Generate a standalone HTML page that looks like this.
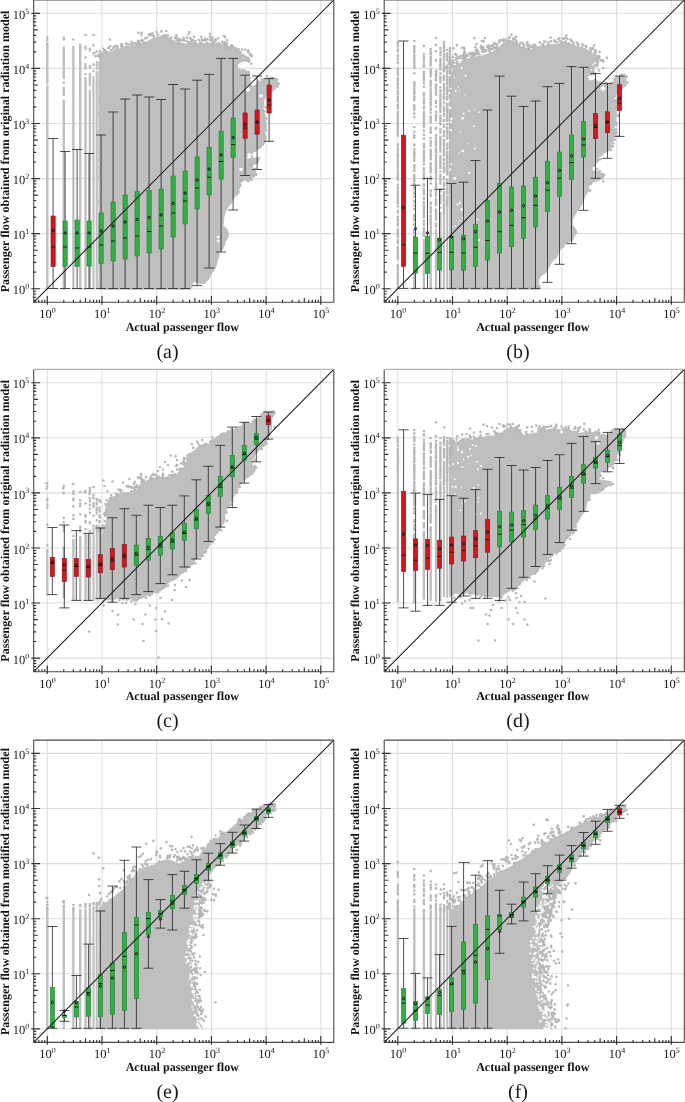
<!DOCTYPE html>
<html lang="en"><head><meta charset="utf-8"><title>Passenger flow: radiation model comparison</title>
<style>
html,body{margin:0;padding:0;background:#fff}
svg{display:block}
text{font-family:"Liberation Serif","Times New Roman",serif;fill:#1a1a1a;text-rendering:geometricPrecision}
.tk{font-size:12.5px}
.sp{font-size:8px}
.ax{font-size:12.1px;font-weight:bold;fill:#111}
.pl{font-size:20px}
</style></head><body>
<svg width="685" height="1102" viewBox="0 0 685 1102">
<rect width="685" height="1102" fill="#fff"/>
<g id="panel-a">
<clipPath id="cla"><rect x="33.7" y="0" width="300.1" height="302.3"/></clipPath>
<path d="M47.3 0V302.3M33.7 288.7H333.8M102 0V302.3M33.7 233.6H333.8M156.7 0V302.3M33.7 178.6H333.8M211.4 0V302.3M33.7 123.5H333.8M266.1 0V302.3M33.7 68.4H333.8M320.8 0V302.3M33.7 13.3H333.8" stroke="#dedede" stroke-width="1.1" fill="none"/>
<g clip-path="url(#cla)">
<path d="M99.5 288.9L99 286.4L99.3 283.4L100 279.9L99.6 275.9L100.2 274.3L99.3 269.9L99.4 267.9L100.1 264.1L99.2 261.1L99.3 258L100.2 255L99.6 251.7L99.9 248.7L98.7 246.4L100.2 243.5L99.9 240.2L100.4 236.8L98.6 234.4L99.5 230.6L98.7 228.3L99 224.4L100.4 222.9L98.9 218.1L99.9 215.9L99.9 212.1L100.3 210.3L100.2 206L99.6 204.4L98.7 201.1L99.6 197.9L99.6 194.5L100 191.6L99.7 189.1L99.7 185.2L100.2 183.4L99 178.9L99.1 176.5L99.5 174.3L99.9 170.5L99 167.3L100.2 164.4L98.6 160.9L98.7 158.3L100.3 155.8L98.7 152.8L99.1 149.9L99.3 146.5L99.5 142.4L99.5 140.7L99.4 137L99.4 134.7L98.9 130.8L100 128.5L99.3 124.4L100.2 121.2L100.2 119.5L98.6 115.3L98.9 112.2L99.7 110.1L99.4 105.9L98.7 103.1L99.2 99.9L98.9 97.6L99.4 94.7L100.1 90.7L98.8 87.9L100 85.9L98.9 81.8L99.3 78.3L99.3 76.3L99.5 74L99.9 70.9L99.3 67.3L99.9 64.9L100.1 61.7L100 57.8L101.4 55.2L103.8 51.4L108.8 52.4L112.1 52L114.8 51L117.4 49.6L121.8 48.8L123.6 48.6L127.5 46.7L133.5 46.1L136.8 46.1L140.5 44.9L143.4 43.6L147.7 42L150.9 39.7L155.1 38.3L160.4 36.5L164.7 35.2L168.9 38.3L171.8 40.1L175.1 42.2L179.3 43.3L183.5 43.7L189.1 45.1L192.1 45.3L195 43.8L198.2 44L201.4 43.7L204.3 44.8L207.6 44.3L210.5 43.5L214.8 44.4L218.5 42.6L223.1 46.3L226.8 47.8L230 49.3L233.1 51.7L235.4 51.6L239 52.7L243.1 55L246.2 56.7L248.6 58.7L247.5 61L241.6 60.8L238.2 63.4L235.2 65.7L239.7 70.4L243.8 70.2L248.3 72.1L247.7 76L249.1 79.4L246.4 81.4L249.8 83.1L251.3 86L256.9 86.5L259.3 82.6L264.2 79.2L268.1 78.6L271.9 78.4L274.5 77.7L275.5 83.3L274.9 88.8L271.4 91.7L267.7 94.1L266.1 95.4L263.5 100.1L263.6 105.7L261.8 110.8L264.7 115.2L265.1 121.3L266.3 125.2L264.9 130.4L263.7 132.5L264.5 135.9L263.9 139L263.1 144.6L259.2 148.4L256 149.6L253.6 150.6L250.9 152.8L246.2 151.9L243.7 154.2L244.6 157.6L248.5 159.9L250.9 158.8L254.2 158.2L259.5 157.7L257.6 162.6L253.8 164.2L251.1 163.8L252.6 168.2L255.3 171.6L254.2 174.9L251 178.7L248.1 181.6L244.6 179.3L241.6 178.4L240.4 182.6L239.8 186.3L237.4 191.3L235.6 195.3L232.4 199.4L231.2 202.4L228.5 205.7L226.5 208.6L224.6 212.6L223.7 216.1L223.4 219.8L222.5 225.8L226.5 229.2L228.2 233.9L227.7 237L225.4 240.6L223.8 246L222.1 249.4L218.6 251.9L218.7 256.2L217.2 259.8L216.2 264.2L215.3 267.1L214.1 270L211 273.2L209.3 277.1L208.6 278.6L204.3 283.1L200.2 283.2L198.1 282.5L193.4 281.1L191.5 285.1L190.5 288.9L187.5 288.9L184.4 288.9L181.4 288.9L178.4 288.9L175.3 288.9L172.3 288.9L169.3 288.9L166.2 288.9L163.2 288.9L160.2 288.9L157.1 288.9L154.1 288.9L151.1 288.9L148 288.9L145 288.9L142 288.9L138.9 288.9L135.9 288.9L132.9 288.9L129.8 288.9L126.8 288.9L123.8 288.9L120.7 288.9L117.7 288.9L114.7 288.9L111.6 288.9L108.6 288.9L105.6 288.9L102.5 288.9Z" fill="#bfbfbf" stroke="#bfbfbf" stroke-width="1.6" stroke-linejoin="round"/>
<path d="M47.3 47V83M47.3 86.5V288.5M63.8 47.5V78M63.8 87.5V95M63.8 100.5V288.5M73.4 47V103M73.4 105V288.5M80.2 44.5V288.5M85.5 46.5V49M85.5 64V68.5M85.5 78V288.5M89.9 48.5V50.5M89.9 66V68M89.9 74V85.5M89.9 90.5V288.5" stroke="#bfbfbf" stroke-width="2.4" stroke-linecap="round" fill="none"/>
<path d="M93.5 44.5V46M93.5 77V288.5M96.7 62V69M96.7 72V288.5M99.5 62V288.5" stroke="#bfbfbf" stroke-width="2.1" stroke-linecap="round" fill="none"/>
<path d="M47.3 40h0M47.3 45.5h0M47.3 44.8h0M47.3 43.6h0M47.3 37.5h0M63.8 39.3h0M63.8 38.6h0M63.8 37.7h0M63.8 82.5h0M73.4 39.5h0M85.5 35h0M85.5 57.5h0M85.5 74h0M93.5 35h0M93.5 53.5h0M93.5 64.7h0M93.5 71h0M96.7 51.5h0M99.5 56.9h0M99.5 55.9h0M99.5 54h0M240.5 52.3h0M189.4 32h0M106 51.6h0M236 48.8h0M178.7 39.5h0M204.2 40.1h0M126.2 46.5h0M210.3 40h0M117.5 46.3h0M121.6 47.4h0M184.4 40.5h0M190.3 43.9h0M137.4 45.3h0M191.2 41.5h0M203.3 40.2h0M179.2 38.9h0M132.6 44.6h0M167.9 35.6h0M224 36.1h0M108.5 47.8h0M237.9 52.1h0M182.8 40.1h0M224.9 42.2h0M251.6 56.3h0M144.3 43h0M235.3 48h0M180 43.7h0M212.5 37.6h0M128.1 44.3h0M161.4 31.4h0M198.7 40.1h0M157.9 34.7h0M186.5 40.7h0M142.1 40.1h0M247.7 51.6h0M133.7 43.2h0M234.5 50h0M120.9 44.5h0M176.4 38.7h0M99.8 51.1h0M230.1 47.9h0M147.2 37.7h0M231.6 45.4h0M238 50.2h0M156.6 32.1h0M140.7 44h0M232.6 46h0M138 40.7h0M211.6 44h0M141.3 35.2h0M250.3 54.4h0M204.1 40.4h0M215.4 41.5h0M247.5 58.4h0M183.6 39.7h0M191.3 39.3h0M201.8 43.7h0M187.1 37.6h0M181.3 40.3h0M248.2 50.4h0M205.2 38.9h0M121.1 45.5h0M105.2 50.3h0M204.9 40.6h0M139.2 41.7h0M207.5 39.2h0M238.8 49.2h0M108.8 48.2h0M210.2 34.1h0M190.2 38.2h0M230.8 47.3h0M213.5 43.1h0M212.4 40.2h0M244.9 49.5h0M238.9 51.8h0M188.5 34.2h0M141.7 32.9h0M94.3 53h0M248.5 52.3h0M241.9 49.6h0M176.4 35.2h0M126.2 43.6h0M175.1 37.9h0M210.1 37.1h0M212.4 39.6h0M114.2 46.9h0M191.7 42.4h0M201.8 39.5h0M233.2 47.6h0M110.4 46.1h0M231.2 46.6h0M121.5 47.2h0M194.3 43.4h0M195.7 43.7h0M228.3 47.1h0M183.9 39.3h0M163.8 35.8h0M95.4 56.1h0M111.2 50h0M136.2 43.2h0M117.2 47.7h0M188.3 42.9h0M251.9 55.9h0M215.3 40.9h0M153.6 35.9h0M136 43.9h0M165.2 35.3h0M225.4 44.5h0M251.8 55.6h0M179 43.1h0M131.5 41.8h0M237.2 50.3h0M193.8 43.8h0M249.1 61.6h0M130.8 44.4h0M141.6 44.2h0M97.5 55.7h0M204.5 44.3h0M194 36.7h0M179 41h0M113.3 48.8h0M171.2 37.6h0M176.5 37.3h0M251.2 63.7h0M125.4 47.4h0M250.2 54.9h0M188.6 42.4h0M225 46h0M201.2 36.7h0M227.1 40.3h0M138.6 44.4h0M145 38.4h0M195.3 41.1h0M205.6 40.3h0M110 39.6h0M113.7 46.7h0M234.2 49.3h0M183.4 37.7h0M149.6 35.5h0M227 43.9h0M137.8 42.9h0M104.5 50h0M212.5 41.9h0M176.5 40.4h0M215.5 39.2h0M223.5 44h0M138.5 32.7h0M116.2 49.6h0M200.2 42.6h0M234.2 51.8h0M101 53.6h0M215.5 39.3h0M166.2 31h0M143.5 41.8h0M142.4 40.5h0M228.5 47.1h0M153.9 36.4h0M140.9 40.7h0M231.9 48.8h0M99.3 56.2h0M225.2 37.2h0M151.9 34.9h0M116.2 45.7h0M193.4 40.2h0M218.1 38.3h0M248.3 58.1h0M103.4 48.7h0M148.9 34.3h0M122.6 46.6h0M227 48.2h0M122.1 44.3h0M108.3 48.2h0M151.2 33.9h0M152.7 33.6h0M226.7 46.6h0M201.9 40.3h0M207.1 43.1h0M222.2 41.8h0M236.4 50.2h0M215.8 39.8h0M249.6 60.6h0M236.7 66.5h0M263.4 143.6h0M265.6 107.3h0M237.2 194.1h0M251.3 164.5h0M242.7 180.5h0M256.2 174.4h0M237.9 191.9h0M240.3 185.4h0M247.8 60.4h0M263.9 132h0M257.7 83.4h0M252.1 153h0M249 74.5h0M253.3 175.7h0M264.1 134.2h0M241.9 180.4h0M271.2 77.8h0M262.4 80.2h0M258.4 81.5h0M255.3 169h0M276.4 79h0M263.1 142.7h0M278.8 83.7h0M263.3 113.4h0M266.5 118.6h0M238.7 191.9h0M249.5 81.3h0M277.3 82.7h0M266.3 130h0M246 154.4h0M265.6 137.7h0M249.6 159.5h0M272.7 77.9h0M251.3 179.7h0M243.2 179.5h0M277 79.7h0M276.5 79.5h0M264.5 111.3h0M237 66h0M267.3 76.4h0M246.7 153h0M244.4 153.1h0M251.9 164.9h0M249.8 77.7h0M251.8 156.5h0M254 176.1h0M238.9 187.1h0M265.5 139.1h0M249 72.3h0M251.6 163.6h0M277.2 86.7h0M277.1 84.9h0M256.2 174.7h0M262.9 110.2h0M243.1 70.3h0M258 83.7h0M265 135.9h0M254.8 151h0M264.2 139h0M262.2 79.2h0M250.2 164.7h0M246.5 156.5h0M275.9 80.6h0M256.1 85.6h0M264.3 141.6h0M240.7 181.2h0" stroke="#b8b8b8" stroke-width="2.65" stroke-linecap="round" fill="none"/>
<g fill="#fff"><circle cx="247.8" cy="89.5" r="2.2"/><circle cx="261" cy="95.8" r="1.8"/><circle cx="241" cy="169.5" r="1.8"/><circle cx="218" cy="237" r="1.3"/><circle cx="218.2" cy="241" r="1.4"/></g>
</g>
<path d="M53.1 138.5V216M53.1 266.5V288.5M48.1 138.5H58.1M48.1 288.5H58.1M65.1 151.5V221M65.1 266.5V288.5M60.1 151.5H70.1M60.1 288.5H70.1M77.1 149.5V220M77.1 266.5V288.5M72.1 149.5H82.1M72.1 288.5H82.1M89.1 153.5V221M89.1 266V288.5M84.1 153.5H94.1M84.1 288.5H94.1M101.1 135V213M101.1 263.5V288.5M96.1 135H106.1M96.1 288.5H106.1M113.1 112V202M113.1 261V288.5M108.1 112H118.1M108.1 288.5H118.1M125.1 99V195M125.1 259V288.5M120.1 99H130.1M120.1 288.5H130.1M137.1 95V191.5M137.1 256V288.5M132.1 95H142.1M132.1 288.5H142.1M149.1 97V190.5M149.1 253V288.5M144.1 97H154.1M144.1 288.5H154.1M161.1 99.5V189M161.1 249V288.5M156.1 99.5H166.1M156.1 288.5H166.1M173.1 84.5V176M173.1 237V288.5M168.1 84.5H178.1M168.1 288.5H178.1M185.1 89V171M185.1 224V288.5M180.1 89H190.1M180.1 288.5H190.1M197.1 80.2V157M197.1 209V285.6M192.1 80.2H202.1M192.1 285.6H202.1M209.1 74.4V147.2M209.1 195V268M204.1 74.4H214.1M204.1 268H214.1M221.1 58.4V131.2M221.1 179V252M216.1 58.4H226.1M216.1 252H226.1M233.1 58.4V118M233.1 157.6V210M228.1 58.4H238.1M228.1 210H238.1M245.1 75.2V113M245.1 138.3V175.5M240.1 75.2H250.1M240.1 175.5H250.1M257.1 76V110M257.1 134.2V169.5M252.1 76H262.1M252.1 169.5H262.1M269.1 78.6V85M269.1 113V141.3M264.1 78.6H274.1M264.1 141.3H274.1" stroke="#1e1e1e" stroke-width="0.78" fill="none"/>
<rect x="51" y="216" width="4.2" height="50.5" fill="#d5161c" stroke="#7a1418" stroke-width="0.6"/>
<rect x="63" y="221" width="4.2" height="45.5" fill="#33b044" stroke="#1e7a30" stroke-width="0.6"/>
<rect x="75" y="220" width="4.2" height="46.5" fill="#33b044" stroke="#1e7a30" stroke-width="0.6"/>
<rect x="87" y="221" width="4.2" height="45" fill="#33b044" stroke="#1e7a30" stroke-width="0.6"/>
<rect x="99" y="213" width="4.2" height="50.5" fill="#33b044" stroke="#1e7a30" stroke-width="0.6"/>
<rect x="111" y="202" width="4.2" height="59" fill="#33b044" stroke="#1e7a30" stroke-width="0.6"/>
<rect x="123" y="195" width="4.2" height="64" fill="#33b044" stroke="#1e7a30" stroke-width="0.6"/>
<rect x="135" y="191.5" width="4.2" height="64.5" fill="#33b044" stroke="#1e7a30" stroke-width="0.6"/>
<rect x="147" y="190.5" width="4.2" height="62.5" fill="#33b044" stroke="#1e7a30" stroke-width="0.6"/>
<rect x="159" y="189" width="4.2" height="60" fill="#33b044" stroke="#1e7a30" stroke-width="0.6"/>
<rect x="171" y="176" width="4.2" height="61" fill="#33b044" stroke="#1e7a30" stroke-width="0.6"/>
<rect x="183" y="171" width="4.2" height="53" fill="#33b044" stroke="#1e7a30" stroke-width="0.6"/>
<rect x="195" y="157" width="4.2" height="52" fill="#33b044" stroke="#1e7a30" stroke-width="0.6"/>
<rect x="207" y="147.2" width="4.2" height="47.8" fill="#33b044" stroke="#1e7a30" stroke-width="0.6"/>
<rect x="219" y="131.2" width="4.2" height="47.8" fill="#33b044" stroke="#1e7a30" stroke-width="0.6"/>
<rect x="231" y="118" width="4.2" height="39.6" fill="#33b044" stroke="#1e7a30" stroke-width="0.6"/>
<rect x="243" y="113" width="4.2" height="25.3" fill="#d5161c" stroke="#7a1418" stroke-width="0.6"/>
<rect x="255" y="110" width="4.2" height="24.2" fill="#d5161c" stroke="#7a1418" stroke-width="0.6"/>
<rect x="267" y="85" width="4.2" height="28" fill="#d5161c" stroke="#7a1418" stroke-width="0.6"/>
<path d="M51 247H55.2M63 247H67.2M75 248H79.2M87 247H91.2M99 245H103.2M111 241H115.2M123 238H127.2M135 236H139.2M147 231.5H151.2M159 226H163.2M171 213H175.2M183 201H187.2M195 188H199.2M207 177.3H211.2M219 161.5H223.2M231 144.5H235.2M243 128H247.2M255 122.5H259.2M267 105H271.2" stroke="#0a1f0e" stroke-width="0.95" fill="none"/>
<g fill="none" stroke="#0a0a0a" stroke-width="0.85"><circle cx="53.1" cy="230.5" r="1.2"/><circle cx="65.1" cy="233" r="1.2"/><circle cx="77.1" cy="233" r="1.2"/><circle cx="89.1" cy="233" r="1.2"/><circle cx="101.1" cy="231" r="1.2"/><circle cx="113.1" cy="226" r="1.2"/><circle cx="125.1" cy="222" r="1.2"/><circle cx="137.1" cy="219.5" r="1.2"/><circle cx="149.1" cy="217.5" r="1.2"/><circle cx="161.1" cy="215" r="1.2"/><circle cx="173.1" cy="203.5" r="1.2"/><circle cx="185.1" cy="193" r="1.2"/><circle cx="197.1" cy="180" r="1.2"/><circle cx="209.1" cy="169" r="1.2"/><circle cx="221.1" cy="155" r="1.2"/><circle cx="233.1" cy="137.6" r="1.2"/><circle cx="245.1" cy="124.4" r="1.2"/><circle cx="257.1" cy="122" r="1.2"/><circle cx="269.1" cy="100" r="1.2"/></g>
<path d="M33.7 302.3L333.8 0" stroke="#1a1a1a" stroke-width="1.05" fill="none"/>
<path d="M33.7 0V302.3H333.8V0" stroke="#4a4a4a" stroke-width="1.1" fill="none"/>
<path d="M33.7 0H333.8" stroke="#4a4a4a" stroke-width="1.1" fill="none"/>
<path d="M35.2 302.3v-2.5M33.7 300.9h2.5M38.8 302.3v-2.5M33.7 297.2h2.5M42 302.3v-2.5M33.7 294h2.5M44.8 302.3v-2.5M33.7 291.2h2.5M47.3 304.7v-8.7M31.3 288.7h8.7M63.8 302.3v-2.5M33.7 272.1h2.5M73.4 302.3v-2.5M33.7 262.4h2.5M80.2 302.3v-2.5M33.7 255.5h2.5M85.5 302.3v-4.2M33.7 250.2h4.2M89.9 302.3v-2.5M33.7 245.8h2.5M93.5 302.3v-2.5M33.7 242.2h2.5M96.7 302.3v-2.5M33.7 239h2.5M99.5 302.3v-2.5M33.7 236.1h2.5M102 304.7v-8.7M31.3 233.6h8.7M118.5 302.3v-2.5M33.7 217.1h2.5M128.1 302.3v-2.5M33.7 207.4h2.5M134.9 302.3v-2.5M33.7 200.5h2.5M140.2 302.3v-4.2M33.7 195.1h4.2M144.6 302.3v-2.5M33.7 190.8h2.5M148.2 302.3v-2.5M33.7 187.1h2.5M151.4 302.3v-2.5M33.7 183.9h2.5M154.2 302.3v-2.5M33.7 181.1h2.5M156.7 304.7v-8.7M31.3 178.6h8.7M173.2 302.3v-2.5M33.7 162h2.5M182.8 302.3v-2.5M33.7 152.3h2.5M189.6 302.3v-2.5M33.7 145.4h2.5M194.9 302.3v-4.2M33.7 140.1h4.2M199.3 302.3v-2.5M33.7 135.7h2.5M202.9 302.3v-2.5M33.7 132h2.5M206.1 302.3v-2.5M33.7 128.8h2.5M208.9 302.3v-2.5M33.7 126h2.5M211.4 304.7v-8.7M31.3 123.5h8.7M227.9 302.3v-2.5M33.7 106.9h2.5M237.5 302.3v-2.5M33.7 97.2h2.5M244.3 302.3v-2.5M33.7 90.3h2.5M249.6 302.3v-4.2M33.7 85h4.2M254 302.3v-2.5M33.7 80.6h2.5M257.6 302.3v-2.5M33.7 77h2.5M260.8 302.3v-2.5M33.7 73.8h2.5M263.6 302.3v-2.5M33.7 70.9h2.5M266.1 304.7v-8.7M31.3 68.4h8.7M282.6 302.3v-2.5M33.7 51.8h2.5M292.2 302.3v-2.5M33.7 42.1h2.5M299 302.3v-2.5M33.7 35.3h2.5M304.3 302.3v-4.2M33.7 29.9h4.2M308.7 302.3v-2.5M33.7 25.6h2.5M312.3 302.3v-2.5M33.7 21.9h2.5M315.5 302.3v-2.5M33.7 18.7h2.5M318.3 302.3v-2.5M33.7 15.9h2.5M320.8 304.7v-8.7M31.3 13.3h8.7" stroke="#333" stroke-width="1.15" fill="none"/>
<text class="tk" x="47.6" y="318.3" text-anchor="middle">10<tspan class="sp" dy="-5.1">0</tspan></text>
<text class="tk" x="29.3" y="294.3" text-anchor="end">10<tspan class="sp" dy="-5.1">0</tspan></text>
<text class="tk" x="102.3" y="318.3" text-anchor="middle">10<tspan class="sp" dy="-5.1">1</tspan></text>
<text class="tk" x="29.3" y="239.2" text-anchor="end">10<tspan class="sp" dy="-5.1">1</tspan></text>
<text class="tk" x="157" y="318.3" text-anchor="middle">10<tspan class="sp" dy="-5.1">2</tspan></text>
<text class="tk" x="29.3" y="184.2" text-anchor="end">10<tspan class="sp" dy="-5.1">2</tspan></text>
<text class="tk" x="211.7" y="318.3" text-anchor="middle">10<tspan class="sp" dy="-5.1">3</tspan></text>
<text class="tk" x="29.3" y="129.1" text-anchor="end">10<tspan class="sp" dy="-5.1">3</tspan></text>
<text class="tk" x="266.4" y="318.3" text-anchor="middle">10<tspan class="sp" dy="-5.1">4</tspan></text>
<text class="tk" x="29.3" y="74" text-anchor="end">10<tspan class="sp" dy="-5.1">4</tspan></text>
<text class="tk" x="321.1" y="318.3" text-anchor="middle">10<tspan class="sp" dy="-5.1">5</tspan></text>
<text class="tk" x="29.3" y="18.9" text-anchor="end">10<tspan class="sp" dy="-5.1">5</tspan></text>
<text class="ax" x="182.3" y="330.8" text-anchor="middle">Actual passenger flow</text>
<text class="ax" transform="translate(8.8 151.4) rotate(-90)" text-anchor="middle">Passenger flow obtained from original radiation model</text>
<text class="pl" x="167.5" y="357.9" text-anchor="middle">(a)</text>
</g>
<g id="panel-b">
<clipPath id="clb"><rect x="384.2" y="0" width="300.1" height="302.3"/></clipPath>
<path d="M397.8 0V302.3M384.2 288.7H684.3M452.5 0V302.3M384.2 233.6H684.3M507.2 0V302.3M384.2 178.6H684.3M561.9 0V302.3M384.2 123.5H684.3M616.6 0V302.3M384.2 68.4H684.3M671.3 0V302.3M384.2 13.3H684.3" stroke="#dedede" stroke-width="1.1" fill="none"/>
<g clip-path="url(#clb)">
<path d="M450.5 288.9L450.2 286.4L450.2 282L450.5 280.1L450.8 275.9L450.5 273L449.7 271.4L450.9 267.2L451 264.9L449.6 261.1L450.1 257.4L450.9 255.8L450.5 252.7L450.6 248.9L450.6 246.5L450.1 242.9L449.8 239.9L450.8 236.6L449.8 234.4L451 231.2L449.9 228.5L450.5 223.9L450.1 220.7L451.1 219.2L451.2 215.7L450.6 212L450.8 208.3L449.7 206.2L450.2 203.9L450.8 199.2L450.7 196.1L451.3 194.2L451 190.5L449.7 188.1L450.8 184.3L450 182.2L450.2 178.8L451.2 175.7L449.8 173L451.4 169.9L450.8 165.4L449.8 163.6L449.8 160.7L450 156.8L450 154.1L450.8 150.4L450.5 147.7L450.8 145.3L450.4 140.7L451.3 138.8L449.9 135.7L449.7 133.2L450.1 129.7L450.2 126.3L450.6 123.9L450.5 120.6L450.5 116.6L451.1 113.2L449.9 110.4L450.5 107.8L449.9 103.7L450.4 100.8L450.6 99.3L451.1 94.7L450.7 92L451 89.4L450.3 85.8L449.9 83.3L450 80.3L451.6 76.7L451.3 74.4L452.6 70.4L454.1 66.9L456.9 65.1L460.6 63.5L463.1 60.6L465.3 60.3L470 58.6L472 59L475.9 57.3L480.3 56.6L484.3 55.4L487.1 54.7L491.7 52.8L494.2 51.1L497.8 50.2L500.4 46.4L504 43.7L508.9 40.6L512.2 41.2L516.3 43.6L519 45.9L522.3 48.4L528.4 48.8L531.5 50L535.9 48.3L541.2 46.1L544.6 46.7L547.5 45.3L553.2 44.5L556.1 44.7L562.5 43L564.7 42.9L568.5 43.2L572.9 45.3L577.5 47.4L580.9 47.9L585.8 49.2L589 51.5L592.4 54L595 55.9L599.6 55.8L599.3 58.5L597.6 60.9L593.8 61.9L591.7 64.4L590.3 67.2L589.3 68.9L591.3 71.9L591.8 74L588.5 78.6L587.9 82.2L590.2 81.2L594.4 80.2L597.2 81.8L600.6 82.3L602.5 84.2L604.7 86.2L609 83.7L612.5 82.4L615.8 80L616.3 77.1L620.5 76.5L625.3 76.2L625.7 80.4L626 84.8L623.3 87.2L619.1 90.1L616.2 92.1L613.7 94.8L612.9 97.6L615.4 101.5L616.3 102.7L615.5 105.9L616.3 109.7L616.2 113L615.4 115.4L614.9 119.2L615.6 123.4L613.6 125.5L614.7 129.4L615.2 133.2L615 135.4L613 138.8L611.2 140.8L610.2 144.8L610.4 146.9L610 149.7L604.7 152.2L600.9 155.7L598.3 156.5L596 159.9L597.5 161.5L594.6 163.8L592 165.9L592.1 171L595.1 171.4L599 173.2L602.5 173.6L604.9 175.1L601.2 178.6L598.8 179.9L594.4 181.3L590.4 182.7L588.3 187L587.8 191.7L585.6 194.3L583.7 198.6L582.7 201.1L581.5 204.8L579.6 207.7L576.7 211.2L574.8 214L572.7 217.9L571.9 221.6L572 226L574.8 228.3L576.6 232.4L574 235.8L572.7 239.8L568.5 241.9L564.7 244.1L563.5 247L560.3 248.3L557.4 254.7L556.5 257.3L553.2 259.8L551.7 261.4L549.8 264.5L547.1 269.3L545.9 272.1L542.5 274.2L540.1 276L538.4 279.3L537.8 283.8L539.7 286.1L539.2 288.9L536.1 288.9L533.1 288.9L530 288.9L527 288.9L523.9 288.9L520.8 288.9L517.8 288.9L514.7 288.9L511.7 288.9L508.6 288.9L505.6 288.9L502.5 288.9L499.4 288.9L496.4 288.9L493.3 288.9L490.3 288.9L487.2 288.9L484.1 288.9L481.1 288.9L478 288.9L475 288.9L471.9 288.9L468.9 288.9L465.8 288.9L462.7 288.9L459.7 288.9L456.6 288.9L453.6 288.9Z" fill="#bfbfbf" stroke="#bfbfbf" stroke-width="1.6" stroke-linejoin="round"/>
<path d="M414.3 245V288.4M423.9 240V288.4M430.7 235V288.4M436 230V288.4M440.4 225V288.4" stroke="#bfbfbf" stroke-width="2.4" stroke-linecap="round" fill="none"/>
<path d="M444 215V288.4M447.2 205V288.4M450 200V288.4" stroke="#bfbfbf" stroke-width="2.1" stroke-linecap="round" fill="none"/>
<path d="M397.8 43.4h0M397.8 108.3h0M397.8 144.2h0M397.8 163.2h0M397.8 98.3h0M397.8 128.5h0M397.8 50.4h0M397.8 167h0M397.8 172.8h0M397.8 199.5h0M397.8 150h0M397.8 130.1h0M397.8 117.1h0M397.8 198.1h0M397.8 43.4h0M397.8 122.5h0M397.8 194.3h0M397.8 133.4h0M397.8 192.8h0M397.8 135.4h0M397.8 55.6h0M397.8 78.8h0M397.8 81.6h0M397.8 145.5h0M397.8 59.3h0M397.8 174.4h0M397.8 106.8h0M397.8 124h0M397.8 83.5h0M397.8 195.8h0M397.8 127.6h0M397.8 176.9h0M397.8 74.8h0M397.8 126.2h0M397.8 159.6h0M397.8 175.7h0M397.8 164.5h0M397.8 170.1h0M397.8 83.2h0M397.8 84.7h0M397.8 78.3h0M397.8 98.5h0M397.8 197.9h0M397.8 163.2h0M397.8 62.5h0M397.8 199.6h0M397.8 112.1h0M397.8 93.8h0M397.8 162h0M397.8 187.6h0M397.8 46.2h0M397.8 56.2h0M397.8 120.2h0M397.8 79.9h0M397.8 125.1h0M397.8 101.8h0M397.8 167h0M397.8 88.3h0M397.8 130.9h0M397.8 184.8h0M397.8 179h0M397.8 177.1h0M397.8 134.1h0M397.8 173.6h0M397.8 148.5h0M397.8 108.2h0M397.8 96.6h0M397.8 154.9h0M397.8 189h0M397.8 132h0M397.8 166.6h0M397.8 174.1h0M397.8 151.8h0M397.8 51h0M397.8 106.4h0M397.8 114.8h0M397.8 112.9h0M397.8 160.2h0M397.8 189.1h0M397.8 194.9h0M397.8 188.8h0M397.8 167.4h0M397.8 131.6h0M397.8 155.5h0M397.8 45.9h0M397.8 107.2h0M397.8 114.5h0M397.8 177.2h0M397.8 191.5h0M397.8 70.3h0M397.8 62.9h0M397.8 176.1h0M397.8 126.6h0M397.8 135.6h0M397.8 156.1h0M397.8 74.9h0M397.8 154.3h0M397.8 150h0M397.8 104.9h0M397.8 153.8h0M397.8 118.8h0M397.8 68.5h0M397.8 179.7h0M397.8 72.6h0M397.8 156.8h0M397.8 156.9h0M397.8 99.4h0M397.8 123.9h0M397.8 87.4h0M397.8 121.6h0M397.8 49.5h0M397.8 123.1h0M397.8 177.8h0M397.8 176.1h0M397.8 91.5h0M397.8 73.1h0M397.8 91.2h0M397.8 156.6h0M397.8 42h0M397.8 217.1h0M397.8 281.7h0M397.8 223.3h0M397.8 225.3h0M397.8 254.3h0M397.8 286.4h0M397.8 234.7h0M397.8 267h0M397.8 281h0M397.8 276.2h0M397.8 284h0M397.8 235.7h0M397.8 235.8h0M397.8 231h0M397.8 216.5h0M397.8 233.9h0M397.8 269.5h0M397.8 257.4h0M397.8 252h0M397.8 219.8h0M397.8 202.5h0M397.8 250.5h0M397.8 225.2h0M397.8 283h0M397.8 269.2h0M397.8 252.8h0M397.8 211.4h0M397.8 286.3h0M397.8 288.1h0M397.8 288.3h0M397.8 286.4h0M397.8 248.6h0M397.8 248.2h0M397.8 255.8h0M397.8 240h0M397.8 235.4h0M397.8 247.3h0M397.8 283.9h0M397.8 251.3h0M397.8 254h0M397.8 234.8h0M397.8 273.7h0M397.8 216.6h0M397.8 286.4h0M397.8 212.2h0M397.8 259.1h0M397.8 220.5h0M397.8 272.8h0M397.8 220.6h0M397.8 203.3h0M397.8 281h0M397.8 236.5h0M397.8 267.8h0M397.8 217.5h0M397.8 281.3h0M397.8 274.7h0M397.8 229.6h0M397.8 281.1h0M397.8 242.6h0M397.8 278.5h0M397.8 242.9h0M397.8 251.8h0M397.8 280h0M397.8 224.8h0M397.8 233.6h0M397.8 220.4h0M397.8 269.7h0M397.8 280.7h0M397.8 224h0M397.8 201.1h0M397.8 230.1h0M397.8 265.4h0M397.8 277.1h0M397.8 241.5h0M397.8 206.5h0M397.8 250.8h0M397.8 232.8h0M397.8 270.1h0M397.8 258.4h0M397.8 200h0M414.3 83.4h0M414.3 63.5h0M414.3 109.6h0M414.3 48.5h0M414.3 60.1h0M414.3 90.3h0M414.3 49.8h0M414.3 49.7h0M414.3 97.7h0M414.3 61.1h0M414.3 65.5h0M414.3 63.5h0M414.3 88.9h0M414.3 58.1h0M414.3 94h0M414.3 106h0M414.3 49.9h0M414.3 96.5h0M414.3 85.4h0M414.3 106.1h0M414.3 61h0M414.3 105.3h0M414.3 97.9h0M414.3 67h0M414.3 60.3h0M414.3 82.4h0M414.3 55.1h0M414.3 52.2h0M414.3 61.4h0M414.3 48h0M414.3 56.8h0M414.3 92.5h0M414.3 51h0M414.3 65.3h0M414.3 98.5h0M414.3 93h0M414.3 86.7h0M414.3 100.2h0M414.3 90.9h0M414.3 46h0M414.3 107.6h0M414.3 98.4h0M414.3 57.1h0M414.3 108.2h0M414.3 68.1h0M414.3 92.6h0M414.3 57.1h0M414.3 93.7h0M414.3 92.2h0M414.3 73.2h0M414.3 105.3h0M414.3 41h0M414.3 175h0M414.3 188.5h0M414.3 155h0M414.3 215.7h0M414.3 220.5h0M414.3 165.3h0M414.3 218.9h0M414.3 201.3h0M414.3 160.8h0M414.3 188.5h0M414.3 178.5h0M414.3 201h0M414.3 187.9h0M414.3 180.9h0M414.3 144.6h0M414.3 184.7h0M414.3 189.1h0M414.3 179.9h0M414.3 135.6h0M414.3 168.2h0M414.3 170.9h0M414.3 131.9h0M414.3 155h0M414.3 117.2h0M414.3 152h0M414.3 201.8h0M414.3 166.6h0M414.3 159.7h0M414.3 194h0M414.3 171h0M414.3 151.9h0M414.3 127h0M414.3 171h0M414.3 192.3h0M414.3 149.3h0M414.3 177.4h0M414.3 135.3h0M414.3 184.9h0M414.3 209.1h0M414.3 151.9h0M414.3 192.2h0M414.3 205.5h0M414.3 113.6h0M414.3 166.6h0M414.3 216.2h0M414.3 154.6h0M414.3 220.5h0M414.3 137.7h0M414.3 117.1h0M414.3 176.6h0M414.3 153.4h0M414.3 219.4h0M414.3 185.2h0M414.3 145.4h0M414.3 157.4h0M414.3 117h0M414.3 178.8h0M414.3 224.2h0M414.3 167.9h0M414.3 215.2h0M414.3 196.9h0M414.3 215.9h0M414.3 183.5h0M414.3 110h0M414.3 244.8h0M414.3 239.8h0M414.3 236.4h0M414.3 231.6h0M414.3 239.4h0M414.3 236.9h0M414.3 232.9h0M414.3 237.7h0M414.3 237.4h0M414.3 230.2h0M414.3 230.1h0M414.3 239.2h0M414.3 235.9h0M414.3 236h0M414.3 244.8h0M414.3 232.3h0M414.3 241.4h0M414.3 241.3h0M414.3 225h0M423.9 191.8h0M423.9 61.1h0M423.9 66.6h0M423.9 197.7h0M423.9 194.2h0M423.9 202.8h0M423.9 176.6h0M423.9 107.7h0M423.9 216.3h0M423.9 144.3h0M423.9 161.2h0M423.9 138.5h0M423.9 138.7h0M423.9 103.6h0M423.9 152.9h0M423.9 80.6h0M423.9 164.3h0M423.9 106.5h0M423.9 220.9h0M423.9 65.9h0M423.9 116.9h0M423.9 75.9h0M423.9 119.4h0M423.9 211.1h0M423.9 135h0M423.9 156.6h0M423.9 151.4h0M423.9 65.6h0M423.9 103.3h0M423.9 130.3h0M423.9 176.1h0M423.9 160.3h0M423.9 189.3h0M423.9 117.1h0M423.9 193.1h0M423.9 146.6h0M423.9 64.4h0M423.9 123.5h0M423.9 144.1h0M423.9 94.2h0M423.9 189.8h0M423.9 61.5h0M423.9 177.1h0M423.9 217.3h0M423.9 161h0M423.9 102h0M423.9 122.7h0M423.9 193.7h0M423.9 153.1h0M423.9 202.3h0M423.9 161.2h0M423.9 191.7h0M423.9 146.3h0M423.9 168.4h0M423.9 151.5h0M423.9 155.5h0M423.9 86.7h0M423.9 113.7h0M423.9 202h0M423.9 169.9h0M423.9 123.4h0M423.9 150.9h0M423.9 172.8h0M423.9 186h0M423.9 215h0M423.9 83.2h0M423.9 77h0M423.9 116.1h0M423.9 205.2h0M423.9 151.2h0M423.9 126.8h0M423.9 121.9h0M423.9 57.1h0M423.9 72.6h0M423.9 93.6h0M423.9 100.4h0M423.9 93.8h0M423.9 158.6h0M423.9 209.4h0M423.9 121h0M423.9 108.6h0M423.9 93.4h0M423.9 198.8h0M423.9 77.2h0M423.9 125.3h0M423.9 130.7h0M423.9 79.8h0M423.9 213.1h0M423.9 94.9h0M423.9 217.1h0M423.9 147.6h0M423.9 190.6h0M423.9 174.3h0M423.9 156h0M423.9 121.3h0M423.9 76.6h0M423.9 71.9h0M423.9 214.7h0M423.9 213.8h0M423.9 134.7h0M423.9 115.8h0M423.9 54.4h0M423.9 73.9h0M423.9 106.8h0M423.9 76h0M423.9 79.3h0M423.9 179.4h0M423.9 223.6h0M423.9 57.8h0M423.9 58.4h0M423.9 160.6h0M423.9 184.4h0M423.9 179.3h0M423.9 112h0M423.9 207.4h0M423.9 97.8h0M423.9 46h0M423.9 229.4h0M423.9 233.5h0M423.9 232.3h0M423.9 234.5h0M423.9 231.4h0M423.9 234.4h0M423.9 229h0M423.9 229.4h0M423.9 228.3h0M423.9 231.7h0M423.9 235.2h0M423.9 231.9h0M423.9 236.1h0M423.9 225h0M430.7 110.3h0M430.7 96h0M430.7 74.4h0M430.7 101.9h0M430.7 99.4h0M430.7 98.4h0M430.7 118.8h0M430.7 117.5h0M430.7 105h0M430.7 93.3h0M430.7 83.8h0M430.7 81.1h0M430.7 88.5h0M430.7 108.6h0M430.7 108.5h0M430.7 61.6h0M430.7 80.8h0M430.7 113h0M430.7 116.6h0M430.7 103.3h0M430.7 72.4h0M430.7 95.6h0M430.7 69.5h0M430.7 86.1h0M430.7 105.6h0M430.7 92.5h0M430.7 69.6h0M430.7 72.2h0M430.7 71.6h0M430.7 86h0M430.7 118.6h0M430.7 53.3h0M430.7 51.2h0M430.7 94.7h0M430.7 58.2h0M430.7 57h0M430.7 54.3h0M430.7 65.5h0M430.7 90.6h0M430.7 63.4h0M430.7 96.9h0M430.7 76.5h0M430.7 72.9h0M430.7 61.1h0M430.7 92.5h0M430.7 82.2h0M430.7 64.6h0M430.7 59.6h0M430.7 85.8h0M430.7 63.6h0M430.7 90.3h0M430.7 105.3h0M430.7 52.7h0M430.7 49h0M430.7 234.5h0M430.7 232.4h0M430.7 177.2h0M430.7 223.1h0M430.7 172.6h0M430.7 171.7h0M430.7 138.1h0M430.7 183.4h0M430.7 227.5h0M430.7 171.7h0M430.7 169.5h0M430.7 154.3h0M430.7 129.1h0M430.7 176.5h0M430.7 153.6h0M430.7 167.2h0M430.7 171h0M430.7 190.3h0M430.7 158.5h0M430.7 215.8h0M430.7 232.6h0M430.7 178h0M430.7 159.3h0M430.7 179.8h0M430.7 221.3h0M430.7 218.9h0M430.7 208.9h0M430.7 164.7h0M430.7 216.4h0M430.7 232.1h0M430.7 172.5h0M430.7 220.5h0M430.7 233h0M430.7 167.4h0M430.7 121.9h0M430.7 202.5h0M430.7 218.8h0M430.7 227.2h0M430.7 141.2h0M430.7 191.7h0M430.7 127.8h0M430.7 179.4h0M430.7 206.9h0M430.7 218.8h0M430.7 227.1h0M430.7 169.3h0M430.7 131.9h0M430.7 224.3h0M430.7 154.1h0M430.7 152.1h0M430.7 143.5h0M430.7 132.9h0M430.7 149.7h0M430.7 216.4h0M430.7 230.7h0M430.7 164.4h0M430.7 158h0M430.7 131.6h0M430.7 131.4h0M430.7 195.4h0M430.7 212.4h0M430.7 164.7h0M430.7 168.6h0M430.7 196.1h0M430.7 163h0M430.7 156.1h0M430.7 146h0M430.7 203.7h0M430.7 224.4h0M430.7 228.4h0M430.7 194.5h0M430.7 207.8h0M430.7 179.1h0M430.7 195.8h0M430.7 215.5h0M430.7 159h0M430.7 163.3h0M430.7 211h0M430.7 177.8h0M430.7 150.1h0M430.7 120h0M436 51.3h0M436 44.8h0M436 45.2h0M436 38h0M436 195.2h0M436 196h0M436 205.2h0M436 219.4h0M436 191h0M436 193h0M436 115.5h0M436 182.6h0M436 75.2h0M436 142.4h0M436 187.4h0M436 212.6h0M436 145.6h0M436 120.6h0M436 149.7h0M436 192.4h0M436 204h0M436 115.7h0M436 137.5h0M436 202.4h0M436 150.5h0M436 182.2h0M436 214.2h0M436 152.5h0M436 202.1h0M436 157.4h0M436 120.6h0M436 172.8h0M436 200.4h0M436 158.6h0M436 195.6h0M436 214.8h0M436 144.4h0M436 160.3h0M436 89h0M436 187.2h0M436 187.9h0M436 155.9h0M436 167.2h0M436 76h0M436 128.1h0M436 223.5h0M436 202h0M436 169h0M436 152h0M436 117.8h0M436 169.4h0M436 76.6h0M436 202.3h0M436 172.3h0M436 178.6h0M436 106.5h0M436 158h0M436 135.1h0M436 119.6h0M436 179.5h0M436 60.6h0M436 72.6h0M436 102.7h0M436 168.7h0M436 224.9h0M436 224h0M436 114.9h0M436 184.3h0M436 71.3h0M436 169.6h0M436 88.1h0M436 138.5h0M436 199h0M436 204.4h0M436 226.7h0M436 201.1h0M436 116.5h0M436 175h0M436 86.6h0M436 179.6h0M436 201.6h0M436 204.9h0M436 171.4h0M436 127.7h0M436 176.1h0M436 163.7h0M436 165.4h0M436 215.3h0M436 80.3h0M436 74.9h0M436 148.6h0M436 119.3h0M436 78.8h0M436 70.8h0M436 212h0M436 160.2h0M436 161.6h0M436 213h0M436 163.9h0M436 91h0M436 155.5h0M436 85.3h0M436 172.9h0M436 154.6h0M436 128h0M436 101h0M436 200h0M436 226.2h0M436 209.5h0M436 87.6h0M436 70.7h0M436 194.8h0M436 129.1h0M436 141.9h0M436 217.7h0M436 102.9h0M436 226.1h0M436 128.6h0M436 210.5h0M436 209.9h0M436 186.2h0M436 84.5h0M436 216.9h0M436 141.1h0M436 137.6h0M436 195.3h0M436 111.9h0M436 92.3h0M436 163.3h0M436 94.8h0M436 118.4h0M436 60h0M440.4 124.3h0M440.4 162.5h0M440.4 69.4h0M440.4 137h0M440.4 73.3h0M440.4 218h0M440.4 98.3h0M440.4 217.5h0M440.4 132.7h0M440.4 218.2h0M440.4 141.8h0M440.4 106.7h0M440.4 217.7h0M440.4 188.7h0M440.4 121.1h0M440.4 73.3h0M440.4 150.3h0M440.4 178.9h0M440.4 150.2h0M440.4 111.6h0M440.4 82.3h0M440.4 76.8h0M440.4 202.1h0M440.4 224.5h0M440.4 108.6h0M440.4 97.9h0M440.4 181.1h0M440.4 195.4h0M440.4 102.6h0M440.4 217.3h0M440.4 195.5h0M440.4 203.1h0M440.4 76.8h0M440.4 110.9h0M440.4 141.2h0M440.4 94.4h0M440.4 123.2h0M440.4 166h0M440.4 77.1h0M440.4 190.2h0M440.4 156.9h0M440.4 221.9h0M440.4 195.3h0M440.4 215.4h0M440.4 183.7h0M440.4 207.6h0M440.4 174.7h0M440.4 151.7h0M440.4 104.3h0M440.4 196.7h0M440.4 196.9h0M440.4 200.5h0M440.4 167.9h0M440.4 199.9h0M440.4 143.7h0M440.4 171.5h0M440.4 175.6h0M440.4 66.1h0M440.4 77.8h0M440.4 198.1h0M440.4 168h0M440.4 79.6h0M440.4 121.5h0M440.4 143.9h0M440.4 77.9h0M440.4 163.1h0M440.4 105.8h0M440.4 160.8h0M440.4 196.2h0M440.4 90.4h0M440.4 66.6h0M440.4 195.2h0M440.4 160.6h0M440.4 123.9h0M440.4 143.4h0M440.4 177.1h0M440.4 55.1h0M440.4 68.7h0M440.4 118.5h0M440.4 224.1h0M440.4 60.3h0M440.4 120.1h0M440.4 156.1h0M440.4 81.3h0M440.4 103.8h0M440.4 117.8h0M440.4 219.4h0M440.4 164.7h0M440.4 115.9h0M440.4 213h0M440.4 100.4h0M440.4 102.8h0M440.4 218.9h0M440.4 191.6h0M440.4 145.8h0M440.4 165.9h0M440.4 147.9h0M440.4 197.7h0M440.4 121.2h0M440.4 129.6h0M440.4 122.5h0M440.4 217.9h0M440.4 64.3h0M440.4 129.4h0M440.4 159h0M440.4 138h0M440.4 163.1h0M440.4 58.9h0M440.4 58.5h0M440.4 199.4h0M440.4 214.9h0M440.4 108.6h0M440.4 214.2h0M440.4 188.7h0M440.4 196.9h0M440.4 61.9h0M440.4 198.6h0M440.4 218h0M440.4 96h0M440.4 144.4h0M440.4 68.8h0M440.4 111.9h0M440.4 132.2h0M440.4 94.7h0M440.4 91.4h0M440.4 49h0M440.4 223.3h0M440.4 65.5h0M440.4 136.9h0M440.4 140.3h0M440.4 132.3h0M440.4 183.1h0M440.4 106.5h0M440.4 87.2h0M440.4 222h0M440.4 107.2h0M440.4 52.5h0M440.4 90.6h0M440.4 116.9h0M440.4 79.7h0M440.4 218.5h0M440.4 48h0M444 135.4h0M444 146.1h0M444 204.1h0M444 214h0M444 110.3h0M444 47.8h0M444 160h0M444 170.2h0M444 195.3h0M444 168.7h0M444 87.4h0M444 69.6h0M444 63.6h0M444 108.9h0M444 206.6h0M444 110h0M444 213.8h0M444 154.1h0M444 163.4h0M444 115.7h0M444 177.2h0M444 99.2h0M444 88.4h0M444 113.6h0M444 170.7h0M444 97.5h0M444 85h0M444 69.7h0M444 167.4h0M444 126.9h0M444 98.6h0M444 59.9h0M444 168.4h0M444 50.3h0M444 162.8h0M444 93.8h0M444 208.4h0M444 149.6h0M444 153.9h0M444 205.5h0M444 197.1h0M444 55.6h0M444 141.2h0M444 148.7h0M444 66.8h0M444 209.5h0M444 103.2h0M444 184.6h0M444 150.1h0M444 49.2h0M444 44.3h0M444 110.6h0M444 206.7h0M444 68.1h0M444 198.1h0M444 214h0M444 209h0M444 135.5h0M444 193.1h0M444 97.6h0M444 90.6h0M444 46.6h0M444 177.5h0M444 154.6h0M444 77.9h0M444 206.2h0M444 200.9h0M444 119.8h0M444 106.7h0M444 139.8h0M444 114.2h0M444 80h0M444 71.4h0M444 163.3h0M444 91.2h0M444 192.1h0M444 211.3h0M444 213.1h0M444 57.2h0M444 65.1h0M444 125.4h0M444 188.5h0M444 150.8h0M444 186h0M444 131.1h0M444 87.2h0M444 148.7h0M444 132.6h0M444 66.6h0M444 167.6h0M444 97.6h0M444 211h0M444 182.7h0M444 194h0M444 96.7h0M444 56.1h0M444 62.9h0M444 56.6h0M444 98.6h0M444 201.3h0M444 199.8h0M444 144.4h0M444 155.1h0M444 151.4h0M444 103.3h0M444 141.4h0M444 79h0M444 66.7h0M444 169.2h0M444 152.4h0M444 136h0M444 170.5h0M444 94.2h0M444 83.7h0M444 143.2h0M444 201.2h0M444 159.3h0M444 102.9h0M444 75.8h0M444 204.3h0M444 125.9h0M444 171.9h0M444 170.7h0M444 210.2h0M444 211.6h0M444 120.9h0M444 153.5h0M444 179.3h0M444 163.9h0M444 159h0M444 200.6h0M444 210.4h0M444 154.3h0M444 171.9h0M444 110.8h0M444 51.1h0M444 70.4h0M444 50.1h0M444 172h0M444 103.1h0M444 151.8h0M444 88.6h0M444 53.8h0M444 162.7h0M444 155.6h0M444 166.6h0M444 200.7h0M444 42h0M447.2 128.5h0M447.2 87.1h0M447.2 115.6h0M447.2 197.5h0M447.2 116.7h0M447.2 149.1h0M447.2 80.9h0M447.2 182.1h0M447.2 169.6h0M447.2 89.7h0M447.2 113.3h0M447.2 156.4h0M447.2 84.3h0M447.2 75.8h0M447.2 180.6h0M447.2 124.3h0M447.2 119.7h0M447.2 188.4h0M447.2 182.3h0M447.2 157.9h0M447.2 137.4h0M447.2 104.9h0M447.2 192.6h0M447.2 107.8h0M447.2 104.6h0M447.2 73.3h0M447.2 105.1h0M447.2 155.1h0M447.2 82.9h0M447.2 199.4h0M447.2 202.8h0M447.2 116.2h0M447.2 97.2h0M447.2 90.7h0M447.2 200.3h0M447.2 76.5h0M447.2 71.9h0M447.2 137.6h0M447.2 158.4h0M447.2 203.4h0M447.2 131.8h0M447.2 165.7h0M447.2 90h0M447.2 110.5h0M447.2 169.3h0M447.2 130.4h0M447.2 166.2h0M447.2 201.5h0M447.2 199.3h0M447.2 196.6h0M447.2 199.1h0M447.2 82h0M447.2 193.4h0M447.2 200.6h0M447.2 99.4h0M447.2 73.3h0M447.2 79.2h0M447.2 93.8h0M447.2 185h0M447.2 75.8h0M447.2 155.2h0M447.2 198.7h0M447.2 181.7h0M447.2 165.9h0M447.2 65.9h0M447.2 204.8h0M447.2 60.5h0M447.2 168.6h0M447.2 66.6h0M447.2 71.7h0M447.2 119.3h0M447.2 90.3h0M447.2 168.6h0M447.2 70.7h0M447.2 87.4h0M447.2 158.4h0M447.2 72.1h0M447.2 127.6h0M447.2 184.9h0M447.2 161.1h0M447.2 144.2h0M447.2 136.3h0M447.2 147.3h0M447.2 181.1h0M447.2 137.7h0M447.2 183.1h0M447.2 183.5h0M447.2 162.2h0M447.2 189.5h0M447.2 181.2h0M447.2 161.6h0M447.2 91.7h0M447.2 57.9h0M447.2 172.7h0M447.2 53.2h0M447.2 138.4h0M447.2 174.5h0M447.2 199.1h0M447.2 171h0M447.2 72.1h0M447.2 201.7h0M447.2 96.5h0M447.2 153.1h0M447.2 179.7h0M447.2 172.1h0M447.2 77.7h0M447.2 87h0M447.2 164.7h0M447.2 132.3h0M447.2 103.8h0M447.2 185.3h0M447.2 162.7h0M447.2 87.7h0M447.2 192h0M447.2 109.6h0M447.2 152.3h0M447.2 107.6h0M447.2 160.1h0M447.2 188.8h0M447.2 120.9h0M447.2 110.6h0M447.2 53.6h0M447.2 96.6h0M447.2 148.8h0M447.2 111.6h0M447.2 148.6h0M447.2 55.7h0M447.2 182.8h0M447.2 143.8h0M447.2 116.7h0M447.2 129h0M447.2 180.8h0M447.2 118.5h0M447.2 133.9h0M447.2 167.6h0M447.2 144.8h0M447.2 56.3h0M447.2 113.5h0M447.2 137.8h0M447.2 97.4h0M447.2 66.1h0M447.2 192.6h0M447.2 188.3h0M447.2 201h0M447.2 111h0M447.2 133h0M447.2 109h0M447.2 50h0M450 191.1h0M450 81.1h0M450 71.4h0M450 124.2h0M450 104.9h0M450 175.2h0M450 151.3h0M450 126.4h0M450 198.8h0M450 110.5h0M450 161.5h0M450 73.5h0M450 88.7h0M450 110.1h0M450 50.7h0M450 115.3h0M450 126.6h0M450 87.3h0M450 56.9h0M450 138.1h0M450 121.3h0M450 135.6h0M450 109.8h0M450 90.2h0M450 51.8h0M450 157.8h0M450 198.6h0M450 158.1h0M450 186h0M450 67.4h0M450 77.4h0M450 147.3h0M450 132.4h0M450 166h0M450 186.2h0M450 186.5h0M450 159.4h0M450 133.6h0M450 51.2h0M450 180.5h0M450 161.9h0M450 118.4h0M450 155.1h0M450 196.2h0M450 86.8h0M450 177.4h0M450 88.6h0M450 189.1h0M450 104.8h0M450 62.4h0M450 155.1h0M450 185.6h0M450 138h0M450 112.9h0M450 172.8h0M450 190.4h0M450 112.8h0M450 71.4h0M450 98.1h0M450 96.1h0M450 178.3h0M450 175.2h0M450 165.9h0M450 128h0M450 83.9h0M450 84.7h0M450 142h0M450 108.9h0M450 192.9h0M450 163.3h0M450 69.6h0M450 121.6h0M450 91.1h0M450 64.2h0M450 169.1h0M450 126.5h0M450 80.3h0M450 98.3h0M450 176.7h0M450 145h0M450 79.8h0M450 167.9h0M450 111.7h0M450 64.2h0M450 186.7h0M450 184.8h0M450 137.8h0M450 142h0M450 151h0M450 103h0M450 59.8h0M450 85.3h0M450 184.2h0M450 60.3h0M450 114.4h0M450 147.9h0M450 156.4h0M450 121.5h0M450 103.3h0M450 118.5h0M450 86.6h0M450 90h0M450 109h0M450 115.4h0M450 173.6h0M450 124.8h0M450 116.5h0M450 95h0M450 119.9h0M450 95.9h0M450 80.4h0M450 151.8h0M450 104.4h0M450 180h0M450 80.1h0M450 114.2h0M450 198.2h0M450 138.6h0M450 161.8h0M450 83.8h0M450 82.7h0M450 168.7h0M450 79h0M450 87h0M450 145.4h0M450 81.3h0M450 158.2h0M450 77.3h0M450 191.1h0M450 196.1h0M450 115.4h0M450 83.9h0M450 103.5h0M450 73.3h0M450 131.2h0M450 48.7h0M450 172.2h0M450 175.4h0M450 96.4h0M450 67.1h0M450 186.1h0M450 78.1h0M450 60h0M450 108.4h0M450 132.4h0M450 71.8h0M450 116.8h0M450 89.8h0M450 144.5h0M450 123.4h0M450 58.8h0M450 195.5h0M450 79.9h0M450 54.2h0M450 114.8h0M450 104.7h0M450 184.1h0M450 83.9h0M450 58.2h0M450 48h0M451.2 72.5h0M469.6 53.4h0M456 58.1h0M463.2 58.1h0M444.7 67.3h0M456.9 45.4h0M495.4 43.8h0M495.6 47h0M483.7 41.3h0M447.1 68h0M495.8 43.7h0M484.1 51.4h0M464 54.7h0M463.4 58.4h0M490 46.1h0M496.4 47.9h0M455.1 54.1h0M485.1 50.6h0M489 48.5h0M484.9 50.4h0M452.8 61.6h0M489 51h0M471.5 57.3h0M488.8 48.7h0M496.1 47.1h0M498.7 50.1h0M473.2 54.7h0M476.4 51.1h0M453.5 48.3h0M445.6 68h0M454.4 63.1h0M476.7 53h0M481.9 40.9h0M448.8 63.5h0M464.1 52h0M476.7 49.6h0M479.5 54.2h0M457.7 58h0M462.5 55.6h0M475.3 54.1h0M496.6 49h0M481.3 45.8h0M464.5 56.2h0M450.8 72.3h0M456.8 57.9h0M475.7 50h0M492.3 48.9h0M477.2 50.2h0M460 58.2h0M482.8 47h0M495.5 43.6h0M484.9 38.1h0M457.5 62.1h0M466.4 54.5h0M441 52h0M451.8 64.1h0M494.1 47.7h0M487.2 46.7h0M497.3 48.6h0M457.2 63.8h0M480.6 47.7h0M474.1 55h0M474.5 53.1h0M472.2 52.9h0M483.8 48.1h0M456.7 57.8h0M476.6 44.1h0M488.2 47.4h0M462.6 58.3h0M474.5 55.4h0M448.6 63.4h0M497.4 47.6h0M465.7 57.5h0M487.9 47h0M488.3 45.5h0M449.7 61.3h0M497.5 44.3h0M478.2 51.8h0M474.4 38.1h0M464.4 57.2h0M489.4 50h0M494 48.3h0M456.5 54.7h0M455.7 60h0M494.2 43.3h0M464.4 49.2h0M471 54.3h0M496.1 47.9h0M466.1 56.3h0M461.8 47.7h0M451.3 61.9h0M473.7 55.2h0M492.4 46.1h0M451.6 66.2h0M464 47.7h0M485.4 51.6h0M490 48.8h0M464.1 53.4h0M465.5 58.9h0M492.8 45h0M457.3 58.7h0M447 58.5h0M475.2 46.8h0M486.2 50h0M449.7 69.4h0M468.3 55.7h0M457.6 57h0M496.2 47.9h0M489.9 49.8h0M482.5 49.9h0M451.2 67.5h0M485.2 51.2h0M463.9 47.6h0M490.4 53h0M482.3 51.6h0M478.1 51.5h0M460.3 56.2h0M464.2 56.4h0M489 47.1h0M452.9 56.9h0M449.3 62.4h0M464.8 52h0M477.7 54.2h0M456.3 58.8h0M452.9 60.6h0M472.7 56.2h0M453.9 66h0M481.5 48.4h0M477.1 50.2h0M497.1 45.1h0M542.3 44.6h0M567.5 39.1h0M513.5 38.1h0M591.9 67.7h0M591 50.6h0M593.3 69.1h0M573.5 43.7h0M548.8 42.5h0M532.4 46.5h0M533.8 47.8h0M583.6 45.5h0M595 50.6h0M595.8 50.9h0M519.5 44.8h0M516.4 41.1h0M550.6 37.5h0M499.3 41.9h0M523.7 46.9h0M578 45.2h0M503.9 39.6h0M594.6 65.8h0M543 44.2h0M499.8 40.3h0M551.1 41.1h0M509 37.9h0M568.9 43.8h0M513 39.5h0M595.3 52.4h0M523.1 47.9h0M586.4 46.1h0M577.8 43.7h0M516.2 36.7h0M594.2 45.2h0M499.5 40.3h0M598.2 61.4h0M542.7 44.8h0M597.3 65.9h0M529 44.8h0M606.9 57.9h0M562.8 38.7h0M595.2 54.6h0M597.5 64h0M514.6 38.7h0M573.3 42.5h0M517.3 43.7h0M534.5 44.6h0M581.8 47.7h0M601.2 60.6h0M566.8 38.5h0M570.6 39.6h0M592.7 47.8h0M566.3 35.5h0M599.7 51.9h0M554.4 40.6h0M599.1 70.5h0M576.7 42.5h0M511.5 34.7h0M603.5 61.4h0M599.2 57.3h0M503 45.5h0M535.1 45.5h0M516.6 42.6h0M514.1 38.7h0M582 44.3h0M597.1 63.2h0M555 41.6h0M543.3 44.3h0M530.6 47h0M560.1 41.3h0M502.2 40.1h0M594.1 66.4h0M577.8 44.3h0M526.7 44.2h0M596 64.9h0M522.6 43.4h0M565.5 41.5h0M520.7 42.5h0M571.7 40.7h0M503.9 41.6h0M599 57.5h0M593.9 66.1h0M601.6 59.9h0M543.8 46.7h0M562.3 42.2h0M564.7 37.8h0M527.6 46.2h0M509.8 37.3h0M532.4 45.7h0M524 47.9h0M545.6 41.5h0M603.1 68.1h0M515.6 40.1h0M593.2 48.4h0M589.7 66.5h0M556.7 42.2h0M563.6 38.8h0M524 45.7h0M506 39.8h0M528.8 48.2h0M536.1 46.4h0M544.1 41.5h0M571.3 41h0M591.9 49.3h0M562.6 42.2h0M586.1 47h0M508.3 40.9h0M503.3 39.7h0M547.9 44.2h0M598 61.8h0M528.9 45.4h0M594.7 52.5h0M590.2 48.4h0M539.7 42.5h0M499.3 41.5h0M593.1 67.5h0M558.2 39.2h0M578.3 45.9h0M523.4 44.8h0M602.9 60.4h0M527.4 42h0M540 42.6h0M559.4 38.3h0M594.1 165.4h0M617.9 136.1h0M593.5 74.1h0M592.5 72.6h0M595.5 79.9h0M591.2 74.1h0M594.7 73.4h0M619.6 90.7h0M601 159.1h0M614.9 139.6h0M598.9 159.2h0M613.2 143.5h0M614.8 95.7h0M602.2 174.4h0M591.6 165.5h0M598.3 160.1h0M591.2 183.8h0M610.8 150.1h0M618.6 114.7h0M616.8 109.4h0M614.4 96.6h0M616.6 122.8h0M610.6 149.9h0M616.2 125.1h0M614.5 79.1h0M599.9 171.3h0M616.3 129.5h0M598.5 172.2h0M603.2 181.3h0M617.7 116.2h0M616.2 100.1h0M617.3 93h0M626.8 76.6h0M589.6 190h0M606.1 83.1h0M621.8 74.7h0M602.3 173.8h0M615.8 100.5h0M590.3 65.6h0M617.5 91.2h0M620.5 75.4h0M590 190.8h0M617.1 92h0M605.2 84.6h0M627.6 82.5h0M602.4 178.2h0M615.6 133.4h0M617.5 108.2h0M612 146.1h0M614.8 96.1h0M616.7 132.2h0M593.2 71.4h0M624.5 74.7h0M612.5 141.2h0M616.9 105.1h0M590.1 68.6h0M612.8 146.7h0M616.5 105.4h0M597.2 169.5h0M617 106.3h0M616.9 100.8h0" stroke="#b8b8b8" stroke-width="2.65" stroke-linecap="round" fill="none"/>
<g fill="#fff"><circle cx="602.8" cy="88.5" r="2.3"/><circle cx="589.5" cy="77" r="1.5"/><circle cx="450.8" cy="122.2" r="1.1"/><circle cx="452.2" cy="226.8" r="0.9"/><circle cx="457.3" cy="204.6" r="1.1"/><circle cx="475.5" cy="189.3" r="0.7"/><circle cx="451.3" cy="164.3" r="1"/><circle cx="465.6" cy="75.7" r="1.1"/><circle cx="455.2" cy="225.8" r="1"/><circle cx="474.7" cy="148.4" r="1"/><circle cx="479" cy="240" r="1.2"/><circle cx="461.6" cy="209.5" r="1.3"/><circle cx="463" cy="218" r="1.1"/><circle cx="455.7" cy="91" r="0.9"/><circle cx="461.6" cy="68.2" r="0.9"/><circle cx="468.9" cy="110.9" r="0.9"/><circle cx="479.1" cy="112.2" r="0.9"/><circle cx="459.8" cy="202.9" r="1.1"/><circle cx="462.5" cy="118.3" r="1.2"/><circle cx="450.8" cy="130.1" r="1.2"/><circle cx="474" cy="126" r="1.1"/><circle cx="450" cy="108" r="1.3"/><circle cx="450.3" cy="169.1" r="1"/><circle cx="465.1" cy="95" r="0.7"/><circle cx="462.6" cy="150.9" r="1.2"/><circle cx="459.4" cy="153" r="0.8"/><circle cx="463.8" cy="113.6" r="1.1"/><circle cx="454.5" cy="77.1" r="0.6"/><circle cx="474.7" cy="239.7" r="0.9"/><circle cx="477.4" cy="219.5" r="1.1"/><circle cx="460.5" cy="131.8" r="0.8"/><circle cx="458.4" cy="87" r="0.7"/><circle cx="451.3" cy="183.5" r="1.1"/><circle cx="463.5" cy="150.9" r="0.8"/><circle cx="450.6" cy="88.5" r="1"/><circle cx="469.2" cy="173.2" r="1.1"/><circle cx="460" cy="220.8" r="0.8"/><circle cx="451.4" cy="118.8" r="1.2"/><circle cx="459.4" cy="91.1" r="0.7"/><circle cx="467.6" cy="143.8" r="0.7"/><circle cx="474.6" cy="109.5" r="0.7"/><circle cx="454.8" cy="178.4" r="1.3"/></g>
</g>
<path d="M403.5 41V135.2M403.5 266.3V288.4M398.5 41H408.5M398.5 288.4H408.5M415.5 185.2V237.2M415.5 273.1V288.4M410.5 185.2H420.5M410.5 288.4H420.5M427.5 178.4V236.2M427.5 273.6V288.4M422.5 178.4H432.5M422.5 288.4H432.5M439.5 189.4V238M439.5 270V288.4M434.5 189.4H444.5M434.5 288.4H444.5M451.5 183.4V236.2M451.5 269.8V288.4M446.5 183.4H456.5M446.5 288.4H456.5M463.5 182.2V235.4M463.5 270.1V288.4M458.5 182.2H468.5M458.5 288.4H468.5M475.5 160.6V224.6M475.5 266.3V288.4M470.5 160.6H480.5M470.5 288.4H480.5M487.5 110V200.3M487.5 260V288.4M482.5 110H492.5M482.5 288.4H492.5M499.5 76.1V183.4M499.5 253V288.4M494.5 76.1H504.5M494.5 288.4H504.5M511.5 96.2V187M511.5 246.7V288.4M506.5 96.2H516.5M506.5 288.4H516.5M523.5 106.5V186M523.5 238.4V288.4M518.5 106.5H528.5M518.5 288.4H528.5M535.5 101V177.2M535.5 227.1V288.4M530.5 101H540.5M530.5 288.4H540.5M547.5 86.7V161.5M547.5 211.6V282.4M542.5 86.7H552.5M542.5 282.4H552.5M559.5 83.4V152M559.5 196.5V264.3M554.5 83.4H564.5M554.5 264.3H564.5M571.5 66.6V135M571.5 179.6V243.7M566.5 66.6H576.5M566.5 243.7H576.5M583.5 67.3V121.6M583.5 157V210.3M578.5 67.3H588.5M578.5 210.3H588.5M595.5 73.6V113.6M595.5 138.7V178.3M590.5 73.6H600.5M590.5 178.3H600.5M607.5 83.4V111.8M607.5 132.7V158.3M602.5 83.4H612.5M602.5 158.3H612.5M619.5 76.1V84.7M619.5 110.5V136.4M614.5 76.1H624.5M614.5 136.4H624.5" stroke="#1e1e1e" stroke-width="0.78" fill="none"/>
<rect x="401.4" y="135.2" width="4.2" height="131.1" fill="#d5161c" stroke="#7a1418" stroke-width="0.6"/>
<rect x="413.4" y="237.2" width="4.2" height="35.9" fill="#33b044" stroke="#1e7a30" stroke-width="0.6"/>
<rect x="425.4" y="236.2" width="4.2" height="37.4" fill="#33b044" stroke="#1e7a30" stroke-width="0.6"/>
<rect x="437.4" y="238" width="4.2" height="32" fill="#33b044" stroke="#1e7a30" stroke-width="0.6"/>
<rect x="449.4" y="236.2" width="4.2" height="33.6" fill="#33b044" stroke="#1e7a30" stroke-width="0.6"/>
<rect x="461.4" y="235.4" width="4.2" height="34.7" fill="#33b044" stroke="#1e7a30" stroke-width="0.6"/>
<rect x="473.4" y="224.6" width="4.2" height="41.7" fill="#33b044" stroke="#1e7a30" stroke-width="0.6"/>
<rect x="485.4" y="200.3" width="4.2" height="59.7" fill="#33b044" stroke="#1e7a30" stroke-width="0.6"/>
<rect x="497.4" y="183.4" width="4.2" height="69.6" fill="#33b044" stroke="#1e7a30" stroke-width="0.6"/>
<rect x="509.4" y="187" width="4.2" height="59.7" fill="#33b044" stroke="#1e7a30" stroke-width="0.6"/>
<rect x="521.4" y="186" width="4.2" height="52.4" fill="#33b044" stroke="#1e7a30" stroke-width="0.6"/>
<rect x="533.4" y="177.2" width="4.2" height="49.9" fill="#33b044" stroke="#1e7a30" stroke-width="0.6"/>
<rect x="545.4" y="161.5" width="4.2" height="50.1" fill="#33b044" stroke="#1e7a30" stroke-width="0.6"/>
<rect x="557.4" y="152" width="4.2" height="44.5" fill="#33b044" stroke="#1e7a30" stroke-width="0.6"/>
<rect x="569.4" y="135" width="4.2" height="44.6" fill="#33b044" stroke="#1e7a30" stroke-width="0.6"/>
<rect x="581.4" y="121.6" width="4.2" height="35.4" fill="#33b044" stroke="#1e7a30" stroke-width="0.6"/>
<rect x="593.4" y="113.6" width="4.2" height="25.1" fill="#d5161c" stroke="#7a1418" stroke-width="0.6"/>
<rect x="605.4" y="111.8" width="4.2" height="20.9" fill="#d5161c" stroke="#7a1418" stroke-width="0.6"/>
<rect x="617.4" y="84.7" width="4.2" height="25.8" fill="#d5161c" stroke="#7a1418" stroke-width="0.6"/>
<path d="M401.4 244.7H405.6M413.4 253H417.6M425.4 253.3H429.6M437.4 252.5H441.6M449.4 252.3H453.6M461.4 253H465.6M473.4 247.2H477.6M485.4 240.5H489.6M497.4 231.7H501.6M509.4 225.4H513.6M521.4 217.8H525.6M533.4 205.3H537.6M545.4 190.2H549.6M557.4 178.2H561.6M569.4 162.6H573.6M581.4 145H585.6M593.4 127.6H597.6M605.4 122.4H609.6M617.4 103H621.6" stroke="#0a1f0e" stroke-width="0.95" fill="none"/>
<g fill="none" stroke="#0a0a0a" stroke-width="0.85"><circle cx="403.5" cy="207.5" r="1.2"/><circle cx="415.5" cy="228.6" r="1.2"/><circle cx="427.5" cy="232.9" r="1.2"/><circle cx="439.5" cy="240" r="1.2"/><circle cx="451.5" cy="237" r="1.2"/><circle cx="463.5" cy="238.7" r="1.2"/><circle cx="475.5" cy="231.7" r="1.2"/><circle cx="487.5" cy="221.1" r="1.2"/><circle cx="499.5" cy="212" r="1.2"/><circle cx="511.5" cy="210.3" r="1.2"/><circle cx="523.5" cy="205.8" r="1.2"/><circle cx="535.5" cy="196" r="1.2"/><circle cx="547.5" cy="182.7" r="1.2"/><circle cx="559.5" cy="170.5" r="1.2"/><circle cx="571.5" cy="155.8" r="1.2"/><circle cx="583.5" cy="139" r="1.2"/><circle cx="595.5" cy="125.6" r="1.2"/><circle cx="607.5" cy="121.9" r="1.2"/><circle cx="619.5" cy="98.5" r="1.2"/></g>
<path d="M384.2 302.3L684.3 0" stroke="#1a1a1a" stroke-width="1.05" fill="none"/>
<path d="M384.2 0V302.3H684.3V0" stroke="#4a4a4a" stroke-width="1.1" fill="none"/>
<path d="M384.2 0H684.3" stroke="#4a4a4a" stroke-width="1.1" fill="none"/>
<path d="M385.7 302.3v-2.5M384.2 300.9h2.5M389.3 302.3v-2.5M384.2 297.2h2.5M392.5 302.3v-2.5M384.2 294h2.5M395.3 302.3v-2.5M384.2 291.2h2.5M397.8 304.7v-8.7M381.8 288.7h8.7M414.3 302.3v-2.5M384.2 272.1h2.5M423.9 302.3v-2.5M384.2 262.4h2.5M430.7 302.3v-2.5M384.2 255.5h2.5M436 302.3v-4.2M384.2 250.2h4.2M440.4 302.3v-2.5M384.2 245.8h2.5M444 302.3v-2.5M384.2 242.2h2.5M447.2 302.3v-2.5M384.2 239h2.5M450 302.3v-2.5M384.2 236.1h2.5M452.5 304.7v-8.7M381.8 233.6h8.7M469 302.3v-2.5M384.2 217.1h2.5M478.6 302.3v-2.5M384.2 207.4h2.5M485.4 302.3v-2.5M384.2 200.5h2.5M490.7 302.3v-4.2M384.2 195.1h4.2M495.1 302.3v-2.5M384.2 190.8h2.5M498.7 302.3v-2.5M384.2 187.1h2.5M501.9 302.3v-2.5M384.2 183.9h2.5M504.7 302.3v-2.5M384.2 181.1h2.5M507.2 304.7v-8.7M381.8 178.6h8.7M523.7 302.3v-2.5M384.2 162h2.5M533.3 302.3v-2.5M384.2 152.3h2.5M540.1 302.3v-2.5M384.2 145.4h2.5M545.4 302.3v-4.2M384.2 140.1h4.2M549.8 302.3v-2.5M384.2 135.7h2.5M553.4 302.3v-2.5M384.2 132h2.5M556.6 302.3v-2.5M384.2 128.8h2.5M559.4 302.3v-2.5M384.2 126h2.5M561.9 304.7v-8.7M381.8 123.5h8.7M578.4 302.3v-2.5M384.2 106.9h2.5M588 302.3v-2.5M384.2 97.2h2.5M594.8 302.3v-2.5M384.2 90.3h2.5M600.1 302.3v-4.2M384.2 85h4.2M604.5 302.3v-2.5M384.2 80.6h2.5M608.1 302.3v-2.5M384.2 77h2.5M611.3 302.3v-2.5M384.2 73.8h2.5M614.1 302.3v-2.5M384.2 70.9h2.5M616.6 304.7v-8.7M381.8 68.4h8.7M633.1 302.3v-2.5M384.2 51.8h2.5M642.7 302.3v-2.5M384.2 42.1h2.5M649.5 302.3v-2.5M384.2 35.3h2.5M654.8 302.3v-4.2M384.2 29.9h4.2M659.2 302.3v-2.5M384.2 25.6h2.5M662.8 302.3v-2.5M384.2 21.9h2.5M666 302.3v-2.5M384.2 18.7h2.5M668.8 302.3v-2.5M384.2 15.9h2.5M671.3 304.7v-8.7M381.8 13.3h8.7" stroke="#333" stroke-width="1.15" fill="none"/>
<text class="tk" x="398.1" y="318.3" text-anchor="middle">10<tspan class="sp" dy="-5.1">0</tspan></text>
<text class="tk" x="379.8" y="294.3" text-anchor="end">10<tspan class="sp" dy="-5.1">0</tspan></text>
<text class="tk" x="452.8" y="318.3" text-anchor="middle">10<tspan class="sp" dy="-5.1">1</tspan></text>
<text class="tk" x="379.8" y="239.2" text-anchor="end">10<tspan class="sp" dy="-5.1">1</tspan></text>
<text class="tk" x="507.5" y="318.3" text-anchor="middle">10<tspan class="sp" dy="-5.1">2</tspan></text>
<text class="tk" x="379.8" y="184.2" text-anchor="end">10<tspan class="sp" dy="-5.1">2</tspan></text>
<text class="tk" x="562.2" y="318.3" text-anchor="middle">10<tspan class="sp" dy="-5.1">3</tspan></text>
<text class="tk" x="379.8" y="129.1" text-anchor="end">10<tspan class="sp" dy="-5.1">3</tspan></text>
<text class="tk" x="616.9" y="318.3" text-anchor="middle">10<tspan class="sp" dy="-5.1">4</tspan></text>
<text class="tk" x="379.8" y="74" text-anchor="end">10<tspan class="sp" dy="-5.1">4</tspan></text>
<text class="tk" x="671.6" y="318.3" text-anchor="middle">10<tspan class="sp" dy="-5.1">5</tspan></text>
<text class="tk" x="379.8" y="18.9" text-anchor="end">10<tspan class="sp" dy="-5.1">5</tspan></text>
<text class="ax" x="532.8" y="330.8" text-anchor="middle">Actual passenger flow</text>
<text class="ax" transform="translate(359.3 151.4) rotate(-90)" text-anchor="middle">Passenger flow obtained from original radiation model</text>
<text class="pl" x="518" y="357.9" text-anchor="middle">(b)</text>
</g>
<g id="panel-c">
<clipPath id="clc"><rect x="33.7" y="369.4" width="300.1" height="302.3"/></clipPath>
<path d="M47.3 369.4V671.7M33.7 658.1H333.8M102 369.4V671.7M33.7 603H333.8M156.7 369.4V671.7M33.7 548H333.8M211.4 369.4V671.7M33.7 492.9H333.8M266.1 369.4V671.7M33.7 437.8H333.8M320.8 369.4V671.7M33.7 382.7H333.8" stroke="#dedede" stroke-width="1.1" fill="none"/>
<g clip-path="url(#clc)">
<path d="M100.8 598L100.4 595L101.5 591.9L100.8 589.6L101.1 587L101 583L101.2 579.6L101.7 576.8L100.8 574.3L100.4 571.1L101.6 567.5L101.8 564.8L101.5 561.6L100.8 558.2L100.1 555L101.9 552.5L100.9 550.1L101.2 547.1L100.7 542.7L101.8 539.5L101.5 537.2L101.9 534.8L104.6 530.2L104.3 527.5L106.6 523.2L106.8 519.8L107.5 516.1L107.1 514L106.5 511.5L106.1 506L108.6 501.3L111.8 497.5L115.9 496.6L119.3 495L125.2 493.7L130.7 492.3L133.3 491.2L136.9 490.2L138.7 486.5L141.1 484.3L145 482.4L147.3 480.9L152.4 478.5L158.2 478.7L163.2 477.5L168.9 478.3L173.3 476.3L177.6 474.3L181.2 473.3L183.5 469.6L184.9 464.7L186.8 462.3L187.7 459.7L191.2 453.5L195.6 450.3L199.1 446.3L205 444.2L209.7 444.6L211.6 441L214.9 438.7L219 436.1L223.8 433.9L226.6 432.7L229.1 431.6L231.3 430.3L234.8 429.4L237.8 427.2L240.3 426.7L243.1 425.1L246.6 424.5L248.6 422.9L251.4 423.8L253.9 422.3L258.7 418.5L260.8 416.5L262.2 413.9L264.7 411.5L268.7 412.2L274.4 411.1L274.8 413.4L273.5 415.2L271.5 418.9L271.2 422.9L271.3 426.8L270.9 429.4L268.8 432.9L267.2 437.4L266.1 440.8L262.9 443.9L261.7 446.9L258.3 449.4L257.4 451.6L254.9 454.2L253.5 457.7L250.7 460.5L249.8 463.2L247.7 468L249.9 466.6L253.2 466.5L255.8 468.4L252.8 473.8L249.2 475.9L247 477.4L242.8 481L240 484.6L237.4 487.3L236.1 490.2L235.1 493.6L233.3 496.6L231.9 499.1L229.7 502.4L228 504.3L227 507.5L226.3 510.4L224.3 514.3L224.6 518.4L224.4 521.3L222.5 524.4L220.9 526.8L218.7 530.4L216.7 533.4L214 535.9L213.5 538.9L210.8 540.3L210.3 544.1L207 547.4L205.8 549.9L203.7 552.8L200.7 554L198.6 557.2L196.1 558.5L193.8 561.3L193.1 563.9L189.2 565.5L188.2 567.2L186.2 569.6L182.7 572.8L180.6 573.7L177.6 577.3L174.7 579.3L170.9 580.7L167.4 583L164.9 584.8L163.1 588.3L160 589.4L155.8 591.1L152.8 592.5L150.9 593.9L147.5 595L145.4 595.5L142.5 597.6L137.6 598.3L132.3 599.2L129.7 598.3L127.1 599.2L123.5 598.5L121.8 598L118.1 597.9L114.3 598.7L110.5 599.1L106.9 599.4Z" fill="#bfbfbf" stroke="#bfbfbf" stroke-width="1.6" stroke-linejoin="round"/>
<path d="M47.3 551V594.6M63.8 551V597M73.4 540V600M80.2 537V600M85.5 534V600M89.9 531V600" stroke="#bfbfbf" stroke-width="2.4" stroke-linecap="round" fill="none"/>
<path d="M93.5 528V600M96.7 527V600M99.5 526V599.5" stroke="#bfbfbf" stroke-width="2.1" stroke-linecap="round" fill="none"/>
<path d="M47.3 524.9h0M47.3 486.3h0M47.3 500.5h0M47.3 545.2h0M47.3 498.8h0M47.3 507.5h0M47.3 550.4h0M47.3 504.3h0M47.3 483h0M63.8 526.9h0M63.8 517.8h0M63.8 486.5h0M63.8 530.7h0M63.8 522.2h0M63.8 547.5h0M63.8 549.7h0M63.8 493.1h0M63.8 527.4h0M63.8 486h0M73.4 506.5h0M73.4 494h0M73.4 536h0M73.4 491.3h0M73.4 515.2h0M73.4 500.2h0M73.4 518.9h0M73.4 498.8h0M73.4 484h0M80.2 531.4h0M80.2 514.2h0M80.2 503.5h0M80.2 529.3h0M80.2 500.2h0M80.2 526.8h0M80.2 505.8h0M80.2 530.8h0M80.2 506.2h0M80.2 492h0M85.5 520.9h0M85.5 521.7h0M85.5 515h0M85.5 529.2h0M85.5 516.6h0M85.5 503.5h0M85.5 515.8h0M85.5 522.3h0M85.5 491h0M89.9 508.6h0M89.9 512.8h0M89.9 492.6h0M89.9 501.3h0M89.9 522.3h0M89.9 504.9h0M89.9 498.4h0M89.9 523.3h0M89.9 490.2h0M89.9 490.7h0M89.9 488h0M93.5 498.1h0M93.5 503h0M93.5 497.6h0M93.5 506.6h0M93.5 505.8h0M93.5 525.8h0M93.5 505.3h0M93.5 515.7h0M93.5 506.7h0M93.5 495h0M96.7 520.3h0M96.7 503.4h0M96.7 510.3h0M96.7 504.3h0M96.7 509.2h0M96.7 507.9h0M96.7 513.3h0M96.7 525.7h0M96.7 500.3h0M96.7 499h0M99.5 507.5h0M99.5 517h0M99.5 522.3h0M99.5 511.4h0M99.5 510.9h0M99.5 509.8h0M99.5 511.3h0M99.5 515.4h0M99.5 521h0M99.5 501h0M99.5 500h0M117 494.1h0M181.7 468.9h0M180.9 469.4h0M162.9 475.9h0M105 512.7h0M193.2 447.5h0M141.6 479.2h0M152.1 479.1h0M142.1 482.1h0M156.4 479.2h0M121.4 490h0M151.4 476.2h0M142.9 480.9h0M177.1 469.6h0M135 481.9h0M102.7 525.5h0M128.3 487.2h0M116 494.4h0M162.1 477.8h0M152.6 474h0M106.5 510.9h0M106.3 510h0M120.7 493.1h0M158.1 476.7h0M127.5 493.5h0M131.9 487.4h0M162.9 473.8h0M158.4 476.7h0M143.8 480.8h0M140.8 478.5h0M105.3 515.8h0M172.1 471.7h0M104.2 513.9h0M138.3 477.4h0M141.1 476.2h0M106.8 500.2h0M100 517.4h0M143.6 480.1h0M163 477.9h0M202.2 440h0M191.9 444.2h0M182.8 469.5h0M101 529.7h0M172.5 471.8h0M110 500.1h0M120.5 489.9h0M106.3 513.9h0M98.3 530.7h0M100.5 528.8h0M111.1 495.4h0M183.9 460.4h0M104.6 521.2h0M193.3 447.9h0M158.6 476.5h0M171.5 475.6h0M117.9 494.8h0M137.4 487.1h0M179.7 468.9h0M110.3 498.4h0M183.1 462.2h0M175.6 456.2h0M189.5 453.7h0M100.7 501.8h0M100.7 532h0M133.8 488.6h0M120.5 490.4h0M184.8 462.8h0M141.4 482.2h0M129 486.2h0M186.4 458.4h0M102.8 528.2h0M177.1 465.1h0M169.5 475.4h0M135 489.6h0M198.1 443.1h0M159.1 477.5h0M130.9 487.2h0M136.9 485.4h0M103.4 529h0M105.5 504h0M134.9 487.1h0M99.7 530h0M131.4 491.1h0M123.6 492.8h0M156.1 474.9h0M118.5 489.6h0M223.6 433.5h0M274.2 413.1h0M269.3 435.1h0M211.5 440.8h0M252.9 421.3h0M212.3 437.3h0M274.5 427.3h0M261.2 448.9h0M257.7 419.4h0M267.8 439.2h0M221.5 434.2h0M261.5 414.8h0M246 422.7h0M269.9 434.5h0M262.9 445.7h0M254.6 420.1h0M210.3 442h0M231.5 429.4h0M243.3 423.8h0M228.4 431.1h0M261.8 449.1h0M255.2 466.9h0M266.7 443.3h0M168 477.9h0M172.9 475.4h0M152.1 594h0M180.2 471.4h0M256.2 467.5h0M214.5 539.8h0M204.6 552.7h0M166.6 477.7h0M185.9 571h0M201.2 555h0M138.8 598.3h0M179 472.9h0M219.7 529.8h0M226.2 512.5h0M264.6 444.8h0M235.8 492.9h0M257.4 450.1h0M247.9 476.6h0M185.4 464h0M203 555.7h0M210.6 441.7h0M205.8 443.7h0M212.4 542.2h0M172.2 475.2h0M202.6 446.3h0M227 520.9h0M262.3 444.1h0M162.6 475.9h0M171.4 475.3h0M195.4 563.3h0M226.5 512.6h0M251.3 464.3h0M167.9 585.6h0M265.1 441.8h0M163.3 587.9h0M229 505.4h0M231.4 504.4h0M165.6 586.5h0M258 448.9h0M142.3 481.1h0M251.1 465.4h0M188.9 455.5h0M172.2 476.8h0M254.8 466h0M236.7 492.7h0M158.5 590.3h0M251.7 462h0M189.7 566.9h0M237.3 490.3h0M199.3 445.6h0M156.9 476.9h0M175.2 474.3h0M232.2 500.7h0M254.4 459.9h0M194.5 563.1h0M153.3 478.9h0M221.3 530.2h0M183.6 464.2h0M187.3 455.7h0M201 556.4h0M165.5 585.3h0M239.6 487.2h0M134.4 600.4h0M137.5 599.6h0M155.6 592.1h0M139.3 598.2h0M131.5 601.2h0M158.1 592.2h0M164.5 587.1h0M127.4 599.7h0M119.5 600.2h0M145.9 597.7h0M103.2 601.1h0M162.1 587.9h0M126 602.6h0M112.8 599.2h0M149.8 595.3h0M123 599.3h0M136.6 600.3h0M112 601.3h0M160.3 590.1h0M89.3 631.6h0M103.5 605.5h0M112.5 611h0M118 614.8h0M118 624.5h0M122.5 603h0M133.5 619.5h0M135.5 604h0M142.5 624h0M143.5 641h0M145.5 614.5h0M150 605.5h0M155.5 619.5h0M156 608h0M156 631h0M158.5 657.5h0M160.5 598h0M162 619h0M165 611.5h0M168.5 623.5h0M172 600h0M174.6 590h0M182 580.5h0M186 587h0M189.5 580h0M175 585h0M206 551.5h0M207.3 548h0M46.5 483.4h0M46.6 488.5h0M63.2 488.2h0M63.2 493h0M73 484h0M85 492.5h0M89.3 494h0M93.5 487h0M103.5 480.5h0M104.5 486h0M107.5 491h0M112.5 481.5h0M123 482.5h0M126.5 486h0M129.5 479h0M134 484h0M138 477.5h0M142 480h0M146 477h0M150 478h0M154 475h0M158 471h0M160 467h0M163 469.5h0M165 462h0M168 465h0M170.5 455.5h0M141 474h0M139 478h0M177 460h0M181 463.5h0M176 466h0M184 458h0M197.2 441.5h0" stroke="#b8b8b8" stroke-width="2.65" stroke-linecap="round" fill="none"/>
</g>
<path d="M52.3 527.5V557.2M52.3 576.5V594.6M47.3 527.5H57.3M47.3 594.6H57.3M64.3 525V558.4M64.3 581.6V607.9M59.3 525H69.3M59.3 607.9H69.3M76.3 530.6V558.4M76.3 576.5V600.4M71.3 530.6H81.3M71.3 600.4H81.3M88.3 533.3V559.4M88.3 577V600.4M83.3 533.3H93.3M83.3 600.4H93.3M100.3 528V554.7M100.3 572.8V598.4M95.3 528H105.3M95.3 598.4H105.3M112.3 517.8V548.4M112.3 569.7V602.2M107.3 517.8H117.3M107.3 602.2H117.3M124.3 508.7V544.4M124.3 567V598.4M119.3 508.7H129.3M119.3 598.4H129.3M136.3 515.3V545.1M136.3 565.2V594.6M131.3 515.3H141.3M131.3 594.6H141.3M148.3 505.2V538.3M148.3 560.2V591.6M143.3 505.2H153.3M143.3 591.6H153.3M160.3 507.5V536.3M160.3 555.2V583.6M155.3 507.5H165.3M155.3 583.6H165.3M172.3 505.2V532.7M172.3 549V574.8M167.3 505.2H177.3M167.3 574.8H177.3M184.3 495.9V523.3M184.3 540.3V567M179.3 495.9H189.3M179.3 567H189.3M196.3 479.8V509.5M196.3 528.8V559M191.3 479.8H201.3M191.3 559H201.3M208.3 466.3V495.2M208.3 513.3V541.4M203.3 466.3H213.3M203.3 541.4H213.3M220.3 445.4V476.3M220.3 496.4V527.1M215.3 445.4H225.3M215.3 527.1H225.3M232.3 427.1V455.5M232.3 476.8V507.5M227.3 427.1H237.3M227.3 507.5H237.3M244.3 422.3V445.4M244.3 460V483.1M239.3 422.3H249.3M239.3 483.1H249.3M256.3 416.5V433.4M256.3 444.7V461.8M251.3 416.5H261.3M251.3 461.8H261.3M268.3 412V415.8M268.3 424.8V439.1M263.3 412H273.3M263.3 439.1H273.3" stroke="#1e1e1e" stroke-width="0.78" fill="none"/>
<rect x="50.2" y="557.2" width="4.2" height="19.3" fill="#d5161c" stroke="#7a1418" stroke-width="0.6"/>
<rect x="62.2" y="558.4" width="4.2" height="23.2" fill="#d5161c" stroke="#7a1418" stroke-width="0.6"/>
<rect x="74.2" y="558.4" width="4.2" height="18.1" fill="#d5161c" stroke="#7a1418" stroke-width="0.6"/>
<rect x="86.2" y="559.4" width="4.2" height="17.6" fill="#d5161c" stroke="#7a1418" stroke-width="0.6"/>
<rect x="98.2" y="554.7" width="4.2" height="18.1" fill="#d5161c" stroke="#7a1418" stroke-width="0.6"/>
<rect x="110.2" y="548.4" width="4.2" height="21.3" fill="#d5161c" stroke="#7a1418" stroke-width="0.6"/>
<rect x="122.2" y="544.4" width="4.2" height="22.6" fill="#d5161c" stroke="#7a1418" stroke-width="0.6"/>
<rect x="134.2" y="545.1" width="4.2" height="20.1" fill="#33b044" stroke="#1e7a30" stroke-width="0.6"/>
<rect x="146.2" y="538.3" width="4.2" height="21.9" fill="#33b044" stroke="#1e7a30" stroke-width="0.6"/>
<rect x="158.2" y="536.3" width="4.2" height="18.9" fill="#33b044" stroke="#1e7a30" stroke-width="0.6"/>
<rect x="170.2" y="532.7" width="4.2" height="16.3" fill="#33b044" stroke="#1e7a30" stroke-width="0.6"/>
<rect x="182.2" y="523.3" width="4.2" height="17" fill="#33b044" stroke="#1e7a30" stroke-width="0.6"/>
<rect x="194.2" y="509.5" width="4.2" height="19.3" fill="#33b044" stroke="#1e7a30" stroke-width="0.6"/>
<rect x="206.2" y="495.2" width="4.2" height="18.1" fill="#33b044" stroke="#1e7a30" stroke-width="0.6"/>
<rect x="218.2" y="476.3" width="4.2" height="20.1" fill="#33b044" stroke="#1e7a30" stroke-width="0.6"/>
<rect x="230.2" y="455.5" width="4.2" height="21.3" fill="#33b044" stroke="#1e7a30" stroke-width="0.6"/>
<rect x="242.2" y="445.4" width="4.2" height="14.6" fill="#33b044" stroke="#1e7a30" stroke-width="0.6"/>
<rect x="254.2" y="433.4" width="4.2" height="11.3" fill="#33b044" stroke="#1e7a30" stroke-width="0.6"/>
<rect x="266.2" y="415.8" width="4.2" height="9" fill="#d5161c" stroke="#7a1418" stroke-width="0.6"/>
<path d="M50.2 563.2H54.4M62.2 570.3H66.4M74.2 566.5H78.4M86.2 567.7H90.4M98.2 565.2H102.4M110.2 561H114.4M122.2 557H126.4M134.2 555.2H138.4M146.2 549.4H150.4M158.2 546.9H162.4M170.2 542H174.4M182.2 533.5H186.4M194.2 520H198.4M206.2 505.2H210.4M218.2 487.4H222.4M230.2 468H234.4M242.2 454.7H246.4M254.2 439.1H258.4M266.2 421H270.4" stroke="#0a1f0e" stroke-width="0.95" fill="none"/>
<g fill="none" stroke="#0a0a0a" stroke-width="0.85"><circle cx="52.3" cy="562" r="1.2"/><circle cx="64.3" cy="564.7" r="1.2"/><circle cx="76.3" cy="565.2" r="1.2"/><circle cx="88.3" cy="566.5" r="1.2"/><circle cx="100.3" cy="564" r="1.2"/><circle cx="112.3" cy="558.9" r="1.2"/><circle cx="124.3" cy="555.2" r="1.2"/><circle cx="136.3" cy="553.2" r="1.2"/><circle cx="148.3" cy="546.9" r="1.2"/><circle cx="160.3" cy="544.4" r="1.2"/><circle cx="172.3" cy="540" r="1.2"/><circle cx="184.3" cy="532.1" r="1.2"/><circle cx="196.3" cy="518.3" r="1.2"/><circle cx="208.3" cy="503.2" r="1.2"/><circle cx="220.3" cy="484.9" r="1.2"/><circle cx="232.3" cy="466.8" r="1.2"/><circle cx="244.3" cy="453" r="1.2"/><circle cx="256.3" cy="437.1" r="1.2"/><circle cx="268.3" cy="420" r="1.2"/></g>
<path d="M33.7 671.7L333.8 369.4" stroke="#1a1a1a" stroke-width="1.05" fill="none"/>
<path d="M33.7 369.4V671.7H333.8V369.4" stroke="#4a4a4a" stroke-width="1.1" fill="none"/>
<path d="M33.7 369.4H333.8" stroke="#b4b4b4" stroke-width="1.1" fill="none"/>
<path d="M35.2 671.7v-2.5M33.7 670.3h2.5M38.8 671.7v-2.5M33.7 666.6h2.5M42 671.7v-2.5M33.7 663.4h2.5M44.8 671.7v-2.5M33.7 660.6h2.5M47.3 674.1v-8.7M31.3 658.1h8.7M63.8 671.7v-2.5M33.7 641.5h2.5M73.4 671.7v-2.5M33.7 631.8h2.5M80.2 671.7v-2.5M33.7 624.9h2.5M85.5 671.7v-4.2M33.7 619.6h4.2M89.9 671.7v-2.5M33.7 615.2h2.5M93.5 671.7v-2.5M33.7 611.6h2.5M96.7 671.7v-2.5M33.7 608.4h2.5M99.5 671.7v-2.5M33.7 605.5h2.5M102 674.1v-8.7M31.3 603h8.7M118.5 671.7v-2.5M33.7 586.5h2.5M128.1 671.7v-2.5M33.7 576.8h2.5M134.9 671.7v-2.5M33.7 569.9h2.5M140.2 671.7v-4.2M33.7 564.5h4.2M144.6 671.7v-2.5M33.7 560.2h2.5M148.2 671.7v-2.5M33.7 556.5h2.5M151.4 671.7v-2.5M33.7 553.3h2.5M154.2 671.7v-2.5M33.7 550.5h2.5M156.7 674.1v-8.7M31.3 548h8.7M173.2 671.7v-2.5M33.7 531.4h2.5M182.8 671.7v-2.5M33.7 521.7h2.5M189.6 671.7v-2.5M33.7 514.8h2.5M194.9 671.7v-4.2M33.7 509.5h4.2M199.3 671.7v-2.5M33.7 505.1h2.5M202.9 671.7v-2.5M33.7 501.4h2.5M206.1 671.7v-2.5M33.7 498.2h2.5M208.9 671.7v-2.5M33.7 495.4h2.5M211.4 674.1v-8.7M31.3 492.9h8.7M227.9 671.7v-2.5M33.7 476.3h2.5M237.5 671.7v-2.5M33.7 466.6h2.5M244.3 671.7v-2.5M33.7 459.7h2.5M249.6 671.7v-4.2M33.7 454.4h4.2M254 671.7v-2.5M33.7 450h2.5M257.6 671.7v-2.5M33.7 446.4h2.5M260.8 671.7v-2.5M33.7 443.2h2.5M263.6 671.7v-2.5M33.7 440.3h2.5M266.1 674.1v-8.7M31.3 437.8h8.7M282.6 671.7v-2.5M33.7 421.2h2.5M292.2 671.7v-2.5M33.7 411.5h2.5M299 671.7v-2.5M33.7 404.7h2.5M304.3 671.7v-4.2M33.7 399.3h4.2M308.7 671.7v-2.5M33.7 395h2.5M312.3 671.7v-2.5M33.7 391.3h2.5M315.5 671.7v-2.5M33.7 388.1h2.5M318.3 671.7v-2.5M33.7 385.3h2.5M320.8 674.1v-8.7M31.3 382.7h8.7" stroke="#333" stroke-width="1.15" fill="none"/>
<text class="tk" x="47.6" y="687.7" text-anchor="middle">10<tspan class="sp" dy="-5.1">0</tspan></text>
<text class="tk" x="29.3" y="663.7" text-anchor="end">10<tspan class="sp" dy="-5.1">0</tspan></text>
<text class="tk" x="102.3" y="687.7" text-anchor="middle">10<tspan class="sp" dy="-5.1">1</tspan></text>
<text class="tk" x="29.3" y="608.6" text-anchor="end">10<tspan class="sp" dy="-5.1">1</tspan></text>
<text class="tk" x="157" y="687.7" text-anchor="middle">10<tspan class="sp" dy="-5.1">2</tspan></text>
<text class="tk" x="29.3" y="553.6" text-anchor="end">10<tspan class="sp" dy="-5.1">2</tspan></text>
<text class="tk" x="211.7" y="687.7" text-anchor="middle">10<tspan class="sp" dy="-5.1">3</tspan></text>
<text class="tk" x="29.3" y="498.5" text-anchor="end">10<tspan class="sp" dy="-5.1">3</tspan></text>
<text class="tk" x="266.4" y="687.7" text-anchor="middle">10<tspan class="sp" dy="-5.1">4</tspan></text>
<text class="tk" x="29.3" y="443.4" text-anchor="end">10<tspan class="sp" dy="-5.1">4</tspan></text>
<text class="tk" x="321.1" y="687.7" text-anchor="middle">10<tspan class="sp" dy="-5.1">5</tspan></text>
<text class="tk" x="29.3" y="388.3" text-anchor="end">10<tspan class="sp" dy="-5.1">5</tspan></text>
<text class="ax" x="182.3" y="700.2" text-anchor="middle">Actual passenger flow</text>
<text class="ax" transform="translate(8.8 520.8) rotate(-90)" text-anchor="middle">Passenger flow obtained from original radiation model</text>
<text class="pl" x="167.5" y="727.3" text-anchor="middle">(c)</text>
</g>
<g id="panel-d">
<clipPath id="cld"><rect x="384.2" y="369.4" width="300.1" height="302.3"/></clipPath>
<path d="M397.8 369.4V671.7M384.2 658.1H684.3M452.5 369.4V671.7M384.2 603H684.3M507.2 369.4V671.7M384.2 548H684.3M561.9 369.4V671.7M384.2 492.9H684.3M616.6 369.4V671.7M384.2 437.8H684.3M671.3 369.4V671.7M384.2 382.7H684.3" stroke="#dedede" stroke-width="1.1" fill="none"/>
<g clip-path="url(#cld)">
<path d="M450.4 594.9L451.5 592.3L451.4 588.8L451.5 585.9L450.2 582.7L450.2 580.5L451.8 576.3L450.7 574L450.5 569.9L450.4 567.1L451.2 565.2L450.5 562.1L451.1 558.9L451.6 554.6L451.3 551.4L450.1 548.8L451.5 546.1L450.4 543.5L451.7 539.4L450.9 537L451.7 533L451.1 531.5L451.2 528L451.5 524.5L450.6 521.6L451.1 518.1L451.6 515.1L451 512.7L451.6 509.9L451.3 505.7L451.6 503.8L451.4 500.5L451 496.9L451.1 493.2L451.3 491.4L450.4 488.1L451.4 483.9L450.2 481.7L450.5 478.1L451.2 475.7L451.4 472.4L450.7 468.4L450.3 465.6L451 463.5L450.5 459.8L451.8 456.3L451.4 453.2L451.3 449.5L451.1 446.4L451.9 442.5L458.2 442.2L460 442.6L462.8 442.6L468.3 440.8L472.2 440.3L478.3 438.6L484.3 437.3L489.9 436.4L495.8 436L497.9 433.9L501.2 433.4L504.2 431.4L506.9 428.6L511.4 427.7L515.6 427.9L516.1 430.1L518.1 434.2L521.9 435.3L523.7 435.5L528.2 434.5L534 433.8L538.1 433.2L541 432L545 430.8L548.3 429.9L551.8 429.2L556.1 429.5L560.2 430L565.8 430.7L570.2 430.9L572.3 431.2L575.9 431.5L577.8 434.2L582 433L585.6 433.4L588.2 433.4L592.6 432.5L595.5 433.9L599.5 434.8L601.5 438.4L604.5 436.5L609.2 433.9L613.3 429.4L616.3 428.9L619.7 429.2L623.8 429.1L625.6 431.7L625.6 435.9L623 440.2L622.4 442.8L620.7 446.2L618.7 451.5L616.2 454.5L616.2 457.4L614.2 461.8L612.7 465.8L608.5 467L606.4 469.7L601 470.9L598.6 475.4L598.8 478.4L597.4 483.1L601.8 481.7L603.3 480.7L610.7 481.8L610.2 484L607.1 486.1L605 487.4L598.9 492.5L594 493.1L589.7 493.6L589.2 497.2L587.1 499.3L586.3 504L585.6 507.8L584.9 510.9L581.7 514.3L579.1 518.3L577.2 522.3L574.3 526.4L572.8 529.1L572.3 530.7L570 535.3L567.3 537.4L565.7 540.3L563 543L560.8 546.2L558.5 549.8L557.3 550.9L553.3 553.3L552.5 555.5L549.8 557.6L546.8 560.1L545 562.8L542.9 565.5L539.9 566.9L538.4 568.9L535.4 572.5L533.6 573.3L530.4 575.5L526.2 578.4L524.2 579.9L521.2 581.9L519.9 584.5L516.5 586.6L514.6 587.6L512.1 589.3L508.1 591L504.3 593.7L502.2 595.3L497.6 596.6L494.6 596.1L491.1 596.5L487.7 596L485 594.8L482 594.7L478.2 593.6L474.6 593.6L469.8 593.7L466.7 591.9L464.6 593.4L460.8 593L456.4 592.8Z" fill="#bfbfbf" stroke="#bfbfbf" stroke-width="1.6" stroke-linejoin="round"/>
<path d="M397.8 470V601.5M414.3 545V602.8M423.9 535V598.5M430.7 530V600M436 520V601M440.4 500V600" stroke="#bfbfbf" stroke-width="2.4" stroke-linecap="round" fill="none"/>
<path d="M444 490V596.5M447.2 480V597M450 470V596M452.5 455V595" stroke="#bfbfbf" stroke-width="2.1" stroke-linecap="round" fill="none"/>
<path d="M397.8 464.3h0M397.8 459.5h0M397.8 469.1h0M397.8 455.1h0M397.8 448.7h0M397.8 463.6h0M397.8 457.3h0M397.8 466.5h0M397.8 440.1h0M397.8 461.2h0M397.8 467.5h0M397.8 445.5h0M397.8 442.1h0M397.8 455.4h0M397.8 460.3h0M397.8 459.6h0M397.8 456.6h0M397.8 450.7h0M397.8 461.9h0M397.8 469.7h0M397.8 455.9h0M397.8 452.5h0M397.8 469.1h0M397.8 445.3h0M397.8 457.6h0M397.8 465.6h0M397.8 464.2h0M397.8 463h0M397.8 461.1h0M397.8 454.2h0M397.8 469.1h0M397.8 438h0M397.8 437.9h0M414.3 433.4h0M414.3 433.6h0M414.3 430h0M414.3 488.3h0M414.3 460.6h0M414.3 454.2h0M414.3 471.4h0M414.3 483.3h0M414.3 476.6h0M414.3 497.7h0M414.3 473h0M414.3 454.7h0M414.3 483.7h0M414.3 467.5h0M414.3 440h0M414.3 468.3h0M414.3 447.5h0M414.3 483.5h0M414.3 499.4h0M414.3 489.2h0M414.3 502.5h0M414.3 450h0M414.3 495.4h0M414.3 491.1h0M414.3 457.2h0M414.3 473h0M414.3 452.3h0M414.3 462.1h0M414.3 476.3h0M414.3 467.4h0M414.3 467.5h0M414.3 487.9h0M414.3 485.8h0M414.3 447.9h0M414.3 479.2h0M414.3 491.9h0M414.3 440.7h0M414.3 490.1h0M414.3 439.5h0M414.3 470.1h0M414.3 467h0M414.3 439.5h0M414.3 444.5h0M414.3 485.4h0M414.3 459.1h0M414.3 475.9h0M414.3 451.5h0M414.3 482h0M414.3 501.2h0M414.3 490.4h0M414.3 466h0M414.3 502.6h0M414.3 464.9h0M414.3 459.9h0M414.3 469.7h0M414.3 504.1h0M414.3 467.3h0M414.3 460.8h0M414.3 477.5h0M414.3 483.3h0M414.3 490.8h0M414.3 487.8h0M414.3 485.5h0M414.3 469h0M414.3 470.7h0M414.3 503.9h0M414.3 474.4h0M414.3 490.9h0M414.3 465.5h0M414.3 438.5h0M414.3 467.6h0M414.3 437h0M414.3 513.6h0M414.3 511.9h0M414.3 509h0M414.3 508.2h0M414.3 505h0M414.3 521.9h0M414.3 538.6h0M414.3 534.5h0M414.3 541h0M414.3 542.1h0M414.3 539.6h0M414.3 540.6h0M414.3 542.9h0M414.3 543.2h0M414.3 541.1h0M414.3 542.8h0M414.3 530.2h0M414.3 544.9h0M414.3 542.7h0M414.3 541h0M414.3 541.8h0M414.3 539.5h0M414.3 535.6h0M414.3 534.3h0M414.3 543.5h0M414.3 528.6h0M414.3 537.2h0M414.3 543.6h0M414.3 528.1h0M414.3 525.2h0M414.3 520h0M423.9 434.3h0M423.9 435.5h0M423.9 431h0M423.9 493.4h0M423.9 467.6h0M423.9 468.4h0M423.9 458.6h0M423.9 490.1h0M423.9 458h0M423.9 479.2h0M423.9 461.3h0M423.9 504.4h0M423.9 503.3h0M423.9 467.2h0M423.9 534.9h0M423.9 472.6h0M423.9 527.4h0M423.9 474.1h0M423.9 498.2h0M423.9 500.7h0M423.9 499.6h0M423.9 477.8h0M423.9 517.8h0M423.9 503.5h0M423.9 498.1h0M423.9 491.1h0M423.9 472.5h0M423.9 484.3h0M423.9 513.1h0M423.9 511h0M423.9 534.6h0M423.9 512.5h0M423.9 534.3h0M423.9 476.9h0M423.9 471.9h0M423.9 534.8h0M423.9 486h0M423.9 499.8h0M423.9 524.3h0M423.9 456.2h0M423.9 455.6h0M423.9 489.7h0M423.9 464.2h0M423.9 448.9h0M423.9 511.2h0M423.9 497.2h0M423.9 488.6h0M423.9 504.9h0M423.9 474.7h0M423.9 483.2h0M423.9 477.5h0M423.9 505.4h0M423.9 489h0M423.9 499.6h0M423.9 497.1h0M423.9 498.8h0M423.9 446.9h0M423.9 516.9h0M423.9 527.6h0M423.9 449.9h0M423.9 513.8h0M423.9 499h0M423.9 513.6h0M423.9 442.8h0M423.9 445.5h0M423.9 496.7h0M423.9 497.5h0M423.9 454h0M423.9 516.6h0M423.9 453.2h0M423.9 526.2h0M423.9 518.3h0M423.9 512.2h0M423.9 523.3h0M423.9 473.3h0M423.9 502.5h0M423.9 443.7h0M423.9 514.4h0M423.9 462.3h0M423.9 447.5h0M423.9 515.3h0M423.9 448.8h0M423.9 505.3h0M423.9 531.7h0M423.9 496.3h0M423.9 497h0M423.9 515.3h0M423.9 513.8h0M423.9 492.7h0M423.9 447.7h0M423.9 533.8h0M423.9 512.6h0M423.9 490.7h0M423.9 440h0M430.7 503.2h0M430.7 466.4h0M430.7 464.6h0M430.7 443.8h0M430.7 480h0M430.7 494.7h0M430.7 451.2h0M430.7 459.9h0M430.7 479.2h0M430.7 438.1h0M430.7 514.9h0M430.7 457.5h0M430.7 522.6h0M430.7 495.1h0M430.7 472.1h0M430.7 447.8h0M430.7 500.1h0M430.7 446.3h0M430.7 474.2h0M430.7 529.8h0M430.7 516.4h0M430.7 506.8h0M430.7 496.2h0M430.7 499.2h0M430.7 509.6h0M430.7 520.2h0M430.7 450.8h0M430.7 521.8h0M430.7 528.1h0M430.7 496.1h0M430.7 473.9h0M430.7 445.5h0M430.7 475.2h0M430.7 443.4h0M430.7 504.1h0M430.7 497.2h0M430.7 508.5h0M430.7 519.7h0M430.7 472.5h0M430.7 510h0M430.7 509.2h0M430.7 494.1h0M430.7 446.7h0M430.7 519.3h0M430.7 493.4h0M430.7 486h0M430.7 518.3h0M430.7 452.7h0M430.7 443.2h0M430.7 503.1h0M430.7 507.2h0M430.7 491.6h0M430.7 494.1h0M430.7 511.8h0M430.7 516.1h0M430.7 501.6h0M430.7 508.6h0M430.7 489.8h0M430.7 457.9h0M430.7 514.1h0M430.7 444.9h0M430.7 458.2h0M430.7 495.1h0M430.7 477.3h0M430.7 521.2h0M430.7 471.1h0M430.7 488.3h0M430.7 460.3h0M430.7 517.6h0M430.7 476.7h0M430.7 507.3h0M430.7 508.9h0M430.7 484.6h0M430.7 452.6h0M430.7 527.2h0M430.7 443.5h0M430.7 516.2h0M430.7 457.1h0M430.7 482.9h0M430.7 484.1h0M430.7 482.4h0M430.7 496.7h0M430.7 504h0M430.7 504.1h0M430.7 447.1h0M430.7 477.6h0M430.7 460.4h0M430.7 527.5h0M430.7 492.5h0M430.7 529.2h0M430.7 462.5h0M430.7 504.7h0M430.7 438h0M436 484.2h0M436 468.7h0M436 456.5h0M436 490.8h0M436 512h0M436 482.1h0M436 484h0M436 516.1h0M436 462.7h0M436 470.6h0M436 511.5h0M436 445.8h0M436 441.1h0M436 495.2h0M436 481.1h0M436 513.3h0M436 488.1h0M436 464.3h0M436 495.2h0M436 478.2h0M436 492.6h0M436 457.1h0M436 444.1h0M436 513.5h0M436 508.6h0M436 452.8h0M436 448.5h0M436 507.6h0M436 498.7h0M436 478.5h0M436 509.1h0M436 506.7h0M436 507.2h0M436 513.8h0M436 506.2h0M436 436.4h0M436 493.5h0M436 447.3h0M436 512.4h0M436 507.2h0M436 490.9h0M436 477.6h0M436 497.1h0M436 465.9h0M436 497.2h0M436 517.3h0M436 441.2h0M436 473.8h0M436 505.9h0M436 455.5h0M436 470.5h0M436 506.7h0M436 488.2h0M436 462.9h0M436 474.6h0M436 471.6h0M436 483.3h0M436 519.5h0M436 461.7h0M436 468.1h0M436 512.1h0M436 481.6h0M436 493.9h0M436 510.4h0M436 447.9h0M436 455.3h0M436 452h0M436 455.3h0M436 444h0M436 460.7h0M436 514h0M436 512.8h0M436 497h0M436 483.8h0M436 501.5h0M436 516.9h0M436 464.7h0M436 500.3h0M436 450.5h0M436 473h0M436 484.7h0M436 492.5h0M436 458h0M436 475.5h0M436 436h0M440.4 451.5h0M440.4 464.1h0M440.4 489.5h0M440.4 456.4h0M440.4 462.1h0M440.4 478.3h0M440.4 453.1h0M440.4 493.7h0M440.4 461.8h0M440.4 460.4h0M440.4 461.5h0M440.4 469.7h0M440.4 469.4h0M440.4 466.7h0M440.4 467.4h0M440.4 453.4h0M440.4 444.1h0M440.4 492.8h0M440.4 491.2h0M440.4 486.2h0M440.4 471.5h0M440.4 498.1h0M440.4 448.9h0M440.4 443h0M440.4 496.1h0M440.4 474.9h0M440.4 474.8h0M440.4 473.4h0M440.4 484.7h0M440.4 481.7h0M440.4 486.1h0M440.4 473.2h0M440.4 488.6h0M440.4 481.7h0M440.4 491h0M440.4 487.9h0M440.4 448.8h0M440.4 469.1h0M440.4 482.2h0M440.4 484.6h0M440.4 469.1h0M440.4 477.8h0M440.4 493.9h0M440.4 455.2h0M440.4 458.3h0M440.4 460.5h0M440.4 450.2h0M440.4 478.1h0M440.4 477.3h0M440.4 499.3h0M440.4 474.1h0M440.4 456.2h0M440.4 447.1h0M440.4 478h0M440.4 449.9h0M440.4 449.1h0M440.4 470.3h0M440.4 489.9h0M440.4 459.8h0M440.4 458.5h0M440.4 442.9h0M440.4 498.1h0M440.4 438h0M444 480.9h0M444 467.7h0M444 442.9h0M444 487.6h0M444 471.6h0M444 476.5h0M444 474.6h0M444 469.2h0M444 461.9h0M444 479.1h0M444 443.8h0M444 454.6h0M444 469.5h0M444 464.3h0M444 466.6h0M444 469.6h0M444 445h0M444 448.7h0M444 437.5h0M444 474.5h0M444 473.4h0M444 438.9h0M444 450.1h0M444 457.5h0M444 480.6h0M444 478.2h0M444 449.6h0M444 464.2h0M444 470.4h0M444 480.5h0M444 449.6h0M444 450.8h0M444 479.4h0M444 475.9h0M444 456.3h0M444 453.1h0M444 463.7h0M444 440.1h0M444 472.5h0M444 480.3h0M444 451.3h0M444 484.6h0M444 483h0M444 441.5h0M444 478.9h0M444 479.9h0M444 471.1h0M444 452h0M444 465.4h0M444 487.8h0M444 471.5h0M444 488.2h0M444 481.6h0M444 437h0M447.2 465.2h0M447.2 473.5h0M447.2 460.2h0M447.2 445.9h0M447.2 463.3h0M447.2 448.7h0M447.2 453.4h0M447.2 443.2h0M447.2 462.3h0M447.2 471.7h0M447.2 480h0M447.2 471.2h0M447.2 469.6h0M447.2 471.3h0M447.2 450.1h0M447.2 465.8h0M447.2 476.8h0M447.2 467.5h0M447.2 456.7h0M447.2 470.1h0M447.2 475.7h0M447.2 458.2h0M447.2 449.9h0M447.2 455.1h0M447.2 470.1h0M447.2 448.9h0M447.2 449.2h0M447.2 478.6h0M447.2 441h0M447.2 444.1h0M447.2 472.9h0M447.2 467.5h0M447.2 475.7h0M447.2 477.4h0M447.2 447.8h0M447.2 470.3h0M447.2 451.8h0M447.2 468h0M447.2 441.4h0M447.2 471.5h0M447.2 449h0M447.2 467.2h0M447.2 459.6h0M447.2 467.5h0M447.2 438h0M450 452.9h0M450 439.3h0M450 449.6h0M450 448h0M450 470h0M450 440.3h0M450 463.6h0M450 443.8h0M450 450.5h0M450 461.9h0M450 457.6h0M450 439.7h0M450 449h0M450 449.4h0M450 460h0M450 456.1h0M450 454.4h0M450 438.8h0M450 453.9h0M450 454.6h0M450 444.1h0M450 457.7h0M450 444.2h0M450 452.1h0M450 443.5h0M450 451.4h0M450 442h0M450 457.7h0M450 458.7h0M450 468.4h0M450 449.8h0M450 443.1h0M450 452.8h0M450 462.7h0M450 447.4h0M450 438h0M452.5 454.4h0M452.5 444h0M452.5 450h0M452.5 441.4h0M452.5 449.1h0M452.5 451.8h0M452.5 447.9h0M452.5 444.5h0M452.5 448.9h0M452.5 454.9h0M452.5 444.2h0M452.5 451.4h0M452.5 448.5h0M452.5 454.8h0M452.5 444.3h0M452.5 452.9h0M452.5 439.8h0M452.5 439h0M464.3 439.1h0M602.1 434.9h0M580 427.4h0M494.4 431.2h0M516.8 429.5h0M544.2 428.9h0M555.7 426.9h0M461.6 440h0M544.3 430h0M584.2 423.8h0M474.6 438.2h0M518.3 430.4h0M538.3 429.1h0M539.3 426.4h0M503 425.5h0M496.9 433h0M563.3 429.1h0M578.4 428.2h0M561.5 426.7h0M519.6 432.9h0M457.2 436.3h0M464.1 441.1h0M569 428.3h0M467.9 439.4h0M589.1 432.1h0M510.9 426.9h0M585.8 431.4h0M470.9 437h0M551.2 426h0M526.8 434.3h0M598.7 430.1h0M546.2 427h0M554.3 428.4h0M563.8 429.3h0M568.5 426.6h0M495.7 434.7h0M462.8 439.8h0M469.8 435.9h0M496.1 435h0M536.3 425.5h0M480.2 437.3h0M509.9 424.5h0M543.9 426.9h0M507.8 424.4h0M503.6 426.6h0M479.4 437.4h0M577.3 432.6h0M542.5 428.8h0M604.2 435h0M470.5 438.2h0M589.7 431.8h0M550.7 425.9h0M505 426.2h0M460.4 441.2h0M460.5 441.1h0M586.4 432.7h0M494.7 432.5h0M463.2 440.8h0M548.2 426.8h0M480.6 435.3h0M578 430h0M519 432.5h0M532 426.8h0M526.1 432.1h0M598.6 433.3h0M473.9 436.8h0M555.9 426.2h0M516.6 426.7h0M468.2 440.3h0M464 441.3h0M589.3 429.1h0M599.2 433h0M602.9 435h0M567.7 430h0M462.1 434.5h0M600.9 437.1h0M518.9 425.6h0M527.3 427.3h0M477.1 438.7h0M583.9 429.2h0M486.4 434.1h0M574.5 428.8h0M467.2 439.6h0M541.1 429.6h0M488.2 434.1h0M565.6 427.2h0M541.9 429.5h0M578.5 430.7h0M456.6 439.6h0M453.9 441.3h0M597.7 432.4h0M575.3 427.4h0M517.7 427.2h0M459.8 441.7h0M512.8 424h0M556.5 424.8h0M521.5 433.8h0M599.2 433.6h0M566.5 429.2h0M520.3 430.2h0M542.9 428.3h0M541.6 428h0M538.3 431.5h0M463.2 440.6h0M595.5 432.1h0M532.5 431.6h0M590 430.1h0M540.4 430.6h0M550.8 560h0M556.2 551.3h0M602.6 489.8h0M573.2 533.1h0M618.4 451.6h0M598 480.5h0M600.8 475.6h0M612.7 483.9h0M570.1 539h0M574.3 530.2h0M548.1 560.7h0M603.1 478.2h0M537.5 570.9h0M573.8 531.1h0M610.6 485.3h0M561.3 548.5h0M600 476.1h0M557.3 552h0M600.4 480.5h0M594.9 493.1h0M562.3 548h0M549.7 560.7h0M589.3 496h0M605.3 470.5h0M619.3 451.8h0M587.8 500.2h0M535.2 573.7h0M615.8 459.8h0M543.7 566.1h0M529.6 577.7h0M519.6 583.3h0M542.4 568.2h0M573.4 531.2h0M564.6 544.9h0M600.5 474.8h0M617.4 459.7h0M527.1 580h0M602.5 471h0M576 526.5h0M613 467.9h0M574.4 527h0M579.1 518h0M535.8 571.8h0M576 529.9h0M619.5 452.9h0M559.8 550.9h0M617.3 453.4h0M589.7 499.4h0M563.4 545.8h0M620 455h0M480.4 596.8h0M476.5 594.3h0M477.1 594.7h0M470.9 593h0M501.6 597.3h0M512.8 590.7h0M508.5 597.5h0M517 588.1h0M454.4 597.9h0M500.9 595.8h0M515.5 588.7h0M481.7 595.5h0M478.2 593.9h0M463.7 594.1h0M484.8 596.8h0M500.3 597h0M469.7 595.5h0M513.8 589.4h0M517.2 588.1h0M485 595.4h0M459.8 595h0M436 422.3h0M444.3 427.3h0M466.5 434h0M470 428.5h0M474 432.5h0M480.5 432h0M483.5 424.5h0M487 426h0M492 427.5h0M497 428h0M499.5 424h0M503.5 425.5h0M478.5 640.5h0M495 640.5h0M487.6 624h0M486 614.5h0M489.5 615.5h0M491 610h0M493 605h0M473 608h0M470.5 608h0M462 603.5h0M465 601h0M469.5 600h0M459.5 597h0M501.5 608h0M508.5 619.5h0M513 624h0M499 601h0M505.5 600.5h0M510 600h0M516 608h0M517.5 613h0M519.5 602h0M524.5 619.5h0M527.3 624.5h0M516.5 598h0M524.6 602h0M521 596h0M545.5 598.5h0M516 593h0M534.5 581.5h0M549.5 564h0M556.5 553.5h0M558 549.5h0M560.5 548h0M567.5 537.5h0M571 530h0" stroke="#b8b8b8" stroke-width="2.65" stroke-linecap="round" fill="none"/>
<g fill="#fff"><circle cx="561.5" cy="431.8" r="1.6"/><circle cx="596.5" cy="437.8" r="1.7"/><circle cx="598" cy="443.2" r="1.5"/><circle cx="603" cy="433" r="1.2"/><circle cx="462" cy="452" r="1.2"/><circle cx="470" cy="449" r="1"/><circle cx="458" cy="463" r="1.1"/><circle cx="476" cy="446" r="1"/><circle cx="481.2" cy="466.1" r="1.1"/><circle cx="469.1" cy="463.8" r="0.6"/><circle cx="462" cy="503.7" r="0.6"/><circle cx="462.3" cy="467" r="1"/><circle cx="468.2" cy="457.1" r="1"/><circle cx="455.8" cy="486.7" r="1.2"/><circle cx="457.8" cy="446.7" r="0.8"/><circle cx="471.1" cy="455.7" r="0.8"/><circle cx="478.6" cy="497.9" r="0.8"/><circle cx="464.8" cy="501.4" r="1.1"/><circle cx="460.5" cy="510.3" r="0.9"/><circle cx="478.1" cy="501.8" r="0.8"/><circle cx="480.7" cy="513.6" r="1"/><circle cx="463.6" cy="459.4" r="0.6"/><circle cx="455.4" cy="494.5" r="1"/><circle cx="453" cy="464.1" r="1.1"/><circle cx="477.8" cy="469.2" r="1"/><circle cx="472.7" cy="445" r="0.9"/><circle cx="452.6" cy="486.7" r="1"/><circle cx="461.5" cy="487.7" r="0.6"/><circle cx="476.8" cy="461.7" r="1"/><circle cx="458" cy="449.7" r="1.2"/><circle cx="478.3" cy="484.9" r="0.8"/><circle cx="454.7" cy="479.3" r="0.9"/><circle cx="475.7" cy="514.1" r="1.1"/><circle cx="473.6" cy="488" r="1.1"/></g>
</g>
<path d="M403.6 429.8V491.2M403.6 571.5V607.9M398.6 429.8H408.6M398.6 607.9H408.6M415.6 493.2V538.9M415.6 570.3V611.2M410.6 493.2H420.6M410.6 611.2H420.6M427.6 494.4V539.4M427.6 569.5V605.4M422.6 494.4H432.6M422.6 605.4H432.6M439.6 499.4V540.2M439.6 568.2V605.4M434.6 499.4H444.6M434.6 605.4H444.6M451.6 495.7V537.1M451.6 564V602.2M446.6 495.7H456.6M446.6 602.2H456.6M463.6 498.2V536M463.6 561V596.1M458.6 498.2H468.6M458.6 596.1H468.6M475.6 489.6V530.7M475.6 557.7V598.4M470.6 489.6H480.6M470.6 598.4H480.6M487.6 469.3V519.5M487.6 552.2V598.4M482.6 469.3H492.6M482.6 598.4H492.6M499.6 457.5V511.5M499.6 546.9V600.4M494.6 457.5H504.6M494.6 600.4H504.6M511.6 465.5V512M511.6 542.1V588.3M506.6 465.5H516.6M506.6 588.3H516.6M523.6 470V510.8M523.6 537.1V577.3M518.6 470H528.6M518.6 577.3H528.6M535.6 467.5V505M535.6 529.5V566.5M530.6 467.5H540.6M530.6 566.5H540.6M547.6 460.5V495.7M547.6 519V554.4M542.6 460.5H552.6M542.6 554.4H552.6M559.6 454.7V487.6M559.6 509.5V542.6M554.6 454.7H564.6M554.6 542.6H564.6M571.6 443.4V476.3M571.6 497.4V530.2M566.6 443.4H576.6M566.6 530.2H576.6M583.6 436.6V464.8M583.6 483.1V511.3M578.6 436.6H588.6M578.6 511.3H588.6M595.6 441.7V457.5M595.6 468V483.6M590.6 441.7H600.6M590.6 483.6H600.6M607.6 432.4V450.5M607.6 462.3V471.8M602.6 432.4H612.6M602.6 471.8H612.6M619.6 429.1V434.1M619.6 450.5V463.5M614.6 429.1H624.6M614.6 463.5H624.6" stroke="#1e1e1e" stroke-width="0.78" fill="none"/>
<rect x="401.5" y="491.2" width="4.2" height="80.3" fill="#d5161c" stroke="#7a1418" stroke-width="0.6"/>
<rect x="413.5" y="538.9" width="4.2" height="31.4" fill="#d5161c" stroke="#7a1418" stroke-width="0.6"/>
<rect x="425.5" y="539.4" width="4.2" height="30.1" fill="#d5161c" stroke="#7a1418" stroke-width="0.6"/>
<rect x="437.5" y="540.2" width="4.2" height="28" fill="#d5161c" stroke="#7a1418" stroke-width="0.6"/>
<rect x="449.5" y="537.1" width="4.2" height="26.9" fill="#d5161c" stroke="#7a1418" stroke-width="0.6"/>
<rect x="461.5" y="536" width="4.2" height="25" fill="#d5161c" stroke="#7a1418" stroke-width="0.6"/>
<rect x="473.5" y="530.7" width="4.2" height="27" fill="#d5161c" stroke="#7a1418" stroke-width="0.6"/>
<rect x="485.5" y="519.5" width="4.2" height="32.7" fill="#d5161c" stroke="#7a1418" stroke-width="0.6"/>
<rect x="497.5" y="511.5" width="4.2" height="35.4" fill="#33b044" stroke="#1e7a30" stroke-width="0.6"/>
<rect x="509.5" y="512" width="4.2" height="30.1" fill="#33b044" stroke="#1e7a30" stroke-width="0.6"/>
<rect x="521.5" y="510.8" width="4.2" height="26.3" fill="#33b044" stroke="#1e7a30" stroke-width="0.6"/>
<rect x="533.5" y="505" width="4.2" height="24.5" fill="#33b044" stroke="#1e7a30" stroke-width="0.6"/>
<rect x="545.5" y="495.7" width="4.2" height="23.3" fill="#33b044" stroke="#1e7a30" stroke-width="0.6"/>
<rect x="557.5" y="487.6" width="4.2" height="21.9" fill="#33b044" stroke="#1e7a30" stroke-width="0.6"/>
<rect x="569.5" y="476.3" width="4.2" height="21.1" fill="#33b044" stroke="#1e7a30" stroke-width="0.6"/>
<rect x="581.5" y="464.8" width="4.2" height="18.3" fill="#33b044" stroke="#1e7a30" stroke-width="0.6"/>
<rect x="593.5" y="457.5" width="4.2" height="10.5" fill="#33b044" stroke="#1e7a30" stroke-width="0.6"/>
<rect x="605.5" y="450.5" width="4.2" height="11.8" fill="#33b044" stroke="#1e7a30" stroke-width="0.6"/>
<rect x="617.5" y="434.1" width="4.2" height="16.4" fill="#33b044" stroke="#1e7a30" stroke-width="0.6"/>
<path d="M401.5 555.2H405.7M413.5 560.2H417.7M425.5 558.2H429.7M437.5 556.4H441.7M449.5 552.2H453.7M461.5 550.2H465.7M473.5 545.9H477.7M485.5 539.6H489.7M497.5 534.2H501.7M509.5 530.1H513.7M521.5 524.6H525.7M533.5 518.8H537.7M545.5 508.2H549.7M557.5 499H561.7M569.5 488.1H573.7M581.5 474.8H585.7M593.5 463H597.7M605.5 456.7H609.7M617.5 445.4H621.7" stroke="#0a1f0e" stroke-width="0.95" fill="none"/>
<g fill="none" stroke="#0a0a0a" stroke-width="0.85"><circle cx="403.6" cy="534.2" r="1.2"/><circle cx="415.6" cy="545.1" r="1.2"/><circle cx="427.6" cy="545.6" r="1.2"/><circle cx="439.6" cy="548.9" r="1.2"/><circle cx="451.6" cy="545.1" r="1.2"/><circle cx="463.6" cy="543.9" r="1.2"/><circle cx="475.6" cy="538.8" r="1.2"/><circle cx="487.6" cy="532" r="1.2"/><circle cx="499.6" cy="526.7" r="1.2"/><circle cx="511.6" cy="525.1" r="1.2"/><circle cx="523.6" cy="520.8" r="1.2"/><circle cx="535.6" cy="515.3" r="1.2"/><circle cx="547.6" cy="505.7" r="1.2"/><circle cx="559.6" cy="496.9" r="1.2"/><circle cx="571.6" cy="486.1" r="1.2"/><circle cx="583.6" cy="473.6" r="1.2"/><circle cx="595.6" cy="461.8" r="1.2"/><circle cx="607.6" cy="455.5" r="1.2"/><circle cx="619.6" cy="442.4" r="1.2"/></g>
<path d="M384.2 671.7L684.3 369.4" stroke="#1a1a1a" stroke-width="1.05" fill="none"/>
<path d="M384.2 369.4V671.7H684.3V369.4" stroke="#4a4a4a" stroke-width="1.1" fill="none"/>
<path d="M384.2 369.4H684.3" stroke="#b4b4b4" stroke-width="1.1" fill="none"/>
<path d="M385.7 671.7v-2.5M384.2 670.3h2.5M389.3 671.7v-2.5M384.2 666.6h2.5M392.5 671.7v-2.5M384.2 663.4h2.5M395.3 671.7v-2.5M384.2 660.6h2.5M397.8 674.1v-8.7M381.8 658.1h8.7M414.3 671.7v-2.5M384.2 641.5h2.5M423.9 671.7v-2.5M384.2 631.8h2.5M430.7 671.7v-2.5M384.2 624.9h2.5M436 671.7v-4.2M384.2 619.6h4.2M440.4 671.7v-2.5M384.2 615.2h2.5M444 671.7v-2.5M384.2 611.6h2.5M447.2 671.7v-2.5M384.2 608.4h2.5M450 671.7v-2.5M384.2 605.5h2.5M452.5 674.1v-8.7M381.8 603h8.7M469 671.7v-2.5M384.2 586.5h2.5M478.6 671.7v-2.5M384.2 576.8h2.5M485.4 671.7v-2.5M384.2 569.9h2.5M490.7 671.7v-4.2M384.2 564.5h4.2M495.1 671.7v-2.5M384.2 560.2h2.5M498.7 671.7v-2.5M384.2 556.5h2.5M501.9 671.7v-2.5M384.2 553.3h2.5M504.7 671.7v-2.5M384.2 550.5h2.5M507.2 674.1v-8.7M381.8 548h8.7M523.7 671.7v-2.5M384.2 531.4h2.5M533.3 671.7v-2.5M384.2 521.7h2.5M540.1 671.7v-2.5M384.2 514.8h2.5M545.4 671.7v-4.2M384.2 509.5h4.2M549.8 671.7v-2.5M384.2 505.1h2.5M553.4 671.7v-2.5M384.2 501.4h2.5M556.6 671.7v-2.5M384.2 498.2h2.5M559.4 671.7v-2.5M384.2 495.4h2.5M561.9 674.1v-8.7M381.8 492.9h8.7M578.4 671.7v-2.5M384.2 476.3h2.5M588 671.7v-2.5M384.2 466.6h2.5M594.8 671.7v-2.5M384.2 459.7h2.5M600.1 671.7v-4.2M384.2 454.4h4.2M604.5 671.7v-2.5M384.2 450h2.5M608.1 671.7v-2.5M384.2 446.4h2.5M611.3 671.7v-2.5M384.2 443.2h2.5M614.1 671.7v-2.5M384.2 440.3h2.5M616.6 674.1v-8.7M381.8 437.8h8.7M633.1 671.7v-2.5M384.2 421.2h2.5M642.7 671.7v-2.5M384.2 411.5h2.5M649.5 671.7v-2.5M384.2 404.7h2.5M654.8 671.7v-4.2M384.2 399.3h4.2M659.2 671.7v-2.5M384.2 395h2.5M662.8 671.7v-2.5M384.2 391.3h2.5M666 671.7v-2.5M384.2 388.1h2.5M668.8 671.7v-2.5M384.2 385.3h2.5M671.3 674.1v-8.7M381.8 382.7h8.7" stroke="#333" stroke-width="1.15" fill="none"/>
<text class="tk" x="398.1" y="687.7" text-anchor="middle">10<tspan class="sp" dy="-5.1">0</tspan></text>
<text class="tk" x="379.8" y="663.7" text-anchor="end">10<tspan class="sp" dy="-5.1">0</tspan></text>
<text class="tk" x="452.8" y="687.7" text-anchor="middle">10<tspan class="sp" dy="-5.1">1</tspan></text>
<text class="tk" x="379.8" y="608.6" text-anchor="end">10<tspan class="sp" dy="-5.1">1</tspan></text>
<text class="tk" x="507.5" y="687.7" text-anchor="middle">10<tspan class="sp" dy="-5.1">2</tspan></text>
<text class="tk" x="379.8" y="553.6" text-anchor="end">10<tspan class="sp" dy="-5.1">2</tspan></text>
<text class="tk" x="562.2" y="687.7" text-anchor="middle">10<tspan class="sp" dy="-5.1">3</tspan></text>
<text class="tk" x="379.8" y="498.5" text-anchor="end">10<tspan class="sp" dy="-5.1">3</tspan></text>
<text class="tk" x="616.9" y="687.7" text-anchor="middle">10<tspan class="sp" dy="-5.1">4</tspan></text>
<text class="tk" x="379.8" y="443.4" text-anchor="end">10<tspan class="sp" dy="-5.1">4</tspan></text>
<text class="tk" x="671.6" y="687.7" text-anchor="middle">10<tspan class="sp" dy="-5.1">5</tspan></text>
<text class="tk" x="379.8" y="388.3" text-anchor="end">10<tspan class="sp" dy="-5.1">5</tspan></text>
<text class="ax" x="532.8" y="700.2" text-anchor="middle">Actual passenger flow</text>
<text class="ax" transform="translate(359.3 520.8) rotate(-90)" text-anchor="middle">Passenger flow obtained from original radiation model</text>
<text class="pl" x="518" y="727.3" text-anchor="middle">(d)</text>
</g>
<g id="panel-e">
<clipPath id="cle"><rect x="33.7" y="740.1" width="300.1" height="302.3"/></clipPath>
<path d="M47.3 740.1V1042.4M33.7 1028.8H333.8M102 740.1V1042.4M33.7 973.7H333.8M156.7 740.1V1042.4M33.7 918.7H333.8M211.4 740.1V1042.4M33.7 863.6H333.8M266.1 740.1V1042.4M33.7 808.5H333.8M320.8 740.1V1042.4M33.7 753.4H333.8" stroke="#dedede" stroke-width="1.1" fill="none"/>
<g clip-path="url(#cle)">
<path d="M100 1028.5L100.1 1024.9L100.8 1023.2L99.9 1019.7L99.5 1015.8L99.6 1013.7L99.5 1011.1L99.2 1006.7L99.3 1004.7L99.8 1001.1L99.7 998.4L99.8 994.6L99.9 991.7L99.3 989.6L100.3 986.3L100.7 982.7L99.8 979.8L99.8 977.2L99.1 973.8L100.1 970.5L99.1 968.1L99.1 964.8L99.4 960.8L99.4 957.9L99.4 955.9L100.4 952.3L100.3 949.5L100 947.2L99.7 944.1L100.3 940.7L99.1 936.6L99.2 934.1L100.8 932L100.6 927.6L100.4 925.7L100.6 922.7L99.4 918.6L100.5 916.5L100.7 913L100.7 909.4L100.8 907.7L103.4 903.9L107.4 902.6L109.9 899.4L112.7 898.6L115.3 896.6L118.6 893.2L120.7 892.1L124.6 888.5L125.6 886.7L129.2 883.3L130.9 882.6L132.6 879.2L135.1 875.7L136.1 873.6L138.8 871.1L140.6 869.6L144.2 868.4L148.9 867.2L151 866.1L154.7 865.3L157.7 862.7L161.8 861.5L166 860.4L169.7 860.6L173.3 861.6L175.2 863L178.5 864.6L182.2 862.4L184.6 861.3L187.2 859.1L189.7 859.4L193.9 857.6L196.7 856.6L200.4 856L203 849.9L206.5 847.9L207.9 844.1L211.8 841.7L215.2 839.4L218.6 838.4L220.5 835.8L224 833.5L227.8 831.9L231.2 828.6L234.2 826.1L237.3 824L239.6 821L242.7 819.6L245.7 816.2L248.9 814.2L252.9 813.2L256 811.8L258.8 808.3L261.9 806.5L266.9 804.9L271 803L275.5 804.2L274.2 807.8L273.5 810.5L268.5 813.3L263.3 817.1L262.2 820.6L260.9 822.7L257.3 826.5L253.3 828.1L251.1 831.1L249.8 832.9L245.9 835.9L244.1 837.8L241.5 840.5L240.8 842.5L237.7 844.7L233 847.7L231.4 851.2L227 853.9L223.8 857.5L222.1 861.4L219.1 863.8L215.4 866.5L213.1 868.4L210.4 871.4L208.8 876.2L209 881.1L206.3 883.8L203.5 889.3L201.2 892.9L201.1 894.2L200.3 897.3L199.5 901.9L199.1 905.5L198.5 909.4L196 913.2L195.3 918.9L195.7 922.6L193.7 926.1L193.9 930L192.3 933.4L192.4 935.8L190.8 938.2L191 941.3L190 946L189.4 949.7L188.2 953.1L189.9 956L190.4 960.4L190.7 964.9L190.3 969.4L191 971.8L191.9 975.6L192.2 980.7L193.1 984.2L195.5 987.9L195.9 992.5L195.2 995L196.8 1000.4L197 1004L196.5 1008.3L196.9 1011.9L198 1014.9L198.4 1020.2L198.5 1022.4L201.1 1025.7L202 1028.5L199 1028.5L196 1028.5L193 1028.5L190 1028.5L187 1028.5L184 1028.5L181 1028.5L178 1028.5L175 1028.5L172 1028.5L169 1028.5L166 1028.5L163 1028.5L160 1028.5L157 1028.5L154 1028.5L151 1028.5L148 1028.5L145 1028.5L142 1028.5L139 1028.5L136 1028.5L133 1028.5L130 1028.5L127 1028.5L124 1028.5L121 1028.5L118 1028.5L115 1028.5L112 1028.5L109 1028.5L106 1028.5L103 1028.5Z" fill="#bfbfbf" stroke="#bfbfbf" stroke-width="1.6" stroke-linejoin="round"/>
<path d="M47.3 909V1028.3M63.8 909V1028.3M73.4 910V1028.3M80.2 910V1028.3M85.5 910V1028.3M89.9 909V1028.3" stroke="#bfbfbf" stroke-width="2.4" stroke-linecap="round" fill="none"/>
<path d="M93.5 909V1028.3M96.7 908V1028.3M99.5 907V1028.3" stroke="#bfbfbf" stroke-width="2.1" stroke-linecap="round" fill="none"/>
<path d="M47.3 904.7h0M47.3 901.8h0M47.3 904.8h0M47.3 907.9h0M47.3 908.8h0M47.3 898h0M63.8 905.8h0M63.8 907.1h0M63.8 902h0M63.8 902.5h0M63.8 901h0M73.4 908.1h0M73.4 909.3h0M73.4 905h0M80.2 905.8h0M80.2 906h0M80.2 905h0M85.5 907.3h0M85.5 906.2h0M85.5 905.1h0M85.5 904h0M89.9 905h0M89.9 906.4h0M89.9 904h0M93.5 907.9h0M93.5 904.3h0M93.5 908h0M93.5 903h0M96.7 903.6h0M96.7 904.5h0M96.7 906.6h0M96.7 903h0M99.5 903.1h0M99.5 904.5h0M99.5 903h0M124 881.1h0M180 858h0M159.9 855.8h0M197.5 849h0M116.1 887.1h0M191.7 857.3h0M99.9 901.2h0M201.3 899h0M201.4 915.8h0M123.9 870.3h0M169.4 856.5h0M182.1 858.5h0M199.4 902.2h0M110.8 892h0M132.3 871.4h0M142.9 853.7h0M127.6 877.3h0M124.9 883.1h0M101.1 898.9h0M111 891.8h0M136.4 872.7h0M186.4 859.8h0M159.1 862.1h0M176.7 863.2h0M127.2 881.1h0M113.1 889.9h0M129.9 875.2h0M128.1 878h0M181.6 859h0M128 876.5h0M197.5 850.4h0M180.2 858.9h0M142.1 864.7h0M129.6 877.3h0M99.1 904.1h0M131.8 871.4h0M167 857.9h0M145.8 861.1h0M119.5 881.4h0M108.8 894h0M192.9 855.5h0M121.4 878.9h0M129.8 878.2h0M132.9 869.1h0M197 847.2h0M139.9 869.2h0M131.4 879.8h0M195.2 849.8h0M196.8 849.6h0M113.9 888.2h0M202.4 915.4h0M201.5 848.4h0M169.5 857.7h0M190 851.2h0M180.2 860.1h0M128.7 879.4h0M170.3 855.2h0M167.7 855.8h0M199.2 911.1h0M204.2 910h0M194.2 851.7h0M133.4 866.6h0M189.8 846.7h0M125.9 883.2h0M187.5 854.1h0M116.9 886.8h0M107.3 896.5h0M138.8 857h0M193 845.2h0M124.2 887.1h0M127.4 882h0M147.5 865.5h0M203.2 898.8h0M191.5 836.8h0M143.3 866.5h0M177.1 860.5h0M201.6 903.2h0M103.6 902.8h0M191.5 852.9h0M112.7 891.9h0M130.3 881.2h0M120.2 887.9h0M131.4 879.1h0M100.2 892.9h0M177.9 858.3h0M147.1 864.7h0M135.8 866.9h0M192 848.2h0M146.2 843.7h0M145.3 863.7h0M173.9 856.9h0M134.5 870.5h0M160.3 857.4h0M156.3 855.2h0M148.3 859.7h0M146.5 864.5h0M183.4 856.8h0M184.9 851.5h0M141.2 855.9h0M191.4 853.5h0M172 849.8h0M187.7 846.7h0M172.2 846.3h0M178.9 858.9h0M184.6 859h0M159.2 861.5h0M178.4 856.5h0M175.4 849h0M153.4 840.9h0M191 857h0M195.2 850h0M183.5 848.1h0M156.3 851.2h0M174.8 855.1h0M157.3 852.3h0M156.4 853.7h0M177 857.1h0M181.2 850.8h0M185.4 858.3h0M191.6 857.8h0M170.3 855.5h0M177.3 851.7h0M151.1 859.1h0M160.9 848.4h0M188.9 857.2h0M250.4 834.2h0M222.8 861h0M210.7 840.9h0M257.8 827.8h0M275.1 809.9h0M274.4 810.4h0M243.5 840.1h0M227.7 855.1h0M254.1 810.1h0M265.1 818.3h0M241 821h0M231.9 851.8h0M260.8 824.1h0M248.6 813.5h0M246.9 814.9h0M253 832.3h0M220.5 831.4h0M249.2 813.9h0M223.5 833.7h0M253.1 810.5h0M203.3 847.7h0M275 806.6h0M226.5 857.4h0M241.2 843.7h0M243 839.2h0M248.9 814.7h0M250.4 832.9h0M240 845.8h0M215.8 839.3h0M251.3 831.6h0M237.1 823.7h0M223.3 832.6h0M255.1 811.1h0M259.6 823.5h0M261 806.9h0M247.2 837.2h0M246.2 834.9h0M219.2 865.1h0M211.4 870.8h0M221.9 860h0M239.6 818.9h0M236.6 850h0M213.7 839.1h0M252.6 812.8h0M262.9 821.7h0M250.2 813.9h0M263.7 820.6h0M221.1 833.9h0M254.9 829.4h0M255.3 828.9h0M239.1 819.5h0M238.1 820.8h0M273 810.6h0M257.1 827.5h0M244.7 817.1h0M261.8 819.9h0M239.9 841.3h0M204.3 894.1h0M199.5 909h0M195.2 982.5h0M200.6 912.8h0M190 959.5h0M198.2 961.8h0M191.1 967.1h0M200.3 907.1h0M192.1 941h0M192 970.6h0M214 900.1h0M197.1 930.2h0M192 937.9h0M194.1 979.1h0M199.9 989.7h0M202.5 925.1h0M194.2 937.1h0M205.2 900.5h0M196.7 968h0M204.3 898.2h0M201 1007.1h0M210.2 886.6h0M202.4 900.2h0M206.8 884.8h0M200.1 916.7h0M200 968.3h0M190.4 951h0M202.9 927.6h0M198.5 1016.1h0M198.1 1002.5h0M194.2 953.3h0M199.2 914.2h0M190.7 951.3h0M200.1 998.3h0M191.3 935.6h0M202.3 891.3h0M199.7 1010.1h0M213.8 888.7h0M194.3 931.6h0M194.5 969.9h0M194 957.4h0M198.6 920.8h0M191 946.4h0M198.4 995.9h0M194.5 931.9h0M204.6 892.7h0M194.5 982.6h0M194.3 977.4h0M195.1 977.6h0M199.5 996.1h0M198.1 1007.1h0M195.9 937.4h0M202.8 1009.9h0M200.3 896.6h0M218.6 889.7h0M195 944.9h0M197.4 1014.9h0M197.8 973.3h0M201.4 1018.6h0M203.6 900.1h0M207.3 891.4h0M194.2 968.9h0M208.6 887.9h0M196.4 991.7h0M203.9 1020.7h0M201.4 1011.4h0M198.5 1019.1h0M211.1 900.1h0M194.8 935.5h0M195.5 968.8h0M199.5 925.4h0M192 953.8h0M196.2 999.9h0M196.1 964.9h0M207.5 888.3h0M193.7 977.7h0M209.6 885.2h0M201 1014.1h0M199.8 1009.3h0M201.7 896.8h0M200.7 911.7h0M195.4 963.9h0M197.4 983.7h0M213.2 894.2h0M206.8 892.4h0M190.3 948.7h0M193.2 970.2h0M197 978.2h0M200.9 903.1h0M199.7 916.2h0M201.8 901.4h0M204.7 885.6h0M200.8 909.8h0M196.5 990.9h0M200.1 914.5h0M195.6 960.7h0M199.3 1000.8h0M195.4 972.5h0M196.1 934.3h0M195 986.1h0M205.5 1016.6h0M195.2 985.1h0M209.5 883.9h0M198.4 1000.5h0M194.7 923.4h0M201.5 912.1h0M197.3 912.7h0M201.6 908h0M198.8 917.7h0M194.1 938.5h0M200.9 1001h0M207.3 911.4h0M199.9 956.6h0M211 885.3h0M196.5 925.2h0M192.3 973.8h0M198.5 920.5h0M193.1 954.6h0M201.6 913.5h0M198.7 905.2h0M197.8 992.7h0M201.7 1018.9h0M191.8 947.3h0M202.4 1012h0M196.1 968.9h0M205.3 899.6h0M196.5 936.5h0M192.4 960.7h0M191.3 942.8h0M199.1 1009.3h0M190.6 958.1h0M200.6 975.1h0M199.3 922.3h0M196.8 970.8h0M197.1 971.9h0M93.2 853.3h0M98.8 857.8h0M103.3 868.3h0M89.1 895h0M99 879.3h0M99 886h0M46.6 898h0M63.2 902h0M215.7 895.8h0M215.8 894.5h0M203.5 903h0M205 911h0M215.5 1002.3h0M205 972h0M203.5 935h0M201.5 927h0M203 914h0M215.5 835.5h0M93.5 853.5h0M166.5 842h0M170 846h0" stroke="#b8b8b8" stroke-width="2.65" stroke-linecap="round" fill="none"/>
<g fill="#fff"><circle cx="197.4" cy="892.3" r="1.1"/><circle cx="190.2" cy="965.4" r="0.9"/><circle cx="186.6" cy="957" r="1.1"/><circle cx="193" cy="917.9" r="0.7"/><circle cx="196.4" cy="1024" r="0.8"/><circle cx="197.4" cy="895.1" r="0.7"/><circle cx="190.3" cy="937.2" r="0.7"/><circle cx="190.5" cy="925.7" r="1"/><circle cx="190" cy="974.4" r="1"/><circle cx="196.4" cy="912.7" r="0.8"/><circle cx="206.5" cy="882.2" r="1"/><circle cx="191.5" cy="984.9" r="1.3"/><circle cx="190.7" cy="977.2" r="0.9"/><circle cx="193.6" cy="926.2" r="1"/><circle cx="189" cy="940.4" r="1.3"/><circle cx="198.2" cy="896.9" r="0.7"/><circle cx="190.7" cy="926.6" r="0.8"/><circle cx="194.9" cy="1015.2" r="1.2"/><circle cx="194.9" cy="1003.5" r="1.2"/><circle cx="194.7" cy="906.6" r="1.2"/><circle cx="195" cy="919.8" r="1.2"/><circle cx="194.7" cy="916.6" r="0.7"/><circle cx="195.3" cy="1004.5" r="1"/><circle cx="199.4" cy="1025.5" r="0.9"/><circle cx="196.9" cy="911.4" r="0.9"/><circle cx="199.2" cy="1026.7" r="1.1"/><circle cx="189.1" cy="956.5" r="0.8"/><circle cx="192" cy="925.7" r="0.7"/><circle cx="203.1" cy="883.9" r="1.3"/><circle cx="189.8" cy="978.5" r="0.9"/><circle cx="191.3" cy="926.1" r="1.2"/><circle cx="192.3" cy="928.4" r="0.9"/><circle cx="191.8" cy="986.4" r="1"/><circle cx="197.3" cy="1024.3" r="1.3"/><circle cx="188" cy="960.2" r="1.1"/><circle cx="195.6" cy="1003.1" r="0.8"/><circle cx="197.5" cy="901.3" r="1.3"/><circle cx="195.2" cy="1003.3" r="1.1"/><circle cx="197.7" cy="908.2" r="0.9"/><circle cx="189.9" cy="932.3" r="0.8"/><circle cx="194.4" cy="999.3" r="0.9"/><circle cx="192.5" cy="999.6" r="0.9"/><circle cx="190.2" cy="929" r="1.3"/><circle cx="189" cy="980.1" r="0.7"/><circle cx="193.3" cy="1009.4" r="0.9"/><circle cx="197.3" cy="1017.4" r="1.2"/><circle cx="197.1" cy="911.7" r="1.2"/><circle cx="193.6" cy="915.1" r="0.9"/><circle cx="199.8" cy="892.9" r="0.9"/><circle cx="186.3" cy="962.7" r="0.9"/><circle cx="192.1" cy="1006.6" r="1"/><circle cx="194.4" cy="908.6" r="1"/><circle cx="194.4" cy="991" r="1.1"/><circle cx="200.1" cy="888.8" r="0.9"/><circle cx="188.2" cy="943.8" r="1.2"/><circle cx="194.6" cy="916.3" r="1.1"/><circle cx="197.8" cy="906.1" r="1.1"/><circle cx="197.6" cy="1018.5" r="0.6"/><circle cx="188.8" cy="952.2" r="0.7"/><circle cx="199.7" cy="897.7" r="1.2"/><circle cx="193.3" cy="1001" r="0.9"/><circle cx="202.7" cy="886" r="0.7"/><circle cx="192.6" cy="991.9" r="1.3"/><circle cx="194.2" cy="996.4" r="0.8"/><circle cx="195.8" cy="895.7" r="0.7"/><circle cx="193" cy="991.4" r="1.1"/><circle cx="189.7" cy="940.1" r="0.6"/><circle cx="191.7" cy="981.7" r="0.8"/><circle cx="191.3" cy="975.8" r="1.2"/><circle cx="193.5" cy="987.8" r="0.7"/><circle cx="188.3" cy="940.6" r="0.9"/><circle cx="187.2" cy="962" r="0.8"/><circle cx="194" cy="994.5" r="0.8"/><circle cx="200.3" cy="1028.3" r="1.2"/><circle cx="197.7" cy="1021.1" r="1.1"/><circle cx="198.5" cy="1026.4" r="0.9"/><circle cx="201.6" cy="887.5" r="1.2"/><circle cx="185.4" cy="957.3" r="1"/><circle cx="194.9" cy="1003.3" r="0.7"/><circle cx="186.6" cy="952.2" r="0.9"/><circle cx="197.6" cy="908.4" r="0.9"/><circle cx="198.2" cy="1023.4" r="1"/><circle cx="193.8" cy="992.4" r="1.2"/><circle cx="193.4" cy="1000.5" r="0.8"/><circle cx="196.7" cy="910.4" r="1.2"/><circle cx="195.6" cy="915.5" r="1"/><circle cx="197" cy="910.9" r="0.7"/><circle cx="204.7" cy="885.7" r="1.1"/><circle cx="188.9" cy="946.7" r="1.2"/><circle cx="187.3" cy="942.6" r="1.1"/><circle cx="189.9" cy="930.5" r="0.7"/><circle cx="190.5" cy="933.4" r="1.1"/><circle cx="188.1" cy="960.9" r="1.1"/><circle cx="195.3" cy="901.5" r="1"/><circle cx="189.7" cy="933.9" r="0.7"/><circle cx="188.7" cy="943.8" r="1.1"/><circle cx="200.3" cy="893.8" r="0.6"/><circle cx="189.2" cy="961.6" r="0.8"/><circle cx="196.9" cy="906.1" r="1.1"/><circle cx="191.7" cy="935.2" r="1"/></g>
</g>
<path d="M52.4 926.5V987.4M52.4 1027.6V1028.3M47.4 926.5H57.4M47.4 1028.3H57.4M64.4 1010.5V1015M64.4 1017.5V1021.3M59.4 1010.5H69.4M59.4 1021.3H69.4M76.4 975.5V1001.2M76.4 1017V1028.3M71.4 975.5H81.4M71.4 1028.3H81.4M88.4 944.1V987.9M88.4 1016.2V1028.3M83.4 944.1H93.4M83.4 1028.3H93.4M100.4 911V974.8M100.4 1016.7V1028.3M95.4 911H105.4M95.4 1028.3H105.4M112.4 886.1V962.9M112.4 1014.2V1028.3M107.4 886.1H117.4M107.4 1028.3H117.4M124.4 860.3V932.6M124.4 1010.5V1028.3M119.4 860.3H129.4M119.4 1028.3H129.4M136.4 847V917.2M136.4 998.7V1028.3M131.4 847H141.4M131.4 1028.3H141.4M148.4 879.6V912.2M148.4 934.4V968.2M143.4 879.6H153.4M143.4 968.2H153.4M160.4 899.6V910.6M160.4 917.3V928.1M155.4 899.6H165.4M155.4 928.1H165.4M172.4 874.6V895.3M172.4 908.8V930M167.4 874.6H177.4M167.4 930H177.4M184.4 871.3V885.5M184.4 894.5V908.2M179.4 871.3H189.4M179.4 908.2H189.4M196.4 859.8V874.5M196.4 883.2V897.2M191.4 859.8H201.4M191.4 897.2H201.4M208.4 853.2V863.2M208.4 870.2V880.3M203.4 853.2H213.4M203.4 880.3H213.4M220.4 843.6V852.4M220.4 858.9V865.2M215.4 843.6H225.4M215.4 865.2H225.4M232.4 832.3V841.3M232.4 847.3V853.1M227.4 832.3H237.4M227.4 853.1H237.4M244.4 825V830.5M244.4 835.5V841.1M239.4 825H249.4M239.4 841.1H249.4M256.4 809.1V816.7M256.4 821V828.5M251.4 809.1H261.4M251.4 828.5H261.4M268.4 804.6V807.9M268.4 813.4V817.4M263.4 804.6H273.4M263.4 817.4H273.4" stroke="#1e1e1e" stroke-width="0.78" fill="none"/>
<rect x="50.3" y="987.4" width="4.2" height="40.2" fill="#33b044" stroke="#1e7a30" stroke-width="0.6"/>
<rect x="62.3" y="1015" width="4.2" height="2.5" fill="#33b044" stroke="#1e7a30" stroke-width="0.6"/>
<rect x="74.3" y="1001.2" width="4.2" height="15.8" fill="#33b044" stroke="#1e7a30" stroke-width="0.6"/>
<rect x="86.3" y="987.9" width="4.2" height="28.3" fill="#33b044" stroke="#1e7a30" stroke-width="0.6"/>
<rect x="98.3" y="974.8" width="4.2" height="41.9" fill="#33b044" stroke="#1e7a30" stroke-width="0.6"/>
<rect x="110.3" y="962.9" width="4.2" height="51.3" fill="#33b044" stroke="#1e7a30" stroke-width="0.6"/>
<rect x="122.3" y="932.6" width="4.2" height="77.9" fill="#33b044" stroke="#1e7a30" stroke-width="0.6"/>
<rect x="134.3" y="917.2" width="4.2" height="81.5" fill="#33b044" stroke="#1e7a30" stroke-width="0.6"/>
<rect x="146.3" y="912.2" width="4.2" height="22.2" fill="#33b044" stroke="#1e7a30" stroke-width="0.6"/>
<rect x="158.3" y="910.6" width="4.2" height="6.7" fill="#33b044" stroke="#1e7a30" stroke-width="0.6"/>
<rect x="170.3" y="895.3" width="4.2" height="13.5" fill="#33b044" stroke="#1e7a30" stroke-width="0.6"/>
<rect x="182.3" y="885.5" width="4.2" height="9" fill="#33b044" stroke="#1e7a30" stroke-width="0.6"/>
<rect x="194.3" y="874.5" width="4.2" height="8.7" fill="#33b044" stroke="#1e7a30" stroke-width="0.6"/>
<rect x="206.3" y="863.2" width="4.2" height="7" fill="#33b044" stroke="#1e7a30" stroke-width="0.6"/>
<rect x="218.3" y="852.4" width="4.2" height="6.5" fill="#33b044" stroke="#1e7a30" stroke-width="0.6"/>
<rect x="230.3" y="841.3" width="4.2" height="6" fill="#33b044" stroke="#1e7a30" stroke-width="0.6"/>
<rect x="242.3" y="830.5" width="4.2" height="5" fill="#33b044" stroke="#1e7a30" stroke-width="0.6"/>
<rect x="254.3" y="816.7" width="4.2" height="4.3" fill="#33b044" stroke="#1e7a30" stroke-width="0.6"/>
<rect x="266.3" y="807.9" width="4.2" height="5.5" fill="#33b044" stroke="#1e7a30" stroke-width="0.6"/>
<path d="M50.3 1027H54.5M62.3 1015.5H66.5M74.3 1007H78.5M86.3 992.4H90.5M98.3 983.6H102.5M110.3 970.5H114.5M122.3 956.3H126.5M134.3 925H138.5M146.3 918.6H150.5M158.3 913.5H162.5M170.3 901H174.5M182.3 889.5H186.5M194.3 878.5H198.5M206.3 866.5H210.5M218.3 855.4H222.5M230.3 844.2H234.5M242.3 833H246.5M254.3 818.6H258.5M266.3 810.6H270.5" stroke="#0a1f0e" stroke-width="0.95" fill="none"/>
<g fill="none" stroke="#0a0a0a" stroke-width="0.85"><circle cx="52.4" cy="1002.4" r="1.2"/><circle cx="64.4" cy="1011.2" r="1.2"/><circle cx="76.4" cy="1002.9" r="1.2"/><circle cx="88.4" cy="994.4" r="1.2"/><circle cx="100.4" cy="986.1" r="1.2"/><circle cx="112.4" cy="978.1" r="1.2"/><circle cx="124.4" cy="967.2" r="1.2"/><circle cx="136.4" cy="953.8" r="1.2"/><circle cx="148.4" cy="936.6" r="1.2"/><circle cx="160.4" cy="919.2" r="1.2"/><circle cx="172.4" cy="903.4" r="1.2"/><circle cx="184.4" cy="890.4" r="1.2"/><circle cx="196.4" cy="879" r="1.2"/><circle cx="208.4" cy="866.9" r="1.2"/><circle cx="220.4" cy="855.6" r="1.2"/><circle cx="232.4" cy="844.3" r="1.2"/><circle cx="244.4" cy="833" r="1.2"/><circle cx="256.4" cy="818.4" r="1.2"/><circle cx="268.4" cy="810.4" r="1.2"/></g>
<path d="M33.7 1042.4L333.8 740.1" stroke="#1a1a1a" stroke-width="1.05" fill="none"/>
<path d="M33.7 740.1V1042.4H333.8V740.1" stroke="#4a4a4a" stroke-width="1.1" fill="none"/>
<path d="M33.7 740.1H333.8" stroke="#4a4a4a" stroke-width="1.1" fill="none"/>
<path d="M35.2 1042.4v-2.5M33.7 1041h2.5M38.8 1042.4v-2.5M33.7 1037.3h2.5M42 1042.4v-2.5M33.7 1034.1h2.5M44.8 1042.4v-2.5M33.7 1031.3h2.5M47.3 1044.8v-8.7M31.3 1028.8h8.7M63.8 1042.4v-2.5M33.7 1012.2h2.5M73.4 1042.4v-2.5M33.7 1002.5h2.5M80.2 1042.4v-2.5M33.7 995.6h2.5M85.5 1042.4v-4.2M33.7 990.3h4.2M89.9 1042.4v-2.5M33.7 985.9h2.5M93.5 1042.4v-2.5M33.7 982.3h2.5M96.7 1042.4v-2.5M33.7 979.1h2.5M99.5 1042.4v-2.5M33.7 976.2h2.5M102 1044.8v-8.7M31.3 973.7h8.7M118.5 1042.4v-2.5M33.7 957.2h2.5M128.1 1042.4v-2.5M33.7 947.5h2.5M134.9 1042.4v-2.5M33.7 940.6h2.5M140.2 1042.4v-4.2M33.7 935.2h4.2M144.6 1042.4v-2.5M33.7 930.9h2.5M148.2 1042.4v-2.5M33.7 927.2h2.5M151.4 1042.4v-2.5M33.7 924h2.5M154.2 1042.4v-2.5M33.7 921.2h2.5M156.7 1044.8v-8.7M31.3 918.7h8.7M173.2 1042.4v-2.5M33.7 902.1h2.5M182.8 1042.4v-2.5M33.7 892.4h2.5M189.6 1042.4v-2.5M33.7 885.5h2.5M194.9 1042.4v-4.2M33.7 880.2h4.2M199.3 1042.4v-2.5M33.7 875.8h2.5M202.9 1042.4v-2.5M33.7 872.1h2.5M206.1 1042.4v-2.5M33.7 868.9h2.5M208.9 1042.4v-2.5M33.7 866.1h2.5M211.4 1044.8v-8.7M31.3 863.6h8.7M227.9 1042.4v-2.5M33.7 847h2.5M237.5 1042.4v-2.5M33.7 837.3h2.5M244.3 1042.4v-2.5M33.7 830.4h2.5M249.6 1042.4v-4.2M33.7 825.1h4.2M254 1042.4v-2.5M33.7 820.7h2.5M257.6 1042.4v-2.5M33.7 817.1h2.5M260.8 1042.4v-2.5M33.7 813.9h2.5M263.6 1042.4v-2.5M33.7 811h2.5M266.1 1044.8v-8.7M31.3 808.5h8.7M282.6 1042.4v-2.5M33.7 791.9h2.5M292.2 1042.4v-2.5M33.7 782.2h2.5M299 1042.4v-2.5M33.7 775.4h2.5M304.3 1042.4v-4.2M33.7 770h4.2M308.7 1042.4v-2.5M33.7 765.7h2.5M312.3 1042.4v-2.5M33.7 762h2.5M315.5 1042.4v-2.5M33.7 758.8h2.5M318.3 1042.4v-2.5M33.7 756h2.5M320.8 1044.8v-8.7M31.3 753.4h8.7" stroke="#333" stroke-width="1.15" fill="none"/>
<text class="tk" x="47.6" y="1058.4" text-anchor="middle">10<tspan class="sp" dy="-5.1">0</tspan></text>
<text class="tk" x="29.3" y="1034.4" text-anchor="end">10<tspan class="sp" dy="-5.1">0</tspan></text>
<text class="tk" x="102.3" y="1058.4" text-anchor="middle">10<tspan class="sp" dy="-5.1">1</tspan></text>
<text class="tk" x="29.3" y="979.3" text-anchor="end">10<tspan class="sp" dy="-5.1">1</tspan></text>
<text class="tk" x="157" y="1058.4" text-anchor="middle">10<tspan class="sp" dy="-5.1">2</tspan></text>
<text class="tk" x="29.3" y="924.3" text-anchor="end">10<tspan class="sp" dy="-5.1">2</tspan></text>
<text class="tk" x="211.7" y="1058.4" text-anchor="middle">10<tspan class="sp" dy="-5.1">3</tspan></text>
<text class="tk" x="29.3" y="869.2" text-anchor="end">10<tspan class="sp" dy="-5.1">3</tspan></text>
<text class="tk" x="266.4" y="1058.4" text-anchor="middle">10<tspan class="sp" dy="-5.1">4</tspan></text>
<text class="tk" x="29.3" y="814.1" text-anchor="end">10<tspan class="sp" dy="-5.1">4</tspan></text>
<text class="tk" x="321.1" y="1058.4" text-anchor="middle">10<tspan class="sp" dy="-5.1">5</tspan></text>
<text class="tk" x="29.3" y="759" text-anchor="end">10<tspan class="sp" dy="-5.1">5</tspan></text>
<text class="ax" x="182.3" y="1070.9" text-anchor="middle">Actual passenger flow</text>
<text class="ax" transform="translate(8.8 891.5) rotate(-90)" text-anchor="middle">Passenger flow obtained from modified radiation model</text>
<text class="pl" x="167.5" y="1098" text-anchor="middle">(e)</text>
</g>
<g id="panel-f">
<clipPath id="clf"><rect x="384.2" y="740.1" width="300.1" height="302.3"/></clipPath>
<path d="M397.8 740.1V1042.4M384.2 1028.8H684.3M452.5 740.1V1042.4M384.2 973.7H684.3M507.2 740.1V1042.4M384.2 918.7H684.3M561.9 740.1V1042.4M384.2 863.6H684.3M616.6 740.1V1042.4M384.2 808.5H684.3M671.3 740.1V1042.4M384.2 753.4H684.3" stroke="#dedede" stroke-width="1.1" fill="none"/>
<g clip-path="url(#clf)">
<path d="M450.5 1028.5L449.9 1025.7L449.9 1022.9L450.7 1019.3L450.7 1016.6L449.7 1013.5L450.7 1010.5L451.2 1007.8L450.3 1003.9L449.8 1001.9L450.8 998.6L450.4 995.4L450 992.4L449.9 989.6L450.7 986.6L450 982.6L450.2 980.6L450.5 977.7L450.4 974.1L451.2 970.7L450 968.4L450.7 965.1L450.6 962.1L450.8 959.9L451.1 956.4L450.4 954L450.4 950.4L451.2 947.5L450.3 944.6L450.7 941.9L450.7 938.2L451.4 935.2L450.3 932.9L451.3 928.5L449.7 926.7L451.2 922.8L450.1 920.4L451.3 916.5L450.4 914.3L450 910.8L453.4 909.4L457.1 907L459.6 905L461.3 902.9L464.2 900.9L467.1 898.8L468.6 896.4L471.1 895.4L475.2 891.4L480.6 888.6L482.4 886.8L485.3 883.8L487.1 881.4L491.1 879.6L494 878.3L497.7 874.8L499.6 871.9L503.7 870.4L508.4 868.7L512 866.5L515.5 863.5L519.6 860.9L523.1 859.5L527 855.8L529.4 854.8L533 851.4L537.4 848.9L541.5 847.5L544.2 843.8L548.9 842.2L551.3 839.4L554.5 838.4L558.6 836.5L563.5 834.6L567.2 832L570.5 831.1L574.5 827.6L577.4 826.4L581.2 824L584.2 823.3L589 821.4L592.8 819.7L594.8 818.5L598.6 817.2L603.3 814.8L606 813.1L609.6 813.3L612.6 811.6L615.3 809.2L618.9 807.7L622.7 805.9L626 804.9L624.8 809.8L623.3 812.9L618.8 815.3L612.7 819.5L612.2 820.6L609.1 824.6L607.6 826.9L605.1 829.2L602.2 830.6L601.6 832.8L598.7 835.1L596.5 837.9L595.4 839L591.1 843.1L588.8 846.2L586.6 848.8L584.8 850.8L581.6 852.3L580.6 856.2L578.6 857.7L576.2 861.5L573.4 863L571.4 866.5L570.5 870.7L568.9 873.5L565.4 877.9L560.6 881.6L557.4 884L553.4 886.4L549.8 888.6L548.1 889.1L547.6 892.9L545.7 897.5L545.3 899.7L544.6 903.7L543.1 906.8L542.2 909.1L542.1 912.8L542.4 915.5L540.6 917.7L540.9 920.9L540 925.2L538.7 928.5L539.6 932.3L539 935.8L537.1 940.3L537.1 944.4L538 947.3L537.5 951.8L538.2 956.5L538.7 960.2L538.2 963.9L539.1 967.4L539.1 971.8L540.7 974.9L540.2 978.7L540.8 983L540.8 987.4L541.7 991.6L542 995.3L543.9 998.1L543.3 1003.4L543.8 1006.2L543.9 1011L544.7 1015L546.6 1017.1L548.9 1021.7L550.2 1024.9L551.5 1028.5L548.4 1028.5L545.4 1028.5L542.3 1028.5L539.3 1028.5L536.2 1028.5L533.1 1028.5L530.1 1028.5L527 1028.5L524 1028.5L520.9 1028.5L517.8 1028.5L514.8 1028.5L511.7 1028.5L508.7 1028.5L505.6 1028.5L502.5 1028.5L499.5 1028.5L496.4 1028.5L493.3 1028.5L490.3 1028.5L487.2 1028.5L484.2 1028.5L481.1 1028.5L478 1028.5L475 1028.5L471.9 1028.5L468.9 1028.5L465.8 1028.5L462.7 1028.5L459.7 1028.5L456.6 1028.5L453.6 1028.5Z" fill="#bfbfbf" stroke="#bfbfbf" stroke-width="1.6" stroke-linejoin="round"/>
<path d="M397.8 911V1028.2M414.3 911V1028.2M423.9 911V1028.2M430.7 911V1028.2M436 911V1028.2M440.4 911V1028.2" stroke="#bfbfbf" stroke-width="2.4" stroke-linecap="round" fill="none"/>
<path d="M444 911V1028.2M447.2 910.5V1028.2M450 910.5V1028.2" stroke="#bfbfbf" stroke-width="2.1" stroke-linecap="round" fill="none"/>
<path d="M397.8 900.5h0M397.8 908.8h0M397.8 874.3h0M397.8 876.6h0M397.8 900.9h0M397.8 885.3h0M397.8 910.4h0M397.8 904h0M397.8 890.2h0M397.8 872.3h0M397.8 894.3h0M397.8 893.8h0M397.8 892.9h0M397.8 901.6h0M397.8 888.1h0M397.8 906.5h0M397.8 893.5h0M397.8 872.3h0M397.8 903.4h0M397.8 872.8h0M397.8 907h0M397.8 907.9h0M397.8 862h0M414.3 879.5h0M414.3 879.7h0M414.3 900.1h0M414.3 890.6h0M414.3 887.2h0M414.3 901.9h0M414.3 885.6h0M414.3 876.4h0M414.3 894.3h0M414.3 906.6h0M414.3 909.6h0M414.3 875.2h0M414.3 901.7h0M414.3 885.1h0M414.3 869h0M423.9 910.1h0M423.9 891.5h0M423.9 880.6h0M423.9 889.4h0M423.9 895.7h0M423.9 883.6h0M423.9 903.9h0M423.9 889.3h0M423.9 903.1h0M423.9 885.8h0M423.9 894.9h0M423.9 900.4h0M423.9 875.5h0M430.7 881.5h0M430.7 884.9h0M430.7 905.5h0M430.7 889.1h0M430.7 887.3h0M430.7 897.6h0M430.7 900.2h0M430.7 906.3h0M430.7 895.6h0M430.7 906h0M430.7 907.3h0M430.7 908.5h0M430.7 908.2h0M430.7 900.3h0M430.7 871h0M436 904h0M436 896.4h0M436 888.4h0M436 909.2h0M436 897h0M436 895h0M436 900.4h0M436 905.4h0M436 907.1h0M436 888.7h0M436 884.5h0M440.4 907.8h0M440.4 910.1h0M440.4 910.7h0M440.4 910.2h0M440.4 904.6h0M440.4 909.4h0M440.4 904.9h0M440.4 908.8h0M440.4 894h0M444 910.8h0M444 896h0M444 889h0M444 905.3h0M444 909.6h0M444 908.8h0M444 898.3h0M444 897.9h0M444 889h0M444 907.6h0M444 893.3h0M444 884.5h0M447.2 895.5h0M447.2 895.1h0M447.2 909.4h0M447.2 901h0M447.2 907.3h0M447.2 894.4h0M447.2 902.2h0M447.2 906.5h0M447.2 906.9h0M447.2 892.5h0M450 898.8h0M450 903.3h0M450 908h0M450 909.4h0M450 897.1h0M450 904.9h0M450 909h0M450 905.3h0M450 907.6h0M450 895h0M507.4 860.9h0M494.1 874.5h0M454.1 873.3h0M515.9 858.7h0M552.8 836.3h0M528.8 848.7h0M546.5 900.5h0M555.8 895h0M514.8 863.4h0M482.3 865.7h0M546.1 912.6h0M551.3 909.4h0M480.7 876.4h0M559 828.8h0M506.2 858.8h0M481.8 877.4h0M537.4 839.5h0M497.3 873.6h0M464.1 895.2h0M564.6 884.7h0M551.4 911.8h0M532.5 851h0M465 895.2h0M552.8 897.4h0M481.7 876.6h0M467.1 883h0M553.6 899.1h0M549.3 897.5h0M448.3 906.8h0M544.9 908.4h0M480.9 866.6h0M456.6 906.8h0M504.1 859.8h0M450.5 890.7h0M565.1 889.3h0M530.2 842.8h0M553.9 902h0M549.7 896.6h0M523.3 855.4h0M575.6 883.2h0M546.3 899.4h0M556.3 911.5h0M455.1 901.8h0M541.8 844.5h0M467.7 882.2h0M559.1 906.6h0M463.1 890h0M488.4 873h0M468.7 891.4h0M558.1 825.5h0M478.3 878h0M551.8 906.6h0M555.7 891.8h0M507.9 857.5h0M506.4 857.2h0M554.1 835.7h0M550.4 833.3h0M557 891.9h0M555.7 897.6h0M558.6 832.9h0M547.7 837.5h0M517.7 857.4h0M569.1 918.7h0M551.3 909.2h0M469.3 896.6h0M551 891.3h0M480.9 887.3h0M478.4 883.3h0M554 896.1h0M464.2 890.5h0M537.6 839.1h0M520.9 841.1h0M553.5 831.9h0M549.2 909.5h0M515.9 857.5h0M478.5 879h0M554.4 836.6h0M453.8 900.2h0M494.4 864.2h0M461.2 889.9h0M554.6 902.8h0M450.8 899.4h0M493.6 868.5h0M538.3 842.4h0M557 827.5h0M509.3 862h0M541.6 840.1h0M524.2 846h0M558.2 829.7h0M553.2 903.7h0M528.8 844.2h0M478.1 878.6h0M496.9 868.8h0M460 900.5h0M449 904h0M457 906h0M464.5 890.3h0M501.5 859.4h0M560 832.4h0M551.9 908.7h0M454.2 906.7h0M454.6 900h0M458.6 900.2h0M553.4 898.2h0M481.3 881.1h0M522.6 838.3h0M535.5 849.2h0M458 897.4h0M468.6 894.4h0M474.2 890.8h0M521.8 847.6h0M545.6 906.9h0M555.7 888.4h0M546.5 911.4h0M453.6 896.3h0M471.9 887h0M547.8 909.6h0M555.5 893.8h0M440.8 889.6h0M547.5 909.1h0M492.7 864h0M565.7 888.4h0M551.2 899.1h0M454.5 902.1h0M464.9 897.8h0M548.7 891.2h0M467.2 897.6h0M544.6 843h0M480.2 876.5h0M552 891.4h0M491.2 876.9h0M468.9 862.9h0M511.5 855h0M552.6 835.2h0M473.4 882.9h0M559.2 885.6h0M456.9 892.8h0M481.8 882.4h0M554.8 892.6h0M555.3 887.2h0M486.7 875.6h0M535.1 842.6h0M499.2 869.1h0M550.5 914.1h0M494.3 865.4h0M493.7 866.3h0M551.2 891.7h0M469 887.9h0M552.5 915.2h0M542.6 841.8h0M517.4 849.9h0M544.2 833.8h0M453 906.1h0M551.9 832h0M544.5 913.8h0M548.1 901.4h0M533.7 824.9h0M560.2 893h0M545.1 903.2h0M554.3 906.9h0M494.4 867.8h0M547.9 820h0M452.3 900.5h0M544.7 912.6h0M525.4 852.7h0M477.1 885.5h0M560.4 835.4h0M550.4 839h0M546.5 819.6h0M509.3 863.1h0M466.9 889.5h0M545.4 833.2h0M554.7 901.3h0M485.3 880h0M453.2 902.5h0M514.3 863.1h0M555.8 888.9h0M480.8 880.4h0M553.9 889.8h0M550.3 914.4h0M551.9 828.7h0M496.5 872.5h0M469.9 882.8h0M507.3 860.6h0M538.4 835.8h0M498.4 866.2h0M494.1 875.6h0M452.9 898.6h0M482.6 878.9h0M465.9 898.7h0M549 913.3h0M551.4 832.2h0M463.5 895.8h0M468.1 888.6h0M469.7 894.9h0M448.9 907.3h0M500.3 871.5h0M517.5 862.3h0M547.5 910.9h0M488.1 873.8h0M548.6 836.2h0M489.1 878.3h0M479.3 885.6h0M556.2 887.9h0M513.2 859h0M496.3 870h0M478.8 872.4h0M541.5 842.7h0M469.5 892h0M459.7 897.1h0M487.6 876.9h0M453.9 901.5h0M548.7 905.7h0M543 841.9h0M506 861.3h0M503.9 859.2h0M503 866h0M559.4 830.8h0M522.1 851.4h0M522.7 847.4h0M544.9 909.2h0M448.8 904.2h0M454.5 902h0M460.1 901.2h0M471.8 887.3h0M519.9 839.9h0M515.5 855.3h0M491.7 861.4h0M523.5 847.3h0M479.7 877.3h0M490.2 875.7h0M525.7 855.5h0M552.8 894.3h0M512.4 858.9h0M473.5 888.3h0M537.1 839.6h0M545.5 907.3h0M508.9 840.5h0M596.5 814.9h0M579.6 822.5h0M580.3 823.2h0M593.3 816.4h0M568.1 827h0M572.4 827.7h0M591.9 819.2h0M571.3 828.1h0M571.3 830h0M598 838.8h0M600.3 840.4h0M596.6 838.4h0M590.4 817.6h0M583.7 816.4h0M586.3 819.9h0M601.5 814.6h0M600.1 814.9h0M610.8 809.8h0M595.6 817.6h0M615.5 808.5h0M606.7 812.5h0M616.4 808.3h0M614.3 819.3h0M627.5 814.3h0M612 809.6h0M609.8 810.8h0M606.5 813.5h0M616.2 820.9h0M617.2 807.2h0M588.3 819h0M609.3 824.8h0M599.6 836.6h0M590.6 845.8h0M564.4 877.2h0M588.4 845.5h0M619.6 807.6h0M568.1 873.3h0M574.6 865.8h0M565.3 880.1h0M574.7 865.4h0M612.6 811.9h0M608.2 826.7h0M588.2 846.6h0M614.1 809.2h0M584.7 821.4h0M603.2 815.3h0M626.3 810.2h0M606.4 829.1h0M588.2 848.9h0M609 827.3h0M618.8 806.8h0M625.4 810.6h0M613.2 821.3h0M584.7 852.4h0M593.9 817.4h0M542.9 935.9h0M547.2 926.9h0M550.8 898.3h0M562.2 951.6h0M551.3 1023.3h0M547.9 975.2h0M543.5 941.2h0M552 1017.5h0M537.9 956h0M542.6 993.3h0M553.6 892.3h0M551.9 891.6h0M551.4 1006.9h0M540.4 969.8h0M548.8 923.1h0M540.1 963.9h0M550.7 1024h0M551.2 947.3h0M546.6 957h0M545 907.4h0M549.1 1021.5h0M549.8 952h0M539.6 946h0M553.9 1012.9h0M542.6 967.5h0M545.9 916.8h0M545.6 931.6h0M555 1019.1h0M537.9 960h0M548.5 952.2h0M541.9 972.8h0M540.7 938.9h0M550.4 912h0M540.4 925.3h0M551.8 892.8h0M553.8 891.8h0M548.4 969.2h0M542.3 967h0M552.6 1012.9h0M541.9 916.6h0M548.4 980.3h0M548.5 1013.1h0M558.9 902.1h0M539.2 941.6h0M550.3 983.4h0M548.2 1003h0M550.5 955.9h0M555.2 1026.8h0M549.7 920h0M544.9 977h0M549.3 899.8h0M547.7 926.1h0M544.4 949.2h0M548.4 921h0M550.8 911.2h0M549.3 966.4h0M549.3 917.6h0M542.5 915.6h0M544.1 986h0M548 1003.9h0M552.6 1015.5h0M548.2 924.9h0M540.3 953h0M542.7 940.2h0M555.7 963.5h0M545.2 987.7h0M554.1 893h0M554.4 893.8h0M540.3 941.3h0M556.2 1020.2h0M558.7 1021h0M542.5 960.9h0M546.7 972.5h0M551.7 994.2h0M543.3 944.3h0M546.7 909.4h0M545.9 987.1h0M546.3 924.2h0M540.8 971.3h0M537.3 957.8h0M551.6 1014.5h0M538.8 934.8h0M548.4 1004.6h0M545.3 957.5h0M541.2 923h0M558 890.9h0M551.5 909.3h0M544.1 921.6h0M549.5 893.1h0M541.7 920.2h0M539.9 953.3h0M544.1 944.5h0M548.3 1012.5h0M545.5 935.4h0M544.4 959.6h0M552.8 905.6h0M540.1 952.4h0M541.7 936.1h0M544.2 916.7h0M551.3 1004h0M542.4 920h0M544.6 926.8h0M551.1 945.7h0M542.7 945.7h0M553.6 916.8h0M553.9 960.8h0M550.2 916.3h0M551.2 892.4h0M545.9 999.1h0M553.5 891.5h0M545.8 982.3h0M548.9 991.5h0M551.1 912.8h0M567.2 1005.3h0M541 984.4h0M550.7 890.6h0M549.9 983.6h0M551.6 1013.1h0M538.7 960h0M556.9 911.9h0M546.8 1001.5h0M547.1 971.8h0M556.2 976.7h0M561.1 885.8h0M551.3 936.6h0M550 1023.9h0M542.2 951.4h0M545 909.5h0M552.1 891.3h0M559.2 892.7h0M539.5 964.3h0M544.2 927.1h0M546.9 947.7h0M546.6 925.7h0M557.6 884.5h0M550.9 1008h0M552.7 894.1h0M547.1 948.3h0M544.1 914.1h0M539.8 941.8h0M548.1 921h0M546.8 982.4h0M553.4 992.2h0M549 1007.3h0M549.1 895.8h0M542 956.2h0M559.5 890.7h0M556 1019.9h0M542.4 953.8h0M554.6 1009.4h0M558.7 1019.8h0M540.5 968.6h0M552.6 891.5h0M545.6 912.4h0M559 962.8h0M546.2 954.4h0M549.2 916.7h0M539.9 953.3h0M544.9 926h0M544.8 955.9h0M550.9 935.4h0M549.9 913.9h0M544.7 996.9h0M540.6 952.6h0M554.8 896.6h0M547 907.5h0M551.3 904.3h0M548.8 1015.5h0M542.6 922h0M544 977.2h0M552.2 1024.9h0M541.4 923h0M552 1019.2h0M547.6 911.4h0M547.9 917.2h0M540.2 959h0M560 885.9h0M544.4 955.3h0M543.7 969.9h0M553 1016.7h0M544.6 945h0M542.3 922.1h0M547.7 917.6h0M550.8 1007.1h0M539.1 949.4h0M557.7 889.8h0M555.7 984.2h0M544.5 967.4h0M543.6 942.7h0M546.3 1004.8h0M546.1 998.2h0M551.7 891.6h0M546.6 906.6h0M547.9 966.8h0M542.6 920.7h0M550.1 1019.6h0M541.7 984.5h0M551.1 1025.1h0M561.5 920.2h0M539.2 925.3h0M553.5 895.2h0M545.8 914.8h0M556.8 1021.8h0M550.8 903.8h0M560.8 884.8h0M543.5 975.8h0M553.9 950.9h0M540.5 920h0M546.5 978h0M550.5 911.8h0M551.9 1023.5h0M551.9 1000.3h0M537.6 957.3h0M553.2 892.1h0M546.1 966.1h0M539.9 966.9h0M544.9 971.9h0M543.4 980.9h0M549.5 911h0M547.3 960.3h0M543.6 995.9h0M550.9 1002.1h0M539.9 924.3h0M542.9 942h0M551 920.6h0M552.3 887.1h0M548.4 912.9h0M549.7 899h0M542.7 965.2h0M546.3 910.4h0M555.6 990.1h0M558.1 959.2h0M549.8 979h0M541.8 929.2h0M548.5 899.7h0M560.4 892.5h0M554.7 1013.8h0M541.6 967.5h0M562.3 888.7h0M544.7 938.9h0M540.4 966h0M551.6 976.3h0M547.1 926h0M544.2 970.8h0M550.6 889.3h0M544.5 1003.8h0M545.1 995.5h0M554 892.2h0M548.4 930.4h0M545.9 935.3h0M544.1 954.8h0M541 929.6h0M549.9 914.3h0M543.7 950.9h0M542.6 933.9h0M551.8 1024.2h0M553.5 1016.3h0M544.2 925.4h0M542 960h0M555.7 1021.7h0M555 1004.3h0M456.5 872.5h0M458.5 882h0M482.5 865h0M510.7 844h0M563.5 901.5h0M572.2 909.5h0M568.5 883.5h0M566.5 886h0M558.5 893h0M563.5 901.5h0M568 985.5h0M568 1004.5h0M566.5 1018.5h0M565.5 1028.3h0M572 909.5h0M564 901.8h0M562 937h0M560.5 933.5h0" stroke="#b8b8b8" stroke-width="2.65" stroke-linecap="round" fill="none"/>
<g fill="#fff"><circle cx="543.8" cy="1011.1" r="0.7"/><circle cx="538.6" cy="926.5" r="0.7"/><circle cx="544.6" cy="894.9" r="1"/><circle cx="536.7" cy="908.2" r="1.3"/><circle cx="541.1" cy="907.8" r="1"/><circle cx="533" cy="963.5" r="0.7"/><circle cx="536.7" cy="924.4" r="1.2"/><circle cx="543.8" cy="1014.1" r="0.8"/><circle cx="537.7" cy="921.9" r="1.1"/><circle cx="536.5" cy="960.2" r="1.2"/><circle cx="536.7" cy="942" r="0.7"/><circle cx="549" cy="888.2" r="1.1"/><circle cx="540.7" cy="913.4" r="0.7"/><circle cx="552.3" cy="885.6" r="1"/><circle cx="537.9" cy="928.4" r="1.1"/><circle cx="535.4" cy="953" r="1.2"/><circle cx="537.8" cy="967.5" r="0.7"/><circle cx="542" cy="998.8" r="1.3"/><circle cx="538.4" cy="991.4" r="0.7"/><circle cx="548.6" cy="1029.2" r="0.6"/><circle cx="534.4" cy="963.7" r="0.7"/><circle cx="538.5" cy="999.6" r="0.9"/><circle cx="538.8" cy="911.7" r="1.3"/><circle cx="541.2" cy="911.6" r="1.3"/><circle cx="544.9" cy="883.6" r="0.7"/><circle cx="535" cy="961.5" r="0.7"/><circle cx="537.7" cy="927.2" r="0.7"/><circle cx="533.6" cy="968.5" r="0.9"/><circle cx="538.9" cy="912" r="1.3"/><circle cx="537" cy="942.2" r="0.8"/><circle cx="537.2" cy="966.5" r="1"/><circle cx="535.8" cy="947.3" r="0.8"/><circle cx="545.2" cy="896.1" r="1.2"/><circle cx="538.9" cy="920.9" r="1.1"/><circle cx="538.9" cy="974.9" r="0.7"/><circle cx="532.7" cy="977.6" r="1"/><circle cx="538.7" cy="993.6" r="0.7"/><circle cx="536.2" cy="917.9" r="0.6"/><circle cx="545.3" cy="1017.6" r="0.9"/><circle cx="541.6" cy="994.3" r="1"/><circle cx="544.3" cy="895.6" r="1"/><circle cx="545.9" cy="897.8" r="0.8"/><circle cx="542.3" cy="909.6" r="1.2"/><circle cx="541.1" cy="1009.8" r="1"/><circle cx="543.1" cy="895.9" r="0.7"/><circle cx="546.4" cy="1018.7" r="0.9"/><circle cx="530.2" cy="953.4" r="1"/><circle cx="539.9" cy="1000" r="1"/><circle cx="532.9" cy="974.5" r="1.1"/><circle cx="531.7" cy="947.1" r="1.1"/><circle cx="538.4" cy="976.1" r="0.8"/><circle cx="537.7" cy="991.4" r="0.6"/><circle cx="538.3" cy="919.6" r="1"/><circle cx="539.6" cy="906.8" r="0.8"/><circle cx="547.1" cy="1029.9" r="0.7"/><circle cx="536.3" cy="933.2" r="1"/><circle cx="542.7" cy="890.5" r="1.2"/><circle cx="538.9" cy="919.2" r="0.8"/><circle cx="544.1" cy="1012.3" r="1.2"/><circle cx="549.5" cy="1026.5" r="0.8"/><circle cx="545.1" cy="901.3" r="0.8"/><circle cx="537.7" cy="958.2" r="0.6"/><circle cx="545.9" cy="890.6" r="1.2"/><circle cx="535.8" cy="929.2" r="1.2"/><circle cx="536.3" cy="916.6" r="1.2"/><circle cx="546.2" cy="1022.2" r="0.9"/><circle cx="550.6" cy="1027.6" r="0.8"/><circle cx="543.5" cy="893.4" r="1"/><circle cx="545.3" cy="891.9" r="1.1"/><circle cx="538" cy="970.3" r="0.9"/><circle cx="545.1" cy="884.9" r="1.1"/><circle cx="538.8" cy="995.5" r="1.1"/><circle cx="541.4" cy="1010.4" r="1.2"/><circle cx="539.3" cy="984.6" r="0.7"/><circle cx="535.4" cy="977.3" r="1.2"/><circle cx="548.7" cy="887.3" r="1"/><circle cx="535.8" cy="927.3" r="0.7"/><circle cx="541.8" cy="1003" r="0.8"/><circle cx="542.9" cy="898.2" r="0.6"/><circle cx="544.5" cy="903.9" r="1.1"/><circle cx="534.1" cy="958.2" r="1.1"/><circle cx="533.4" cy="938" r="1.1"/><circle cx="540" cy="1007.9" r="1.3"/><circle cx="539.4" cy="907.6" r="0.9"/><circle cx="546.3" cy="1024.7" r="0.8"/><circle cx="536.2" cy="941.4" r="1.3"/><circle cx="543.5" cy="1017.7" r="1.2"/><circle cx="538.3" cy="996.8" r="1.1"/><circle cx="548.5" cy="1028.3" r="0.9"/><circle cx="533.4" cy="976.6" r="1.2"/><circle cx="534.9" cy="963" r="0.8"/><circle cx="536.1" cy="963" r="0.8"/><circle cx="538.6" cy="912.7" r="1.3"/><circle cx="540.7" cy="918.1" r="0.7"/><circle cx="535.6" cy="981.6" r="1"/><circle cx="539.8" cy="901.8" r="0.6"/><circle cx="540.8" cy="903.6" r="1"/><circle cx="540.4" cy="907.4" r="1"/><circle cx="534.2" cy="947.1" r="0.8"/><circle cx="541.9" cy="911.7" r="1.1"/><circle cx="540.4" cy="915.8" r="1.1"/><circle cx="537.6" cy="927.9" r="0.9"/><circle cx="548.5" cy="1028.8" r="1.3"/><circle cx="540.9" cy="917.7" r="1"/><circle cx="549.1" cy="1023.9" r="1.3"/><circle cx="548.7" cy="1025" r="1.1"/><circle cx="534.9" cy="926.7" r="0.9"/><circle cx="543.3" cy="1001.4" r="0.9"/><circle cx="537.1" cy="977.8" r="0.7"/><circle cx="531.5" cy="945.4" r="1.3"/><circle cx="535.8" cy="989.2" r="1.1"/><circle cx="532.4" cy="960.2" r="1.1"/><circle cx="539.1" cy="905.5" r="1.1"/><circle cx="537.1" cy="932.3" r="1.2"/><circle cx="543.4" cy="887.4" r="0.8"/><circle cx="543.5" cy="1017.6" r="1.2"/><circle cx="541.8" cy="901.6" r="0.8"/><circle cx="533.4" cy="926.6" r="0.9"/><circle cx="534.6" cy="954" r="1.2"/><circle cx="536.7" cy="919.4" r="1"/><circle cx="550.3" cy="883.4" r="1.1"/><circle cx="537.1" cy="930.8" r="0.7"/><circle cx="536.9" cy="994.7" r="0.9"/><circle cx="537.8" cy="981.3" r="0.9"/><circle cx="548.3" cy="887.6" r="0.7"/><circle cx="540.9" cy="910.9" r="1.1"/><circle cx="547.3" cy="1029.8" r="0.8"/><circle cx="540.3" cy="1021.3" r="1.2"/><circle cx="551.1" cy="887.1" r="0.8"/><circle cx="531" cy="941.5" r="1.2"/><circle cx="548.2" cy="1022.1" r="0.9"/><circle cx="536.1" cy="933.9" r="0.9"/><circle cx="536.7" cy="969.2" r="0.9"/><circle cx="546.2" cy="1029" r="1.3"/><circle cx="541.8" cy="905.5" r="0.9"/><circle cx="543.5" cy="896.9" r="0.9"/><circle cx="536.8" cy="938" r="1.3"/><circle cx="546.9" cy="1022.3" r="1.2"/><circle cx="538.2" cy="965" r="0.9"/><circle cx="546.1" cy="1025.1" r="0.9"/><circle cx="547.9" cy="1026.5" r="0.8"/><circle cx="543.2" cy="1017.1" r="1"/><circle cx="543.1" cy="1013.9" r="1.1"/><circle cx="545.2" cy="901.3" r="1"/><circle cx="544.5" cy="1028.1" r="1.3"/><circle cx="538.6" cy="1005.8" r="1.1"/><circle cx="544.6" cy="897.9" r="0.8"/><circle cx="537.8" cy="979" r="0.7"/><circle cx="546.6" cy="890.8" r="0.6"/><circle cx="537.4" cy="930.5" r="1"/></g>
</g>
<path d="M403.6 938.5V988.5M403.6 1023.2V1028.2M398.6 938.5H408.6M398.6 1028.2H408.6M415.6 973.4V1001.3M415.6 1020.2V1028.2M410.6 973.4H420.6M410.6 1028.2H420.6M427.6 977.9V996.8M427.6 1013.6V1028.2M422.6 977.9H432.6M422.6 1028.2H432.6M439.6 954.6V989.7M439.6 1014.4V1028.2M434.6 954.6H444.6M434.6 1028.2H444.6M451.6 926.4V977.9M451.6 1011.4V1028.2M446.6 926.4H456.6M446.6 1028.2H456.6M463.6 862.4V942M463.6 1009.3V1028.2M458.6 862.4H468.6M458.6 1028.2H468.6M475.6 875.2V924.4M475.6 1003.1V1028.2M470.6 875.2H480.6M470.6 1028.2H480.6M487.6 860.7V915.9M487.6 979.7V1028.2M482.6 860.7H492.6M482.6 1028.2H492.6M499.6 890.3V914.4M499.6 929.7V953.3M494.6 890.3H504.6M494.6 953.3H504.6M511.6 904.2V912.6M511.6 917.6V923.9M506.6 904.2H516.6M506.6 923.9H516.6M523.6 882V897.1M523.6 907.1V920.9M518.6 882H528.6M518.6 920.9H528.6M535.6 873.7V887M535.6 897.1V911.2M530.6 873.7H540.6M530.6 911.2H540.6M547.6 865.7V876.2M547.6 883.8V893.8M542.6 865.7H552.6M542.6 893.8H552.6M559.6 855.1V864.9M559.6 872.5V880.3M554.6 855.1H564.6M554.6 880.3H564.6M571.6 845.6V854.9M571.6 861.9V868.2M566.6 845.6H576.6M566.6 868.2H576.6M583.6 832.5V842.3M583.6 848.8V856.1M578.6 832.5H588.6M578.6 856.1H588.6M595.6 821.2V831M595.6 837.3V844.3M590.6 821.2H600.6M590.6 844.3H600.6M607.6 809.6V816.7M607.6 822.5V831.3M602.6 809.6H612.6M602.6 831.3H612.6M619.6 805.4V808.6M619.6 814.9V818.4M614.6 805.4H624.6M614.6 818.4H624.6" stroke="#1e1e1e" stroke-width="0.78" fill="none"/>
<rect x="401.5" y="988.5" width="4.2" height="34.7" fill="#33b044" stroke="#1e7a30" stroke-width="0.6"/>
<rect x="413.5" y="1001.3" width="4.2" height="18.9" fill="#33b044" stroke="#1e7a30" stroke-width="0.6"/>
<rect x="425.5" y="996.8" width="4.2" height="16.8" fill="#33b044" stroke="#1e7a30" stroke-width="0.6"/>
<rect x="437.5" y="989.7" width="4.2" height="24.7" fill="#33b044" stroke="#1e7a30" stroke-width="0.6"/>
<rect x="449.5" y="977.9" width="4.2" height="33.5" fill="#33b044" stroke="#1e7a30" stroke-width="0.6"/>
<rect x="461.5" y="942" width="4.2" height="67.3" fill="#33b044" stroke="#1e7a30" stroke-width="0.6"/>
<rect x="473.5" y="924.4" width="4.2" height="78.7" fill="#33b044" stroke="#1e7a30" stroke-width="0.6"/>
<rect x="485.5" y="915.9" width="4.2" height="63.8" fill="#33b044" stroke="#1e7a30" stroke-width="0.6"/>
<rect x="497.5" y="914.4" width="4.2" height="15.3" fill="#33b044" stroke="#1e7a30" stroke-width="0.6"/>
<rect x="509.5" y="912.6" width="4.2" height="5" fill="#33b044" stroke="#1e7a30" stroke-width="0.6"/>
<rect x="521.5" y="897.1" width="4.2" height="10" fill="#33b044" stroke="#1e7a30" stroke-width="0.6"/>
<rect x="533.5" y="887" width="4.2" height="10.1" fill="#33b044" stroke="#1e7a30" stroke-width="0.6"/>
<rect x="545.5" y="876.2" width="4.2" height="7.6" fill="#33b044" stroke="#1e7a30" stroke-width="0.6"/>
<rect x="557.5" y="864.9" width="4.2" height="7.6" fill="#33b044" stroke="#1e7a30" stroke-width="0.6"/>
<rect x="569.5" y="854.9" width="4.2" height="7" fill="#33b044" stroke="#1e7a30" stroke-width="0.6"/>
<rect x="581.5" y="842.3" width="4.2" height="6.5" fill="#33b044" stroke="#1e7a30" stroke-width="0.6"/>
<rect x="593.5" y="831" width="4.2" height="6.3" fill="#33b044" stroke="#1e7a30" stroke-width="0.6"/>
<rect x="605.5" y="816.7" width="4.2" height="5.8" fill="#33b044" stroke="#1e7a30" stroke-width="0.6"/>
<rect x="617.5" y="808.6" width="4.2" height="6.3" fill="#d5161c" stroke="#7a1418" stroke-width="0.6"/>
<path d="M401.5 1003.1H405.7M413.5 1010.6H417.7M425.5 1005.1H429.7M437.5 995.5H441.7M449.5 984.2H453.7M461.5 970.4H465.7M473.5 955.3H477.7M485.5 929.4H489.7M497.5 915.9H501.7M509.5 914.5H513.7M521.5 901.5H525.7M533.5 891.5H537.7M545.5 880H549.7M557.5 868.5H561.7M569.5 858.4H573.7M581.5 845.4H585.7M593.5 834H597.7M605.5 819.4H609.7M617.5 812H621.7" stroke="#0a1f0e" stroke-width="0.95" fill="none"/>
<g fill="none" stroke="#0a0a0a" stroke-width="0.85"><circle cx="403.6" cy="998.5" r="1.2"/><circle cx="415.6" cy="1003.8" r="1.2"/><circle cx="427.6" cy="998.5" r="1.2"/><circle cx="439.6" cy="992.5" r="1.2"/><circle cx="451.6" cy="983.7" r="1.2"/><circle cx="463.6" cy="972.9" r="1.2"/><circle cx="475.6" cy="962.1" r="1.2"/><circle cx="487.6" cy="948.5" r="1.2"/><circle cx="499.6" cy="931.5" r="1.2"/><circle cx="511.6" cy="916.4" r="1.2"/><circle cx="523.6" cy="902.1" r="1.2"/><circle cx="535.6" cy="892" r="1.2"/><circle cx="547.6" cy="880.3" r="1.2"/><circle cx="559.6" cy="868.7" r="1.2"/><circle cx="571.6" cy="858.6" r="1.2"/><circle cx="583.6" cy="845.6" r="1.2"/><circle cx="595.6" cy="833.8" r="1.2"/><circle cx="607.6" cy="819.2" r="1.2"/><circle cx="619.6" cy="811.7" r="1.2"/></g>
<path d="M384.2 1042.4L684.3 740.1" stroke="#1a1a1a" stroke-width="1.05" fill="none"/>
<path d="M384.2 740.1V1042.4H684.3V740.1" stroke="#4a4a4a" stroke-width="1.1" fill="none"/>
<path d="M384.2 740.1H684.3" stroke="#4a4a4a" stroke-width="1.1" fill="none"/>
<path d="M385.7 1042.4v-2.5M384.2 1041h2.5M389.3 1042.4v-2.5M384.2 1037.3h2.5M392.5 1042.4v-2.5M384.2 1034.1h2.5M395.3 1042.4v-2.5M384.2 1031.3h2.5M397.8 1044.8v-8.7M381.8 1028.8h8.7M414.3 1042.4v-2.5M384.2 1012.2h2.5M423.9 1042.4v-2.5M384.2 1002.5h2.5M430.7 1042.4v-2.5M384.2 995.6h2.5M436 1042.4v-4.2M384.2 990.3h4.2M440.4 1042.4v-2.5M384.2 985.9h2.5M444 1042.4v-2.5M384.2 982.3h2.5M447.2 1042.4v-2.5M384.2 979.1h2.5M450 1042.4v-2.5M384.2 976.2h2.5M452.5 1044.8v-8.7M381.8 973.7h8.7M469 1042.4v-2.5M384.2 957.2h2.5M478.6 1042.4v-2.5M384.2 947.5h2.5M485.4 1042.4v-2.5M384.2 940.6h2.5M490.7 1042.4v-4.2M384.2 935.2h4.2M495.1 1042.4v-2.5M384.2 930.9h2.5M498.7 1042.4v-2.5M384.2 927.2h2.5M501.9 1042.4v-2.5M384.2 924h2.5M504.7 1042.4v-2.5M384.2 921.2h2.5M507.2 1044.8v-8.7M381.8 918.7h8.7M523.7 1042.4v-2.5M384.2 902.1h2.5M533.3 1042.4v-2.5M384.2 892.4h2.5M540.1 1042.4v-2.5M384.2 885.5h2.5M545.4 1042.4v-4.2M384.2 880.2h4.2M549.8 1042.4v-2.5M384.2 875.8h2.5M553.4 1042.4v-2.5M384.2 872.1h2.5M556.6 1042.4v-2.5M384.2 868.9h2.5M559.4 1042.4v-2.5M384.2 866.1h2.5M561.9 1044.8v-8.7M381.8 863.6h8.7M578.4 1042.4v-2.5M384.2 847h2.5M588 1042.4v-2.5M384.2 837.3h2.5M594.8 1042.4v-2.5M384.2 830.4h2.5M600.1 1042.4v-4.2M384.2 825.1h4.2M604.5 1042.4v-2.5M384.2 820.7h2.5M608.1 1042.4v-2.5M384.2 817.1h2.5M611.3 1042.4v-2.5M384.2 813.9h2.5M614.1 1042.4v-2.5M384.2 811h2.5M616.6 1044.8v-8.7M381.8 808.5h8.7M633.1 1042.4v-2.5M384.2 791.9h2.5M642.7 1042.4v-2.5M384.2 782.2h2.5M649.5 1042.4v-2.5M384.2 775.4h2.5M654.8 1042.4v-4.2M384.2 770h4.2M659.2 1042.4v-2.5M384.2 765.7h2.5M662.8 1042.4v-2.5M384.2 762h2.5M666 1042.4v-2.5M384.2 758.8h2.5M668.8 1042.4v-2.5M384.2 756h2.5M671.3 1044.8v-8.7M381.8 753.4h8.7" stroke="#333" stroke-width="1.15" fill="none"/>
<text class="tk" x="398.1" y="1058.4" text-anchor="middle">10<tspan class="sp" dy="-5.1">0</tspan></text>
<text class="tk" x="379.8" y="1034.4" text-anchor="end">10<tspan class="sp" dy="-5.1">0</tspan></text>
<text class="tk" x="452.8" y="1058.4" text-anchor="middle">10<tspan class="sp" dy="-5.1">1</tspan></text>
<text class="tk" x="379.8" y="979.3" text-anchor="end">10<tspan class="sp" dy="-5.1">1</tspan></text>
<text class="tk" x="507.5" y="1058.4" text-anchor="middle">10<tspan class="sp" dy="-5.1">2</tspan></text>
<text class="tk" x="379.8" y="924.3" text-anchor="end">10<tspan class="sp" dy="-5.1">2</tspan></text>
<text class="tk" x="562.2" y="1058.4" text-anchor="middle">10<tspan class="sp" dy="-5.1">3</tspan></text>
<text class="tk" x="379.8" y="869.2" text-anchor="end">10<tspan class="sp" dy="-5.1">3</tspan></text>
<text class="tk" x="616.9" y="1058.4" text-anchor="middle">10<tspan class="sp" dy="-5.1">4</tspan></text>
<text class="tk" x="379.8" y="814.1" text-anchor="end">10<tspan class="sp" dy="-5.1">4</tspan></text>
<text class="tk" x="671.6" y="1058.4" text-anchor="middle">10<tspan class="sp" dy="-5.1">5</tspan></text>
<text class="tk" x="379.8" y="759" text-anchor="end">10<tspan class="sp" dy="-5.1">5</tspan></text>
<text class="ax" x="532.8" y="1070.9" text-anchor="middle">Actual passenger flow</text>
<text class="ax" transform="translate(359.3 891.5) rotate(-90)" text-anchor="middle">Passenger flow obtained from modified radiation model</text>
<text class="pl" x="518" y="1098" text-anchor="middle">(f)</text>
</g>
</svg></body></html>
